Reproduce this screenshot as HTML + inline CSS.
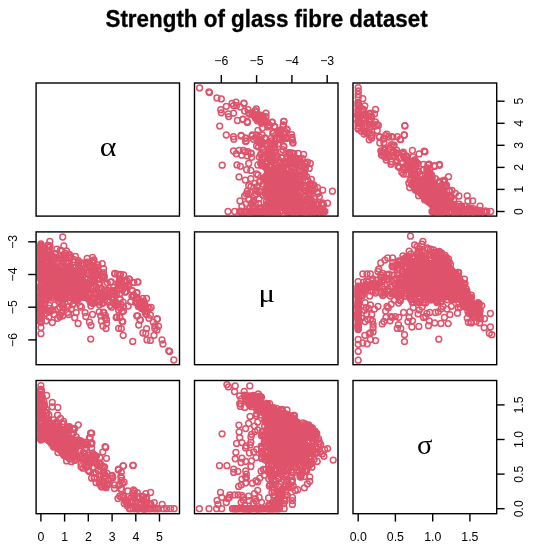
<!DOCTYPE html>
<html lang="en"><head><meta charset="utf-8"><title>Strength of glass fibre dataset</title>
<style>html,body{margin:0;padding:0;background:#fff}svg{display:block}</style></head>
<body>
<svg width="535" height="550" viewBox="0 0 535 550">
<rect width="535" height="550" fill="#fff"/>
<text transform="translate(266.6 26.9) scale(1 1.07)" text-anchor="middle" font-family="'Liberation Sans',Arial,Helvetica,sans-serif" font-weight="bold" font-size="22.4px" fill="#000" stroke="#000" stroke-width="0.3">Strength of glass fibre dataset</text>
<g fill="none" stroke="#DF536B" stroke-width="1.5">
<clipPath id="cp01"><rect x="194.5" y="83.0" width="143.5" height="133.1"/></clipPath>
<g clip-path="url(#cp01)">
<polygon points="272.0,170.0 286.0,168.0 293.0,180.0 299.0,192.0 304.0,203.0 307.0,211.0 270.0,211.0 270.0,190.0" fill="#DF536B" stroke="none"/>
<circle cx="199.6" cy="87.9" r="2.9"/><circle cx="208.9" cy="91.8" r="2.9"/><circle cx="209.5" cy="92.6" r="2.9"/><circle cx="216.9" cy="98.0" r="2.9"/><circle cx="221.3" cy="98.9" r="2.9"/><circle cx="226.3" cy="106.3" r="2.9"/><circle cx="220.8" cy="109.7" r="2.9"/><circle cx="221.3" cy="112.8" r="2.9"/><circle cx="232.1" cy="103.5" r="2.9"/><circle cx="233.5" cy="105.6" r="2.9"/><circle cx="236.0" cy="102.1" r="2.9"/><circle cx="236.5" cy="105.6" r="2.9"/><circle cx="243.9" cy="103.2" r="2.9"/><circle cx="233.5" cy="113.2" r="2.9"/><circle cx="228.7" cy="116.6" r="2.9"/><circle cx="228.2" cy="113.9" r="2.9"/><circle cx="237.4" cy="120.5" r="2.9"/><circle cx="242.9" cy="119.4" r="2.9"/><circle cx="247.3" cy="121.5" r="2.9"/><circle cx="240.4" cy="107.0" r="2.9"/><circle cx="244.6" cy="111.1" r="2.9"/><circle cx="248.0" cy="109.7" r="2.9"/><circle cx="248.7" cy="113.2" r="2.9"/><circle cx="256.3" cy="109.0" r="2.9"/><circle cx="219.7" cy="126.1" r="2.9"/><circle cx="226.3" cy="135.0" r="2.9"/><circle cx="233.5" cy="136.7" r="2.9"/><circle cx="233.8" cy="139.2" r="2.9"/><circle cx="241.1" cy="136.0" r="2.9"/><circle cx="245.9" cy="138.1" r="2.9"/><circle cx="246.2" cy="140.9" r="2.9"/><circle cx="252.2" cy="136.0" r="2.9"/><circle cx="266.0" cy="113.2" r="2.9"/><circle cx="266.0" cy="116.7" r="2.9"/><circle cx="272.2" cy="122.2" r="2.9"/><circle cx="268.1" cy="125.6" r="2.9"/><circle cx="274.3" cy="126.3" r="2.9"/><circle cx="284.0" cy="121.5" r="2.9"/><circle cx="283.3" cy="125.0" r="2.9"/><circle cx="286.7" cy="129.1" r="2.9"/><circle cx="272.9" cy="133.3" r="2.9"/><circle cx="279.8" cy="132.6" r="2.9"/><circle cx="284.0" cy="132.6" r="2.9"/><circle cx="291.6" cy="134.6" r="2.9"/><circle cx="292.0" cy="137.4" r="2.9"/><circle cx="292.3" cy="140.2" r="2.9"/><circle cx="293.0" cy="142.9" r="2.9"/><circle cx="222.2" cy="165.2" r="2.9"/><circle cx="237.0" cy="164.9" r="2.9"/><circle cx="240.4" cy="166.3" r="2.9"/><circle cx="248.7" cy="163.5" r="2.9"/><circle cx="246.6" cy="169.7" r="2.9"/><circle cx="250.8" cy="170.4" r="2.9"/><circle cx="239.0" cy="176.9" r="2.9"/><circle cx="245.3" cy="180.1" r="2.9"/><circle cx="250.8" cy="178.7" r="2.9"/><circle cx="248.7" cy="185.7" r="2.9"/><circle cx="247.3" cy="191.2" r="2.9"/><circle cx="244.6" cy="196.0" r="2.9"/><circle cx="240.0" cy="200.9" r="2.9"/><circle cx="233.5" cy="151.0" r="2.9"/><circle cx="236.3" cy="153.8" r="2.9"/><circle cx="239.0" cy="150.4" r="2.9"/><circle cx="241.8" cy="155.2" r="2.9"/><circle cx="245.3" cy="151.8" r="2.9"/><circle cx="247.3" cy="155.9" r="2.9"/><circle cx="250.8" cy="153.1" r="2.9"/><circle cx="251.5" cy="157.3" r="2.9"/><circle cx="332.4" cy="191.2" r="2.9"/><circle cx="327.5" cy="203.2" r="2.9"/><circle cx="322.7" cy="190.2" r="2.9"/><circle cx="288.8" cy="154.3" r="2.9"/><circle cx="303.6" cy="154.5" r="2.9"/><circle cx="299.9" cy="158.7" r="2.9"/><circle cx="307.5" cy="162.1" r="2.9"/><circle cx="310.3" cy="163.5" r="2.9"/><circle cx="309.2" cy="168.4" r="2.9"/><circle cx="306.8" cy="176.7" r="2.9"/><circle cx="311.4" cy="179.4" r="2.9"/><circle cx="313.7" cy="185.0" r="2.9"/><circle cx="317.5" cy="187.7" r="2.9"/><circle cx="319.3" cy="196.7" r="2.9"/><circle cx="322.7" cy="202.9" r="2.9"/><circle cx="321.3" cy="209.9" r="2.9"/><circle cx="243.9" cy="103.4" r="2.9"/><circle cx="242.8" cy="119.1" r="2.9"/><circle cx="247.3" cy="122.4" r="2.9"/><circle cx="272.0" cy="122.4" r="2.9"/><circle cx="274.8" cy="126.9" r="2.9"/><circle cx="283.7" cy="121.3" r="2.9"/><circle cx="283.2" cy="125.8" r="2.9"/><circle cx="287.1" cy="129.7" r="2.9"/><circle cx="268.0" cy="126.9" r="2.9"/><circle cx="262.4" cy="128.0" r="2.9"/><circle cx="257.9" cy="130.3" r="2.9"/><circle cx="273.6" cy="132.5" r="2.9"/><circle cx="279.3" cy="130.8" r="2.9"/><circle cx="241.1" cy="135.3" r="2.9"/><circle cx="245.6" cy="138.1" r="2.9"/><circle cx="245.6" cy="141.5" r="2.9"/><circle cx="252.3" cy="134.8" r="2.9"/><circle cx="256.8" cy="134.8" r="2.9"/><circle cx="253.5" cy="139.3" r="2.9"/><circle cx="257.9" cy="141.5" r="2.9"/><circle cx="258.5" cy="147.1" r="2.9"/><circle cx="264.7" cy="138.1" r="2.9"/><circle cx="266.9" cy="143.7" r="2.9"/><circle cx="291.6" cy="138.7" r="2.9"/><circle cx="292.7" cy="142.6" r="2.9"/><circle cx="243.4" cy="150.5" r="2.9"/><circle cx="247.9" cy="151.6" r="2.9"/><circle cx="251.2" cy="153.3" r="2.9"/><circle cx="268.0" cy="152.7" r="2.9"/><circle cx="289.3" cy="152.7" r="2.9"/><circle cx="293.8" cy="153.3" r="2.9"/><circle cx="298.3" cy="153.3" r="2.9"/><circle cx="252.3" cy="114.8" r="2.9"/><circle cx="262.1" cy="118.3" r="2.9"/><circle cx="252.7" cy="113.5" r="2.9"/><circle cx="257.4" cy="120.9" r="2.9"/><circle cx="255.2" cy="110.7" r="2.9"/><circle cx="259.3" cy="120.0" r="2.9"/><circle cx="261.5" cy="123.3" r="2.9"/><circle cx="257.6" cy="116.1" r="2.9"/><circle cx="267.5" cy="122.8" r="2.9"/><circle cx="256.5" cy="112.2" r="2.9"/><circle cx="257.6" cy="117.6" r="2.9"/><circle cx="256.3" cy="116.0" r="2.9"/><circle cx="257.3" cy="119.4" r="2.9"/><circle cx="261.2" cy="120.3" r="2.9"/><circle cx="249.7" cy="114.2" r="2.9"/><circle cx="252.5" cy="113.0" r="2.9"/><circle cx="252.0" cy="113.3" r="2.9"/><circle cx="254.2" cy="115.6" r="2.9"/><circle cx="269.8" cy="125.3" r="2.9"/><circle cx="262.9" cy="115.9" r="2.9"/><circle cx="255.3" cy="117.9" r="2.9"/><circle cx="256.5" cy="117.7" r="2.9"/><circle cx="259.6" cy="114.8" r="2.9"/><circle cx="261.0" cy="116.4" r="2.9"/><circle cx="265.3" cy="120.5" r="2.9"/><circle cx="260.0" cy="118.7" r="2.9"/><circle cx="262.1" cy="117.9" r="2.9"/><circle cx="261.4" cy="119.2" r="2.9"/><circle cx="261.1" cy="121.8" r="2.9"/><circle cx="259.3" cy="115.4" r="2.9"/><circle cx="259.6" cy="120.1" r="2.9"/><circle cx="264.2" cy="120.2" r="2.9"/><circle cx="260.9" cy="140.8" r="2.9"/><circle cx="260.0" cy="139.7" r="2.9"/><circle cx="259.6" cy="136.9" r="2.9"/><circle cx="255.4" cy="137.6" r="2.9"/><circle cx="261.1" cy="144.3" r="2.9"/><circle cx="262.4" cy="142.7" r="2.9"/><circle cx="261.7" cy="141.4" r="2.9"/><circle cx="259.6" cy="141.7" r="2.9"/><circle cx="265.2" cy="137.9" r="2.9"/><circle cx="256.6" cy="145.9" r="2.9"/><circle cx="259.9" cy="142.4" r="2.9"/><circle cx="262.1" cy="135.0" r="2.9"/><circle cx="267.5" cy="145.2" r="2.9"/><circle cx="259.6" cy="141.6" r="2.9"/><circle cx="305.3" cy="211.5" r="2.9"/><circle cx="267.0" cy="211.5" r="2.9"/><circle cx="264.1" cy="211.5" r="2.9"/><circle cx="244.8" cy="211.5" r="2.9"/><circle cx="246.3" cy="211.5" r="2.9"/><circle cx="288.9" cy="211.5" r="2.9"/><circle cx="259.5" cy="211.5" r="2.9"/><circle cx="290.5" cy="211.5" r="2.9"/><circle cx="270.7" cy="211.5" r="2.9"/><circle cx="277.7" cy="211.5" r="2.9"/><circle cx="321.5" cy="211.5" r="2.9"/><circle cx="280.3" cy="211.5" r="2.9"/><circle cx="288.2" cy="211.5" r="2.9"/><circle cx="313.5" cy="211.5" r="2.9"/><circle cx="254.3" cy="211.5" r="2.9"/><circle cx="251.8" cy="211.5" r="2.9"/><circle cx="317.1" cy="211.5" r="2.9"/><circle cx="309.2" cy="211.5" r="2.9"/><circle cx="260.1" cy="211.5" r="2.9"/><circle cx="254.9" cy="211.5" r="2.9"/><circle cx="302.5" cy="211.5" r="2.9"/><circle cx="319.8" cy="211.5" r="2.9"/><circle cx="255.5" cy="211.5" r="2.9"/><circle cx="320.7" cy="211.5" r="2.9"/><circle cx="314.8" cy="211.5" r="2.9"/><circle cx="290.7" cy="211.5" r="2.9"/><circle cx="275.0" cy="211.5" r="2.9"/><circle cx="247.5" cy="211.5" r="2.9"/><circle cx="241.8" cy="211.5" r="2.9"/><circle cx="321.8" cy="211.5" r="2.9"/><circle cx="259.1" cy="211.5" r="2.9"/><circle cx="299.4" cy="211.5" r="2.9"/><circle cx="260.7" cy="211.5" r="2.9"/><circle cx="309.8" cy="211.5" r="2.9"/><circle cx="290.1" cy="211.5" r="2.9"/><circle cx="263.9" cy="211.5" r="2.9"/><circle cx="253.7" cy="211.5" r="2.9"/><circle cx="300.8" cy="211.5" r="2.9"/><circle cx="244.4" cy="211.5" r="2.9"/><circle cx="258.3" cy="211.5" r="2.9"/><circle cx="286.9" cy="211.5" r="2.9"/><circle cx="312.2" cy="211.5" r="2.9"/><circle cx="291.6" cy="211.5" r="2.9"/><circle cx="262.7" cy="211.5" r="2.9"/><circle cx="317.9" cy="211.5" r="2.9"/><circle cx="256.1" cy="211.5" r="2.9"/><circle cx="239.9" cy="211.5" r="2.9"/><circle cx="261.8" cy="211.5" r="2.9"/><circle cx="277.1" cy="211.5" r="2.9"/><circle cx="243.7" cy="211.5" r="2.9"/><circle cx="253.7" cy="211.5" r="2.9"/><circle cx="270.4" cy="211.5" r="2.9"/><circle cx="288.0" cy="211.5" r="2.9"/><circle cx="249.9" cy="211.5" r="2.9"/><circle cx="269.8" cy="211.5" r="2.9"/><circle cx="315.6" cy="211.5" r="2.9"/><circle cx="323.3" cy="211.5" r="2.9"/><circle cx="295.3" cy="211.5" r="2.9"/><circle cx="298.3" cy="211.5" r="2.9"/><circle cx="289.1" cy="211.5" r="2.9"/><circle cx="250.6" cy="211.5" r="2.9"/><circle cx="241.5" cy="211.5" r="2.9"/><circle cx="240.0" cy="211.5" r="2.9"/><circle cx="317.2" cy="211.5" r="2.9"/><circle cx="299.1" cy="211.5" r="2.9"/><circle cx="321.8" cy="211.5" r="2.9"/><circle cx="240.3" cy="211.5" r="2.9"/><circle cx="293.5" cy="211.5" r="2.9"/><circle cx="280.2" cy="211.5" r="2.9"/><circle cx="301.7" cy="211.5" r="2.9"/><circle cx="266.1" cy="211.5" r="2.9"/><circle cx="324.9" cy="211.5" r="2.9"/><circle cx="245.0" cy="211.5" r="2.9"/><circle cx="285.7" cy="211.5" r="2.9"/><circle cx="302.3" cy="211.5" r="2.9"/><circle cx="316.4" cy="211.5" r="2.9"/><circle cx="302.3" cy="211.5" r="2.9"/><circle cx="299.4" cy="211.5" r="2.9"/><circle cx="307.1" cy="211.5" r="2.9"/><circle cx="317.6" cy="211.5" r="2.9"/><circle cx="228.0" cy="211.5" r="2.9"/><circle cx="234.6" cy="211.5" r="2.9"/><circle cx="280.6" cy="191.5" r="2.9"/><circle cx="309.7" cy="203.6" r="2.9"/><circle cx="284.1" cy="198.4" r="2.9"/><circle cx="295.1" cy="171.9" r="2.9"/><circle cx="292.9" cy="186.6" r="2.9"/><circle cx="266.3" cy="188.6" r="2.9"/><circle cx="301.0" cy="184.8" r="2.9"/><circle cx="285.3" cy="201.5" r="2.9"/><circle cx="266.4" cy="195.8" r="2.9"/><circle cx="299.0" cy="179.3" r="2.9"/><circle cx="294.6" cy="206.8" r="2.9"/><circle cx="278.0" cy="191.1" r="2.9"/><circle cx="285.4" cy="205.0" r="2.9"/><circle cx="279.3" cy="190.3" r="2.9"/><circle cx="304.7" cy="206.4" r="2.9"/><circle cx="292.9" cy="167.6" r="2.9"/><circle cx="269.2" cy="179.3" r="2.9"/><circle cx="306.4" cy="202.2" r="2.9"/><circle cx="299.7" cy="208.8" r="2.9"/><circle cx="276.7" cy="158.0" r="2.9"/><circle cx="273.3" cy="173.9" r="2.9"/><circle cx="295.2" cy="179.1" r="2.9"/><circle cx="278.7" cy="201.5" r="2.9"/><circle cx="299.6" cy="184.1" r="2.9"/><circle cx="278.4" cy="198.4" r="2.9"/><circle cx="295.3" cy="176.0" r="2.9"/><circle cx="295.4" cy="189.6" r="2.9"/><circle cx="304.8" cy="209.3" r="2.9"/><circle cx="287.2" cy="158.6" r="2.9"/><circle cx="276.4" cy="169.5" r="2.9"/><circle cx="294.6" cy="196.2" r="2.9"/><circle cx="282.9" cy="198.5" r="2.9"/><circle cx="268.9" cy="176.5" r="2.9"/><circle cx="295.2" cy="206.1" r="2.9"/><circle cx="282.0" cy="184.0" r="2.9"/><circle cx="308.6" cy="198.8" r="2.9"/><circle cx="300.3" cy="200.2" r="2.9"/><circle cx="296.0" cy="193.6" r="2.9"/><circle cx="273.3" cy="205.5" r="2.9"/><circle cx="314.0" cy="210.5" r="2.9"/><circle cx="290.5" cy="198.4" r="2.9"/><circle cx="279.0" cy="206.1" r="2.9"/><circle cx="266.4" cy="175.7" r="2.9"/><circle cx="291.2" cy="196.9" r="2.9"/><circle cx="279.8" cy="198.2" r="2.9"/><circle cx="269.4" cy="156.7" r="2.9"/><circle cx="289.4" cy="194.0" r="2.9"/><circle cx="306.5" cy="191.8" r="2.9"/><circle cx="273.7" cy="181.2" r="2.9"/><circle cx="277.4" cy="194.4" r="2.9"/><circle cx="295.9" cy="181.0" r="2.9"/><circle cx="278.5" cy="171.8" r="2.9"/><circle cx="306.8" cy="205.5" r="2.9"/><circle cx="273.0" cy="202.3" r="2.9"/><circle cx="292.4" cy="160.1" r="2.9"/><circle cx="290.4" cy="179.7" r="2.9"/><circle cx="283.2" cy="199.1" r="2.9"/><circle cx="291.8" cy="178.9" r="2.9"/><circle cx="290.6" cy="173.9" r="2.9"/><circle cx="312.7" cy="207.0" r="2.9"/><circle cx="276.3" cy="177.8" r="2.9"/><circle cx="268.7" cy="175.2" r="2.9"/><circle cx="305.2" cy="205.5" r="2.9"/><circle cx="287.3" cy="167.6" r="2.9"/><circle cx="272.1" cy="187.2" r="2.9"/><circle cx="272.3" cy="161.8" r="2.9"/><circle cx="280.8" cy="187.3" r="2.9"/><circle cx="267.6" cy="194.5" r="2.9"/><circle cx="268.5" cy="180.2" r="2.9"/><circle cx="281.9" cy="173.9" r="2.9"/><circle cx="272.8" cy="188.0" r="2.9"/><circle cx="295.8" cy="181.4" r="2.9"/><circle cx="301.3" cy="199.7" r="2.9"/><circle cx="278.7" cy="207.0" r="2.9"/><circle cx="273.6" cy="211.5" r="2.9"/><circle cx="274.7" cy="194.2" r="2.9"/><circle cx="283.3" cy="191.5" r="2.9"/><circle cx="298.2" cy="206.2" r="2.9"/><circle cx="288.8" cy="196.3" r="2.9"/><circle cx="288.6" cy="191.6" r="2.9"/><circle cx="272.0" cy="151.6" r="2.9"/><circle cx="291.2" cy="180.5" r="2.9"/><circle cx="271.8" cy="160.3" r="2.9"/><circle cx="306.5" cy="211.4" r="2.9"/><circle cx="265.3" cy="208.8" r="2.9"/><circle cx="286.5" cy="196.7" r="2.9"/><circle cx="289.3" cy="175.0" r="2.9"/><circle cx="299.2" cy="201.9" r="2.9"/><circle cx="271.6" cy="176.5" r="2.9"/><circle cx="272.3" cy="157.7" r="2.9"/><circle cx="309.3" cy="199.1" r="2.9"/><circle cx="299.3" cy="202.9" r="2.9"/><circle cx="295.4" cy="173.3" r="2.9"/><circle cx="275.7" cy="206.2" r="2.9"/><circle cx="301.5" cy="197.6" r="2.9"/><circle cx="309.5" cy="204.2" r="2.9"/><circle cx="298.8" cy="196.9" r="2.9"/><circle cx="280.1" cy="177.5" r="2.9"/><circle cx="295.9" cy="187.6" r="2.9"/><circle cx="274.3" cy="208.4" r="2.9"/><circle cx="297.0" cy="184.0" r="2.9"/><circle cx="290.3" cy="172.3" r="2.9"/><circle cx="299.2" cy="196.5" r="2.9"/><circle cx="294.6" cy="195.0" r="2.9"/><circle cx="275.6" cy="173.1" r="2.9"/><circle cx="275.3" cy="205.9" r="2.9"/><circle cx="291.2" cy="180.0" r="2.9"/><circle cx="293.7" cy="196.4" r="2.9"/><circle cx="264.4" cy="207.5" r="2.9"/><circle cx="270.5" cy="177.7" r="2.9"/><circle cx="271.0" cy="179.2" r="2.9"/><circle cx="289.9" cy="185.9" r="2.9"/><circle cx="281.4" cy="165.6" r="2.9"/><circle cx="296.7" cy="183.4" r="2.9"/><circle cx="277.0" cy="193.6" r="2.9"/><circle cx="275.0" cy="149.8" r="2.9"/><circle cx="270.3" cy="196.1" r="2.9"/><circle cx="282.7" cy="205.3" r="2.9"/><circle cx="265.9" cy="205.9" r="2.9"/><circle cx="284.8" cy="178.0" r="2.9"/><circle cx="289.7" cy="207.9" r="2.9"/><circle cx="290.0" cy="155.1" r="2.9"/><circle cx="285.5" cy="190.4" r="2.9"/><circle cx="286.1" cy="164.0" r="2.9"/><circle cx="292.9" cy="174.3" r="2.9"/><circle cx="268.0" cy="205.0" r="2.9"/><circle cx="303.6" cy="187.6" r="2.9"/><circle cx="298.3" cy="183.7" r="2.9"/><circle cx="293.4" cy="188.2" r="2.9"/><circle cx="275.2" cy="210.7" r="2.9"/><circle cx="310.5" cy="204.1" r="2.9"/><circle cx="266.6" cy="191.0" r="2.9"/><circle cx="291.2" cy="188.0" r="2.9"/><circle cx="281.8" cy="178.1" r="2.9"/><circle cx="273.2" cy="169.3" r="2.9"/><circle cx="301.5" cy="201.5" r="2.9"/><circle cx="284.5" cy="163.8" r="2.9"/><circle cx="296.6" cy="211.3" r="2.9"/><circle cx="279.2" cy="182.7" r="2.9"/><circle cx="301.5" cy="206.9" r="2.9"/><circle cx="267.1" cy="203.9" r="2.9"/><circle cx="291.9" cy="178.5" r="2.9"/><circle cx="273.3" cy="190.0" r="2.9"/><circle cx="266.3" cy="166.7" r="2.9"/><circle cx="300.4" cy="192.1" r="2.9"/><circle cx="277.0" cy="156.3" r="2.9"/><circle cx="281.0" cy="194.2" r="2.9"/><circle cx="299.6" cy="184.0" r="2.9"/><circle cx="310.7" cy="208.1" r="2.9"/><circle cx="278.8" cy="173.0" r="2.9"/><circle cx="311.5" cy="205.2" r="2.9"/><circle cx="275.2" cy="170.5" r="2.9"/><circle cx="281.4" cy="170.6" r="2.9"/><circle cx="272.3" cy="183.6" r="2.9"/><circle cx="271.4" cy="196.3" r="2.9"/><circle cx="290.8" cy="183.9" r="2.9"/><circle cx="291.0" cy="198.2" r="2.9"/><circle cx="301.1" cy="205.4" r="2.9"/><circle cx="266.5" cy="188.2" r="2.9"/><circle cx="269.6" cy="195.5" r="2.9"/><circle cx="273.7" cy="196.7" r="2.9"/><circle cx="289.6" cy="196.7" r="2.9"/><circle cx="282.9" cy="169.0" r="2.9"/><circle cx="288.2" cy="181.9" r="2.9"/><circle cx="300.2" cy="193.0" r="2.9"/><circle cx="305.8" cy="190.3" r="2.9"/><circle cx="307.2" cy="199.4" r="2.9"/><circle cx="306.2" cy="204.8" r="2.9"/><circle cx="289.8" cy="193.2" r="2.9"/><circle cx="301.3" cy="211.4" r="2.9"/><circle cx="281.9" cy="157.9" r="2.9"/><circle cx="272.8" cy="174.6" r="2.9"/><circle cx="277.5" cy="210.0" r="2.9"/><circle cx="265.1" cy="167.0" r="2.9"/><circle cx="268.1" cy="189.1" r="2.9"/><circle cx="265.3" cy="176.8" r="2.9"/><circle cx="293.0" cy="206.1" r="2.9"/><circle cx="274.5" cy="193.6" r="2.9"/><circle cx="293.5" cy="161.6" r="2.9"/><circle cx="271.8" cy="165.3" r="2.9"/><circle cx="271.1" cy="196.2" r="2.9"/><circle cx="278.5" cy="182.6" r="2.9"/><circle cx="275.8" cy="204.7" r="2.9"/><circle cx="291.0" cy="209.2" r="2.9"/><circle cx="287.6" cy="161.4" r="2.9"/><circle cx="264.6" cy="208.6" r="2.9"/><circle cx="290.0" cy="180.5" r="2.9"/><circle cx="276.6" cy="211.4" r="2.9"/><circle cx="281.7" cy="198.8" r="2.9"/><circle cx="299.8" cy="186.4" r="2.9"/><circle cx="295.8" cy="211.5" r="2.9"/><circle cx="276.1" cy="181.7" r="2.9"/><circle cx="270.0" cy="197.1" r="2.9"/><circle cx="306.8" cy="200.4" r="2.9"/><circle cx="266.4" cy="164.5" r="2.9"/><circle cx="287.4" cy="177.5" r="2.9"/><circle cx="270.4" cy="201.1" r="2.9"/><circle cx="278.5" cy="167.2" r="2.9"/><circle cx="266.0" cy="166.9" r="2.9"/><circle cx="286.8" cy="193.5" r="2.9"/><circle cx="281.1" cy="191.7" r="2.9"/><circle cx="267.6" cy="172.6" r="2.9"/><circle cx="286.5" cy="209.8" r="2.9"/><circle cx="291.9" cy="176.8" r="2.9"/><circle cx="262.6" cy="211.5" r="2.9"/><circle cx="281.9" cy="182.1" r="2.9"/><circle cx="277.8" cy="168.9" r="2.9"/><circle cx="282.8" cy="190.3" r="2.9"/><circle cx="275.6" cy="160.0" r="2.9"/><circle cx="269.5" cy="153.1" r="2.9"/><circle cx="297.9" cy="193.0" r="2.9"/><circle cx="271.5" cy="173.1" r="2.9"/><circle cx="266.8" cy="161.7" r="2.9"/><circle cx="270.3" cy="155.1" r="2.9"/><circle cx="289.1" cy="189.1" r="2.9"/><circle cx="302.6" cy="200.4" r="2.9"/><circle cx="282.5" cy="168.5" r="2.9"/><circle cx="283.2" cy="192.5" r="2.9"/><circle cx="297.0" cy="186.6" r="2.9"/><circle cx="280.1" cy="189.3" r="2.9"/><circle cx="267.6" cy="171.5" r="2.9"/><circle cx="289.0" cy="198.3" r="2.9"/><circle cx="270.4" cy="196.8" r="2.9"/><circle cx="280.7" cy="179.5" r="2.9"/><circle cx="269.5" cy="193.4" r="2.9"/><circle cx="299.9" cy="201.3" r="2.9"/><circle cx="272.5" cy="208.4" r="2.9"/><circle cx="266.4" cy="162.9" r="2.9"/><circle cx="292.6" cy="192.3" r="2.9"/><circle cx="279.4" cy="207.4" r="2.9"/><circle cx="281.1" cy="177.1" r="2.9"/><circle cx="268.6" cy="210.3" r="2.9"/><circle cx="269.2" cy="205.8" r="2.9"/><circle cx="290.8" cy="183.4" r="2.9"/><circle cx="310.2" cy="211.5" r="2.9"/><circle cx="268.5" cy="200.6" r="2.9"/><circle cx="277.3" cy="205.3" r="2.9"/><circle cx="297.6" cy="194.9" r="2.9"/><circle cx="282.2" cy="185.5" r="2.9"/><circle cx="272.6" cy="177.4" r="2.9"/><circle cx="269.6" cy="172.1" r="2.9"/><circle cx="289.5" cy="164.1" r="2.9"/><circle cx="286.9" cy="173.7" r="2.9"/><circle cx="310.7" cy="198.3" r="2.9"/><circle cx="305.6" cy="180.9" r="2.9"/><circle cx="317.4" cy="192.1" r="2.9"/><circle cx="314.8" cy="198.6" r="2.9"/><circle cx="304.6" cy="162.9" r="2.9"/><circle cx="307.9" cy="180.4" r="2.9"/><circle cx="304.9" cy="176.4" r="2.9"/><circle cx="295.6" cy="158.2" r="2.9"/><circle cx="296.2" cy="159.1" r="2.9"/><circle cx="311.9" cy="201.3" r="2.9"/><circle cx="301.8" cy="172.0" r="2.9"/><circle cx="312.0" cy="203.5" r="2.9"/><circle cx="303.7" cy="173.8" r="2.9"/><circle cx="299.5" cy="160.6" r="2.9"/><circle cx="294.3" cy="162.5" r="2.9"/><circle cx="303.8" cy="168.4" r="2.9"/><circle cx="300.1" cy="166.3" r="2.9"/><circle cx="313.0" cy="206.1" r="2.9"/><circle cx="299.4" cy="162.6" r="2.9"/><circle cx="316.1" cy="210.5" r="2.9"/><circle cx="311.8" cy="191.0" r="2.9"/><circle cx="321.4" cy="203.7" r="2.9"/><circle cx="304.9" cy="166.6" r="2.9"/><circle cx="302.2" cy="158.5" r="2.9"/><circle cx="308.0" cy="193.2" r="2.9"/><circle cx="304.8" cy="185.9" r="2.9"/><circle cx="303.9" cy="169.5" r="2.9"/><circle cx="314.8" cy="188.5" r="2.9"/><circle cx="302.0" cy="166.4" r="2.9"/><circle cx="316.9" cy="204.4" r="2.9"/><circle cx="305.3" cy="168.4" r="2.9"/><circle cx="310.4" cy="183.5" r="2.9"/><circle cx="309.5" cy="184.3" r="2.9"/><circle cx="316.9" cy="210.0" r="2.9"/><circle cx="312.8" cy="192.8" r="2.9"/><circle cx="306.2" cy="163.9" r="2.9"/><circle cx="291.5" cy="153.0" r="2.9"/><circle cx="318.2" cy="203.8" r="2.9"/><circle cx="298.8" cy="170.0" r="2.9"/><circle cx="314.3" cy="202.1" r="2.9"/><circle cx="295.3" cy="160.6" r="2.9"/><circle cx="314.6" cy="210.8" r="2.9"/><circle cx="296.9" cy="163.3" r="2.9"/><circle cx="304.4" cy="172.0" r="2.9"/><circle cx="283.8" cy="146.1" r="2.9"/><circle cx="282.2" cy="138.6" r="2.9"/><circle cx="283.7" cy="146.7" r="2.9"/><circle cx="282.9" cy="149.7" r="2.9"/><circle cx="268.2" cy="149.1" r="2.9"/><circle cx="274.8" cy="144.4" r="2.9"/><circle cx="271.5" cy="148.3" r="2.9"/><circle cx="271.0" cy="138.4" r="2.9"/><circle cx="274.1" cy="143.5" r="2.9"/><circle cx="283.8" cy="137.9" r="2.9"/><circle cx="280.0" cy="137.7" r="2.9"/><circle cx="272.1" cy="148.2" r="2.9"/><circle cx="273.1" cy="132.8" r="2.9"/><circle cx="273.4" cy="145.1" r="2.9"/><circle cx="270.6" cy="145.1" r="2.9"/><circle cx="278.0" cy="143.9" r="2.9"/><circle cx="258.0" cy="175.0" r="2.9"/><circle cx="254.8" cy="183.3" r="2.9"/><circle cx="262.6" cy="156.7" r="2.9"/><circle cx="256.3" cy="193.8" r="2.9"/><circle cx="261.2" cy="208.8" r="2.9"/><circle cx="255.4" cy="211.3" r="2.9"/><circle cx="255.8" cy="189.9" r="2.9"/><circle cx="260.3" cy="181.3" r="2.9"/><circle cx="259.2" cy="157.1" r="2.9"/><circle cx="257.2" cy="191.3" r="2.9"/><circle cx="256.5" cy="173.8" r="2.9"/><circle cx="259.3" cy="181.9" r="2.9"/><circle cx="257.0" cy="186.8" r="2.9"/><circle cx="259.7" cy="207.8" r="2.9"/><circle cx="254.6" cy="195.7" r="2.9"/><circle cx="264.6" cy="157.9" r="2.9"/><circle cx="253.2" cy="202.1" r="2.9"/><circle cx="260.7" cy="208.1" r="2.9"/><circle cx="258.2" cy="211.5" r="2.9"/><circle cx="261.8" cy="165.5" r="2.9"/><circle cx="263.5" cy="178.2" r="2.9"/><circle cx="258.7" cy="203.7" r="2.9"/><circle cx="260.6" cy="154.6" r="2.9"/><circle cx="259.0" cy="198.8" r="2.9"/><circle cx="257.8" cy="165.0" r="2.9"/><circle cx="262.9" cy="184.1" r="2.9"/><circle cx="255.2" cy="203.6" r="2.9"/><circle cx="264.0" cy="157.3" r="2.9"/><circle cx="293.5" cy="201.8" r="2.9"/><circle cx="296.8" cy="164.8" r="2.9"/><circle cx="266.8" cy="181.3" r="2.9"/><circle cx="263.7" cy="179.1" r="2.9"/><circle cx="250.9" cy="186.6" r="2.9"/><circle cx="279.6" cy="139.7" r="2.9"/><circle cx="249.9" cy="207.1" r="2.9"/><circle cx="291.9" cy="158.7" r="2.9"/><circle cx="256.7" cy="211.5" r="2.9"/><circle cx="298.8" cy="190.1" r="2.9"/><circle cx="270.6" cy="154.8" r="2.9"/><circle cx="274.7" cy="141.1" r="2.9"/><circle cx="293.7" cy="164.3" r="2.9"/><circle cx="278.8" cy="171.0" r="2.9"/><circle cx="289.2" cy="152.6" r="2.9"/><circle cx="312.6" cy="185.2" r="2.9"/><circle cx="278.7" cy="206.5" r="2.9"/><circle cx="272.9" cy="190.7" r="2.9"/><circle cx="291.1" cy="166.2" r="2.9"/><circle cx="263.9" cy="165.6" r="2.9"/><circle cx="299.1" cy="184.8" r="2.9"/><circle cx="260.8" cy="163.2" r="2.9"/><circle cx="251.2" cy="203.3" r="2.9"/><circle cx="261.4" cy="163.9" r="2.9"/><circle cx="269.0" cy="197.1" r="2.9"/><circle cx="286.4" cy="137.3" r="2.9"/><circle cx="270.9" cy="160.1" r="2.9"/><circle cx="301.5" cy="184.5" r="2.9"/><circle cx="269.2" cy="203.5" r="2.9"/><circle cx="293.8" cy="167.9" r="2.9"/><circle cx="270.7" cy="167.6" r="2.9"/><circle cx="266.9" cy="184.7" r="2.9"/><circle cx="291.5" cy="209.5" r="2.9"/><circle cx="323.0" cy="211.4" r="2.9"/><circle cx="273.6" cy="197.8" r="2.9"/><circle cx="295.2" cy="187.2" r="2.9"/><circle cx="279.3" cy="162.3" r="2.9"/><circle cx="271.4" cy="140.9" r="2.9"/><circle cx="273.5" cy="190.6" r="2.9"/><circle cx="295.2" cy="180.7" r="2.9"/><circle cx="309.0" cy="189.7" r="2.9"/><circle cx="279.8" cy="130.3" r="2.9"/><circle cx="313.1" cy="207.4" r="2.9"/><circle cx="269.8" cy="173.5" r="2.9"/><circle cx="285.4" cy="138.2" r="2.9"/><circle cx="283.1" cy="139.3" r="2.9"/><circle cx="265.0" cy="193.5" r="2.9"/><circle cx="261.0" cy="163.4" r="2.9"/><circle cx="278.4" cy="175.3" r="2.9"/><circle cx="279.0" cy="199.6" r="2.9"/><circle cx="248.9" cy="199.6" r="2.9"/><circle cx="253.2" cy="209.5" r="2.9"/><circle cx="284.6" cy="162.7" r="2.9"/><circle cx="292.0" cy="200.7" r="2.9"/><circle cx="309.6" cy="190.0" r="2.9"/><circle cx="285.1" cy="131.4" r="2.9"/><circle cx="275.4" cy="135.5" r="2.9"/><circle cx="281.6" cy="183.3" r="2.9"/><circle cx="315.4" cy="207.6" r="2.9"/><circle cx="288.3" cy="170.6" r="2.9"/><circle cx="265.4" cy="190.4" r="2.9"/><circle cx="262.0" cy="159.5" r="2.9"/><circle cx="276.5" cy="168.6" r="2.9"/><circle cx="270.5" cy="164.7" r="2.9"/><circle cx="278.3" cy="133.1" r="2.9"/><circle cx="284.9" cy="174.4" r="2.9"/><circle cx="274.0" cy="147.5" r="2.9"/><circle cx="266.7" cy="169.2" r="2.9"/><circle cx="259.6" cy="191.2" r="2.9"/><circle cx="281.4" cy="129.7" r="2.9"/><circle cx="274.6" cy="209.2" r="2.9"/><circle cx="290.8" cy="159.6" r="2.9"/><circle cx="265.6" cy="179.6" r="2.9"/><circle cx="290.1" cy="155.2" r="2.9"/><circle cx="282.3" cy="171.8" r="2.9"/><circle cx="263.0" cy="195.0" r="2.9"/><circle cx="276.2" cy="200.4" r="2.9"/><circle cx="274.2" cy="152.7" r="2.9"/><circle cx="267.9" cy="155.3" r="2.9"/><circle cx="309.6" cy="194.4" r="2.9"/><circle cx="293.1" cy="174.8" r="2.9"/><circle cx="241.9" cy="206.5" r="2.9"/><circle cx="304.0" cy="177.1" r="2.9"/><circle cx="275.6" cy="185.4" r="2.9"/><circle cx="323.6" cy="205.1" r="2.9"/><circle cx="246.4" cy="193.9" r="2.9"/><circle cx="277.4" cy="191.4" r="2.9"/><circle cx="272.1" cy="166.2" r="2.9"/><circle cx="277.1" cy="138.8" r="2.9"/><circle cx="267.2" cy="190.0" r="2.9"/><circle cx="310.9" cy="184.3" r="2.9"/><circle cx="286.6" cy="138.4" r="2.9"/><circle cx="275.3" cy="173.5" r="2.9"/><circle cx="272.1" cy="185.0" r="2.9"/><circle cx="298.6" cy="161.2" r="2.9"/><circle cx="269.4" cy="142.6" r="2.9"/><circle cx="269.7" cy="178.1" r="2.9"/><circle cx="284.2" cy="161.3" r="2.9"/><circle cx="288.8" cy="198.9" r="2.9"/><circle cx="270.5" cy="177.5" r="2.9"/><circle cx="280.8" cy="210.4" r="2.9"/><circle cx="267.9" cy="186.9" r="2.9"/><circle cx="302.1" cy="176.7" r="2.9"/><circle cx="300.9" cy="164.9" r="2.9"/><circle cx="292.5" cy="175.4" r="2.9"/><circle cx="322.9" cy="204.5" r="2.9"/><circle cx="278.7" cy="169.4" r="2.9"/><circle cx="259.7" cy="191.5" r="2.9"/><circle cx="299.4" cy="176.2" r="2.9"/><circle cx="286.9" cy="156.6" r="2.9"/><circle cx="252.9" cy="207.9" r="2.9"/><circle cx="305.0" cy="195.9" r="2.9"/><circle cx="248.3" cy="194.1" r="2.9"/><circle cx="285.5" cy="179.6" r="2.9"/><circle cx="250.3" cy="192.5" r="2.9"/><circle cx="289.5" cy="203.6" r="2.9"/><circle cx="270.9" cy="207.9" r="2.9"/><circle cx="312.9" cy="189.3" r="2.9"/><circle cx="262.5" cy="149.7" r="2.9"/><circle cx="261.6" cy="153.3" r="2.9"/><circle cx="281.2" cy="151.6" r="2.9"/><circle cx="264.2" cy="152.0" r="2.9"/><circle cx="283.3" cy="201.5" r="2.9"/><circle cx="253.6" cy="200.3" r="2.9"/><circle cx="286.2" cy="189.9" r="2.9"/><circle cx="285.4" cy="183.8" r="2.9"/><circle cx="318.1" cy="193.3" r="2.9"/><circle cx="278.5" cy="159.7" r="2.9"/><circle cx="302.0" cy="207.3" r="2.9"/><circle cx="283.0" cy="176.0" r="2.9"/><circle cx="269.6" cy="148.3" r="2.9"/><circle cx="246.1" cy="203.8" r="2.9"/><circle cx="250.2" cy="211.1" r="2.9"/><circle cx="266.3" cy="201.4" r="2.9"/><circle cx="288.5" cy="210.6" r="2.9"/>
</g>
<clipPath id="cp02"><rect x="353.0" y="83.0" width="143.7" height="133.1"/></clipPath>
<g clip-path="url(#cp02)">
<polygon points="410.0,186.0 418.0,196.0 425.0,204.0 433.0,210.0 462.0,210.0 454.0,202.0 446.0,193.0 436.0,184.0 424.0,178.0 414.0,178.0" fill="#DF536B" stroke="none"/>
<circle cx="358.2" cy="120.6" r="2.9"/><circle cx="358.2" cy="125.7" r="2.9"/><circle cx="358.2" cy="123.5" r="2.9"/><circle cx="358.2" cy="115.6" r="2.9"/><circle cx="358.2" cy="102.3" r="2.9"/><circle cx="358.2" cy="115.8" r="2.9"/><circle cx="358.2" cy="105.5" r="2.9"/><circle cx="358.2" cy="115.8" r="2.9"/><circle cx="358.2" cy="110.6" r="2.9"/><circle cx="358.2" cy="115.0" r="2.9"/><circle cx="358.2" cy="105.9" r="2.9"/><circle cx="358.2" cy="121.2" r="2.9"/><circle cx="358.2" cy="112.5" r="2.9"/><circle cx="358.2" cy="114.6" r="2.9"/><circle cx="358.2" cy="102.4" r="2.9"/><circle cx="358.2" cy="114.6" r="2.9"/><circle cx="358.2" cy="116.7" r="2.9"/><circle cx="358.2" cy="129.2" r="2.9"/><circle cx="358.2" cy="116.8" r="2.9"/><circle cx="358.2" cy="104.0" r="2.9"/><circle cx="358.2" cy="109.0" r="2.9"/><circle cx="358.2" cy="110.1" r="2.9"/><circle cx="358.2" cy="121.1" r="2.9"/><circle cx="358.2" cy="128.2" r="2.9"/><circle cx="358.2" cy="94.5" r="2.9"/><circle cx="358.2" cy="97.5" r="2.9"/><circle cx="358.2" cy="87.6" r="2.9"/><circle cx="358.3" cy="91.0" r="2.9"/><circle cx="362.8" cy="98.7" r="2.9"/><circle cx="364.8" cy="106.0" r="2.9"/><circle cx="375.6" cy="109.5" r="2.9"/><circle cx="370.4" cy="113.2" r="2.9"/><circle cx="374.5" cy="113.9" r="2.9"/><circle cx="378.4" cy="125.4" r="2.9"/><circle cx="404.9" cy="125.6" r="2.9"/><circle cx="404.2" cy="135.0" r="2.9"/><circle cx="397.3" cy="136.7" r="2.9"/><circle cx="400.1" cy="139.5" r="2.9"/><circle cx="425.0" cy="151.8" r="2.9"/><circle cx="429.1" cy="164.2" r="2.9"/><circle cx="434.7" cy="166.3" r="2.9"/><circle cx="439.5" cy="165.3" r="2.9"/><circle cx="429.8" cy="169.7" r="2.9"/><circle cx="448.5" cy="176.7" r="2.9"/><circle cx="435.4" cy="178.7" r="2.9"/><circle cx="444.4" cy="180.1" r="2.9"/><circle cx="446.4" cy="185.0" r="2.9"/><circle cx="452.0" cy="190.5" r="2.9"/><circle cx="455.4" cy="193.3" r="2.9"/><circle cx="458.9" cy="196.0" r="2.9"/><circle cx="467.2" cy="195.8" r="2.9"/><circle cx="467.9" cy="200.9" r="2.9"/><circle cx="472.7" cy="200.9" r="2.9"/><circle cx="480.0" cy="206.1" r="2.9"/><circle cx="485.9" cy="211.5" r="2.9"/><circle cx="490.7" cy="211.5" r="2.9"/><circle cx="404.8" cy="126.0" r="2.9"/><circle cx="404.4" cy="135.0" r="2.9"/><circle cx="400.7" cy="139.4" r="2.9"/><circle cx="424.2" cy="151.2" r="2.9"/><circle cx="419.1" cy="153.9" r="2.9"/><circle cx="412.4" cy="150.5" r="2.9"/><circle cx="413.1" cy="156.7" r="2.9"/><circle cx="413.8" cy="161.5" r="2.9"/><circle cx="418.0" cy="163.6" r="2.9"/><circle cx="428.4" cy="164.3" r="2.9"/><circle cx="434.6" cy="165.7" r="2.9"/><circle cx="439.4" cy="164.3" r="2.9"/><circle cx="486.7" cy="211.5" r="2.9"/><circle cx="485.2" cy="211.5" r="2.9"/><circle cx="483.8" cy="211.5" r="2.9"/><circle cx="480.1" cy="211.5" r="2.9"/><circle cx="484.4" cy="211.5" r="2.9"/><circle cx="433.1" cy="211.5" r="2.9"/><circle cx="459.4" cy="211.5" r="2.9"/><circle cx="465.1" cy="211.5" r="2.9"/><circle cx="470.4" cy="211.5" r="2.9"/><circle cx="466.3" cy="211.5" r="2.9"/><circle cx="466.3" cy="211.5" r="2.9"/><circle cx="484.3" cy="211.5" r="2.9"/><circle cx="436.8" cy="211.5" r="2.9"/><circle cx="461.1" cy="211.5" r="2.9"/><circle cx="485.7" cy="211.5" r="2.9"/><circle cx="433.8" cy="211.5" r="2.9"/><circle cx="438.3" cy="211.5" r="2.9"/><circle cx="480.7" cy="211.5" r="2.9"/><circle cx="485.6" cy="211.5" r="2.9"/><circle cx="433.3" cy="211.5" r="2.9"/><circle cx="433.8" cy="211.5" r="2.9"/><circle cx="478.5" cy="211.5" r="2.9"/><circle cx="470.6" cy="211.5" r="2.9"/><circle cx="461.1" cy="211.5" r="2.9"/><circle cx="464.5" cy="211.5" r="2.9"/><circle cx="474.4" cy="211.5" r="2.9"/><circle cx="477.2" cy="211.5" r="2.9"/><circle cx="432.0" cy="211.5" r="2.9"/><circle cx="435.8" cy="211.5" r="2.9"/><circle cx="476.5" cy="211.5" r="2.9"/><circle cx="486.6" cy="211.5" r="2.9"/><circle cx="478.7" cy="211.5" r="2.9"/><circle cx="454.8" cy="211.5" r="2.9"/><circle cx="450.8" cy="211.5" r="2.9"/><circle cx="451.4" cy="211.5" r="2.9"/><circle cx="432.8" cy="211.5" r="2.9"/><circle cx="475.1" cy="211.5" r="2.9"/><circle cx="446.7" cy="211.5" r="2.9"/><circle cx="464.8" cy="211.5" r="2.9"/><circle cx="461.5" cy="211.5" r="2.9"/><circle cx="450.8" cy="211.5" r="2.9"/><circle cx="469.8" cy="211.5" r="2.9"/><circle cx="457.5" cy="211.5" r="2.9"/><circle cx="445.1" cy="211.5" r="2.9"/><circle cx="481.4" cy="211.5" r="2.9"/><circle cx="441.8" cy="211.5" r="2.9"/><circle cx="440.4" cy="211.5" r="2.9"/><circle cx="446.2" cy="211.5" r="2.9"/><circle cx="458.8" cy="211.5" r="2.9"/><circle cx="475.9" cy="211.5" r="2.9"/><circle cx="450.6" cy="211.5" r="2.9"/><circle cx="445.3" cy="211.5" r="2.9"/><circle cx="468.6" cy="211.5" r="2.9"/><circle cx="446.6" cy="211.5" r="2.9"/><circle cx="461.3" cy="211.5" r="2.9"/><circle cx="446.3" cy="211.5" r="2.9"/><circle cx="481.1" cy="211.5" r="2.9"/><circle cx="442.3" cy="211.5" r="2.9"/><circle cx="445.0" cy="211.5" r="2.9"/><circle cx="448.9" cy="211.5" r="2.9"/><circle cx="443.0" cy="190.2" r="2.9"/><circle cx="384.1" cy="150.1" r="2.9"/><circle cx="469.3" cy="208.3" r="2.9"/><circle cx="448.2" cy="206.7" r="2.9"/><circle cx="443.5" cy="200.0" r="2.9"/><circle cx="449.7" cy="207.1" r="2.9"/><circle cx="371.5" cy="135.1" r="2.9"/><circle cx="379.8" cy="143.0" r="2.9"/><circle cx="429.2" cy="187.2" r="2.9"/><circle cx="454.1" cy="204.4" r="2.9"/><circle cx="398.6" cy="166.5" r="2.9"/><circle cx="433.8" cy="196.1" r="2.9"/><circle cx="477.8" cy="210.1" r="2.9"/><circle cx="377.0" cy="124.4" r="2.9"/><circle cx="403.6" cy="156.4" r="2.9"/><circle cx="430.1" cy="173.3" r="2.9"/><circle cx="438.7" cy="209.3" r="2.9"/><circle cx="392.1" cy="153.2" r="2.9"/><circle cx="411.0" cy="165.1" r="2.9"/><circle cx="459.6" cy="210.2" r="2.9"/><circle cx="445.6" cy="186.7" r="2.9"/><circle cx="435.9" cy="208.5" r="2.9"/><circle cx="392.0" cy="161.7" r="2.9"/><circle cx="417.0" cy="185.3" r="2.9"/><circle cx="444.4" cy="187.2" r="2.9"/><circle cx="427.6" cy="174.3" r="2.9"/><circle cx="439.6" cy="181.2" r="2.9"/><circle cx="410.9" cy="167.0" r="2.9"/><circle cx="358.2" cy="113.8" r="2.9"/><circle cx="406.4" cy="155.9" r="2.9"/><circle cx="471.8" cy="210.0" r="2.9"/><circle cx="442.6" cy="184.9" r="2.9"/><circle cx="409.7" cy="187.6" r="2.9"/><circle cx="384.5" cy="148.4" r="2.9"/><circle cx="431.2" cy="193.5" r="2.9"/><circle cx="432.2" cy="181.8" r="2.9"/><circle cx="436.7" cy="201.2" r="2.9"/><circle cx="415.4" cy="162.4" r="2.9"/><circle cx="445.0" cy="194.2" r="2.9"/><circle cx="402.2" cy="163.2" r="2.9"/><circle cx="419.1" cy="180.1" r="2.9"/><circle cx="384.2" cy="156.5" r="2.9"/><circle cx="396.5" cy="153.1" r="2.9"/><circle cx="434.6" cy="211.1" r="2.9"/><circle cx="406.3" cy="159.7" r="2.9"/><circle cx="416.5" cy="162.3" r="2.9"/><circle cx="424.8" cy="190.0" r="2.9"/><circle cx="445.2" cy="185.3" r="2.9"/><circle cx="427.3" cy="199.8" r="2.9"/><circle cx="406.2" cy="174.1" r="2.9"/><circle cx="413.7" cy="163.9" r="2.9"/><circle cx="399.4" cy="167.5" r="2.9"/><circle cx="363.4" cy="109.6" r="2.9"/><circle cx="435.4" cy="205.6" r="2.9"/><circle cx="446.4" cy="210.3" r="2.9"/><circle cx="433.6" cy="203.6" r="2.9"/><circle cx="370.5" cy="127.4" r="2.9"/><circle cx="406.1" cy="156.5" r="2.9"/><circle cx="447.2" cy="202.7" r="2.9"/><circle cx="434.1" cy="208.1" r="2.9"/><circle cx="408.1" cy="166.1" r="2.9"/><circle cx="386.0" cy="157.3" r="2.9"/><circle cx="449.2" cy="197.2" r="2.9"/><circle cx="415.7" cy="179.0" r="2.9"/><circle cx="429.8" cy="177.8" r="2.9"/><circle cx="359.8" cy="123.2" r="2.9"/><circle cx="450.0" cy="200.1" r="2.9"/><circle cx="427.5" cy="168.0" r="2.9"/><circle cx="444.0" cy="211.5" r="2.9"/><circle cx="414.8" cy="159.9" r="2.9"/><circle cx="407.3" cy="157.1" r="2.9"/><circle cx="375.4" cy="121.9" r="2.9"/><circle cx="410.6" cy="170.1" r="2.9"/><circle cx="394.1" cy="145.2" r="2.9"/><circle cx="413.5" cy="170.4" r="2.9"/><circle cx="449.4" cy="202.2" r="2.9"/><circle cx="410.2" cy="180.2" r="2.9"/><circle cx="371.3" cy="116.2" r="2.9"/><circle cx="420.0" cy="174.6" r="2.9"/><circle cx="435.1" cy="188.0" r="2.9"/><circle cx="434.5" cy="199.3" r="2.9"/><circle cx="459.0" cy="204.1" r="2.9"/><circle cx="371.1" cy="121.1" r="2.9"/><circle cx="438.3" cy="201.0" r="2.9"/><circle cx="366.8" cy="133.1" r="2.9"/><circle cx="393.5" cy="151.2" r="2.9"/><circle cx="414.5" cy="169.8" r="2.9"/><circle cx="430.6" cy="201.5" r="2.9"/><circle cx="409.3" cy="160.9" r="2.9"/><circle cx="429.5" cy="190.0" r="2.9"/><circle cx="395.9" cy="152.8" r="2.9"/><circle cx="416.0" cy="166.1" r="2.9"/><circle cx="432.2" cy="177.0" r="2.9"/><circle cx="409.3" cy="161.4" r="2.9"/><circle cx="382.2" cy="155.2" r="2.9"/><circle cx="462.5" cy="210.0" r="2.9"/><circle cx="461.5" cy="205.8" r="2.9"/><circle cx="377.2" cy="130.6" r="2.9"/><circle cx="439.6" cy="182.7" r="2.9"/><circle cx="403.8" cy="154.5" r="2.9"/><circle cx="444.4" cy="181.8" r="2.9"/><circle cx="398.1" cy="166.4" r="2.9"/><circle cx="360.2" cy="114.5" r="2.9"/><circle cx="432.2" cy="195.4" r="2.9"/><circle cx="449.4" cy="190.2" r="2.9"/><circle cx="366.8" cy="126.1" r="2.9"/><circle cx="416.9" cy="190.5" r="2.9"/><circle cx="371.6" cy="138.2" r="2.9"/><circle cx="392.9" cy="137.1" r="2.9"/><circle cx="432.8" cy="193.3" r="2.9"/><circle cx="365.2" cy="132.1" r="2.9"/><circle cx="399.3" cy="158.3" r="2.9"/><circle cx="402.5" cy="153.3" r="2.9"/><circle cx="420.9" cy="190.4" r="2.9"/><circle cx="415.5" cy="162.8" r="2.9"/><circle cx="432.9" cy="206.1" r="2.9"/><circle cx="387.5" cy="155.0" r="2.9"/><circle cx="450.3" cy="195.5" r="2.9"/><circle cx="361.4" cy="131.2" r="2.9"/><circle cx="417.0" cy="185.5" r="2.9"/><circle cx="391.0" cy="161.9" r="2.9"/><circle cx="361.6" cy="112.5" r="2.9"/><circle cx="471.3" cy="211.5" r="2.9"/><circle cx="413.7" cy="177.9" r="2.9"/><circle cx="403.4" cy="174.1" r="2.9"/><circle cx="449.3" cy="191.5" r="2.9"/><circle cx="414.2" cy="178.5" r="2.9"/><circle cx="384.6" cy="150.3" r="2.9"/><circle cx="445.7" cy="203.2" r="2.9"/><circle cx="434.2" cy="192.1" r="2.9"/><circle cx="438.4" cy="197.9" r="2.9"/><circle cx="436.6" cy="210.9" r="2.9"/><circle cx="432.6" cy="196.8" r="2.9"/><circle cx="455.6" cy="211.5" r="2.9"/><circle cx="432.7" cy="198.3" r="2.9"/><circle cx="464.3" cy="211.4" r="2.9"/><circle cx="429.2" cy="172.5" r="2.9"/><circle cx="384.1" cy="138.2" r="2.9"/><circle cx="441.7" cy="202.4" r="2.9"/><circle cx="409.3" cy="162.0" r="2.9"/><circle cx="391.6" cy="136.6" r="2.9"/><circle cx="436.2" cy="207.8" r="2.9"/><circle cx="434.6" cy="199.1" r="2.9"/><circle cx="382.3" cy="152.2" r="2.9"/><circle cx="425.2" cy="182.1" r="2.9"/><circle cx="362.4" cy="118.8" r="2.9"/><circle cx="449.7" cy="206.3" r="2.9"/><circle cx="439.0" cy="191.3" r="2.9"/><circle cx="383.9" cy="142.8" r="2.9"/><circle cx="393.4" cy="151.9" r="2.9"/><circle cx="467.8" cy="209.2" r="2.9"/><circle cx="453.6" cy="200.0" r="2.9"/><circle cx="443.3" cy="207.4" r="2.9"/><circle cx="451.4" cy="196.9" r="2.9"/><circle cx="364.1" cy="118.8" r="2.9"/><circle cx="434.7" cy="198.3" r="2.9"/><circle cx="431.5" cy="174.8" r="2.9"/><circle cx="381.8" cy="152.0" r="2.9"/><circle cx="464.9" cy="206.5" r="2.9"/><circle cx="435.3" cy="203.1" r="2.9"/><circle cx="404.9" cy="166.7" r="2.9"/><circle cx="403.3" cy="152.2" r="2.9"/><circle cx="422.8" cy="170.5" r="2.9"/><circle cx="427.3" cy="178.2" r="2.9"/><circle cx="427.9" cy="164.9" r="2.9"/><circle cx="385.4" cy="135.7" r="2.9"/><circle cx="418.0" cy="171.2" r="2.9"/><circle cx="394.1" cy="155.4" r="2.9"/><circle cx="426.8" cy="187.8" r="2.9"/><circle cx="393.2" cy="145.7" r="2.9"/><circle cx="411.8" cy="184.2" r="2.9"/><circle cx="479.1" cy="210.6" r="2.9"/><circle cx="432.3" cy="182.5" r="2.9"/><circle cx="435.4" cy="189.4" r="2.9"/><circle cx="412.3" cy="185.0" r="2.9"/><circle cx="426.7" cy="177.0" r="2.9"/><circle cx="443.1" cy="180.9" r="2.9"/><circle cx="413.8" cy="173.9" r="2.9"/><circle cx="427.3" cy="190.4" r="2.9"/><circle cx="391.0" cy="164.3" r="2.9"/><circle cx="385.9" cy="152.6" r="2.9"/><circle cx="410.4" cy="170.0" r="2.9"/><circle cx="417.1" cy="190.7" r="2.9"/><circle cx="407.7" cy="167.5" r="2.9"/><circle cx="423.5" cy="164.4" r="2.9"/><circle cx="439.6" cy="197.0" r="2.9"/><circle cx="432.2" cy="203.0" r="2.9"/><circle cx="404.0" cy="157.1" r="2.9"/><circle cx="419.4" cy="191.8" r="2.9"/><circle cx="367.8" cy="131.7" r="2.9"/><circle cx="414.7" cy="160.3" r="2.9"/><circle cx="425.4" cy="180.8" r="2.9"/><circle cx="369.4" cy="119.7" r="2.9"/><circle cx="461.2" cy="206.6" r="2.9"/><circle cx="414.4" cy="187.9" r="2.9"/><circle cx="396.9" cy="161.9" r="2.9"/><circle cx="388.7" cy="149.0" r="2.9"/><circle cx="411.6" cy="178.8" r="2.9"/><circle cx="417.9" cy="184.7" r="2.9"/><circle cx="473.1" cy="208.7" r="2.9"/><circle cx="364.7" cy="130.8" r="2.9"/><circle cx="386.2" cy="160.1" r="2.9"/><circle cx="364.8" cy="126.0" r="2.9"/><circle cx="423.7" cy="169.5" r="2.9"/><circle cx="415.4" cy="173.7" r="2.9"/><circle cx="428.8" cy="174.8" r="2.9"/><circle cx="424.6" cy="199.8" r="2.9"/><circle cx="426.9" cy="170.7" r="2.9"/><circle cx="396.5" cy="153.7" r="2.9"/><circle cx="411.4" cy="173.3" r="2.9"/><circle cx="413.6" cy="175.4" r="2.9"/><circle cx="409.9" cy="165.3" r="2.9"/><circle cx="442.9" cy="193.7" r="2.9"/><circle cx="404.9" cy="158.8" r="2.9"/><circle cx="429.3" cy="199.0" r="2.9"/><circle cx="379.2" cy="137.1" r="2.9"/><circle cx="427.1" cy="169.8" r="2.9"/><circle cx="389.0" cy="156.1" r="2.9"/><circle cx="447.0" cy="195.6" r="2.9"/><circle cx="409.3" cy="169.1" r="2.9"/><circle cx="418.6" cy="195.7" r="2.9"/><circle cx="442.4" cy="206.2" r="2.9"/><circle cx="379.5" cy="136.6" r="2.9"/><circle cx="423.7" cy="186.7" r="2.9"/><circle cx="411.7" cy="163.5" r="2.9"/><circle cx="363.8" cy="109.9" r="2.9"/><circle cx="425.6" cy="178.6" r="2.9"/><circle cx="450.5" cy="197.7" r="2.9"/><circle cx="421.4" cy="179.7" r="2.9"/><circle cx="435.3" cy="194.5" r="2.9"/><circle cx="360.6" cy="123.1" r="2.9"/><circle cx="466.2" cy="209.3" r="2.9"/><circle cx="439.8" cy="194.6" r="2.9"/><circle cx="413.5" cy="173.9" r="2.9"/><circle cx="391.4" cy="144.6" r="2.9"/><circle cx="362.5" cy="109.0" r="2.9"/><circle cx="403.3" cy="168.4" r="2.9"/><circle cx="432.7" cy="184.4" r="2.9"/><circle cx="473.6" cy="211.0" r="2.9"/><circle cx="362.8" cy="117.8" r="2.9"/><circle cx="457.7" cy="206.3" r="2.9"/><circle cx="421.4" cy="189.3" r="2.9"/><circle cx="371.5" cy="117.0" r="2.9"/><circle cx="404.0" cy="170.0" r="2.9"/><circle cx="381.4" cy="154.8" r="2.9"/><circle cx="365.0" cy="120.7" r="2.9"/><circle cx="384.5" cy="149.7" r="2.9"/><circle cx="445.6" cy="198.5" r="2.9"/><circle cx="383.4" cy="139.0" r="2.9"/><circle cx="469.1" cy="208.1" r="2.9"/><circle cx="420.2" cy="192.1" r="2.9"/><circle cx="433.2" cy="202.8" r="2.9"/><circle cx="365.2" cy="128.6" r="2.9"/><circle cx="458.1" cy="210.0" r="2.9"/><circle cx="451.4" cy="207.9" r="2.9"/><circle cx="369.0" cy="124.4" r="2.9"/><circle cx="402.6" cy="162.9" r="2.9"/><circle cx="363.9" cy="114.8" r="2.9"/><circle cx="438.6" cy="207.4" r="2.9"/><circle cx="375.2" cy="126.1" r="2.9"/><circle cx="415.3" cy="190.0" r="2.9"/><circle cx="428.7" cy="176.3" r="2.9"/><circle cx="431.5" cy="183.2" r="2.9"/><circle cx="367.8" cy="115.7" r="2.9"/><circle cx="396.6" cy="150.1" r="2.9"/><circle cx="435.2" cy="203.4" r="2.9"/><circle cx="372.3" cy="134.6" r="2.9"/><circle cx="440.4" cy="204.7" r="2.9"/><circle cx="380.8" cy="150.8" r="2.9"/><circle cx="408.8" cy="183.1" r="2.9"/><circle cx="388.6" cy="137.0" r="2.9"/><circle cx="386.7" cy="134.1" r="2.9"/><circle cx="444.5" cy="200.5" r="2.9"/><circle cx="373.1" cy="126.0" r="2.9"/><circle cx="396.4" cy="160.2" r="2.9"/><circle cx="364.0" cy="134.0" r="2.9"/><circle cx="469.8" cy="208.1" r="2.9"/><circle cx="429.5" cy="181.2" r="2.9"/><circle cx="420.3" cy="186.3" r="2.9"/><circle cx="466.0" cy="209.9" r="2.9"/><circle cx="427.7" cy="182.1" r="2.9"/><circle cx="401.8" cy="172.3" r="2.9"/><circle cx="369.2" cy="139.8" r="2.9"/><circle cx="428.3" cy="171.1" r="2.9"/><circle cx="425.6" cy="198.2" r="2.9"/><circle cx="369.2" cy="113.9" r="2.9"/><circle cx="436.6" cy="199.9" r="2.9"/><circle cx="390.6" cy="146.6" r="2.9"/><circle cx="437.2" cy="203.0" r="2.9"/><circle cx="432.1" cy="180.1" r="2.9"/><circle cx="418.4" cy="172.4" r="2.9"/><circle cx="442.3" cy="185.0" r="2.9"/><circle cx="478.5" cy="210.9" r="2.9"/><circle cx="358.2" cy="121.8" r="2.9"/><circle cx="439.7" cy="208.7" r="2.9"/><circle cx="446.5" cy="198.6" r="2.9"/><circle cx="440.8" cy="190.8" r="2.9"/><circle cx="439.8" cy="202.9" r="2.9"/><circle cx="370.7" cy="136.5" r="2.9"/><circle cx="451.2" cy="211.5" r="2.9"/>
</g>
<clipPath id="cp10"><rect x="36.1" y="231.9" width="143.4" height="132.79999999999998"/></clipPath>
<g clip-path="url(#cp10)">
<polygon points="85.5,292.9 87.7,280.0 74.8,273.5 61.9,267.9 50.0,263.3 41.4,260.5 41.4,294.8 64.0,294.8" fill="#DF536B" stroke="none"/>
<circle cx="173.8" cy="360.0" r="2.9"/><circle cx="169.6" cy="351.4" r="2.9"/><circle cx="168.7" cy="350.8" r="2.9"/><circle cx="162.9" cy="344.0" r="2.9"/><circle cx="162.0" cy="339.9" r="2.9"/><circle cx="154.0" cy="335.3" r="2.9"/><circle cx="150.4" cy="340.4" r="2.9"/><circle cx="147.0" cy="339.9" r="2.9"/><circle cx="157.0" cy="329.9" r="2.9"/><circle cx="154.8" cy="328.6" r="2.9"/><circle cx="158.5" cy="326.3" r="2.9"/><circle cx="154.8" cy="325.8" r="2.9"/><circle cx="157.3" cy="319.0" r="2.9"/><circle cx="146.6" cy="328.6" r="2.9"/><circle cx="142.9" cy="333.0" r="2.9"/><circle cx="145.8" cy="333.5" r="2.9"/><circle cx="138.7" cy="325.0" r="2.9"/><circle cx="139.9" cy="319.9" r="2.9"/><circle cx="137.7" cy="315.8" r="2.9"/><circle cx="153.3" cy="322.2" r="2.9"/><circle cx="148.9" cy="318.3" r="2.9"/><circle cx="150.4" cy="315.2" r="2.9"/><circle cx="146.6" cy="314.5" r="2.9"/><circle cx="151.1" cy="307.5" r="2.9"/><circle cx="132.7" cy="341.4" r="2.9"/><circle cx="123.2" cy="335.3" r="2.9"/><circle cx="121.3" cy="328.6" r="2.9"/><circle cx="118.6" cy="328.3" r="2.9"/><circle cx="122.1" cy="321.6" r="2.9"/><circle cx="119.8" cy="317.1" r="2.9"/><circle cx="116.8" cy="316.8" r="2.9"/><circle cx="122.1" cy="311.3" r="2.9"/><circle cx="146.6" cy="298.5" r="2.9"/><circle cx="142.8" cy="298.5" r="2.9"/><circle cx="136.9" cy="292.7" r="2.9"/><circle cx="133.3" cy="296.5" r="2.9"/><circle cx="132.5" cy="290.8" r="2.9"/><circle cx="137.7" cy="281.8" r="2.9"/><circle cx="133.9" cy="282.5" r="2.9"/><circle cx="129.5" cy="279.3" r="2.9"/><circle cx="125.0" cy="292.1" r="2.9"/><circle cx="125.7" cy="285.7" r="2.9"/><circle cx="125.7" cy="281.8" r="2.9"/><circle cx="123.6" cy="274.8" r="2.9"/><circle cx="120.6" cy="274.4" r="2.9"/><circle cx="117.6" cy="274.1" r="2.9"/><circle cx="114.7" cy="273.5" r="2.9"/><circle cx="90.7" cy="339.1" r="2.9"/><circle cx="91.0" cy="325.4" r="2.9"/><circle cx="89.5" cy="322.2" r="2.9"/><circle cx="92.5" cy="314.5" r="2.9"/><circle cx="85.8" cy="316.5" r="2.9"/><circle cx="85.1" cy="312.6" r="2.9"/><circle cx="78.1" cy="323.5" r="2.9"/><circle cx="74.7" cy="317.7" r="2.9"/><circle cx="76.2" cy="312.6" r="2.9"/><circle cx="68.6" cy="314.5" r="2.9"/><circle cx="62.7" cy="315.8" r="2.9"/><circle cx="57.6" cy="318.3" r="2.9"/><circle cx="52.3" cy="322.6" r="2.9"/><circle cx="106.0" cy="328.6" r="2.9"/><circle cx="102.9" cy="326.0" r="2.9"/><circle cx="106.6" cy="323.5" r="2.9"/><circle cx="101.4" cy="320.9" r="2.9"/><circle cx="105.1" cy="317.7" r="2.9"/><circle cx="100.7" cy="315.8" r="2.9"/><circle cx="103.7" cy="312.6" r="2.9"/><circle cx="99.2" cy="311.9" r="2.9"/><circle cx="62.7" cy="237.0" r="2.9"/><circle cx="49.8" cy="241.5" r="2.9"/><circle cx="63.8" cy="246.0" r="2.9"/><circle cx="102.4" cy="277.4" r="2.9"/><circle cx="102.2" cy="263.7" r="2.9"/><circle cx="97.7" cy="267.1" r="2.9"/><circle cx="94.0" cy="260.0" r="2.9"/><circle cx="92.5" cy="257.5" r="2.9"/><circle cx="87.2" cy="258.5" r="2.9"/><circle cx="78.3" cy="260.7" r="2.9"/><circle cx="75.4" cy="256.4" r="2.9"/><circle cx="69.4" cy="254.3" r="2.9"/><circle cx="66.5" cy="250.8" r="2.9"/><circle cx="56.8" cy="249.1" r="2.9"/><circle cx="50.1" cy="246.0" r="2.9"/><circle cx="42.6" cy="247.3" r="2.9"/><circle cx="157.1" cy="319.0" r="2.9"/><circle cx="140.3" cy="320.0" r="2.9"/><circle cx="136.7" cy="315.8" r="2.9"/><circle cx="136.7" cy="292.9" r="2.9"/><circle cx="131.9" cy="290.3" r="2.9"/><circle cx="137.9" cy="282.1" r="2.9"/><circle cx="133.0" cy="282.6" r="2.9"/><circle cx="128.9" cy="278.9" r="2.9"/><circle cx="131.9" cy="296.6" r="2.9"/><circle cx="130.7" cy="301.8" r="2.9"/><circle cx="128.2" cy="306.0" r="2.9"/><circle cx="125.8" cy="291.5" r="2.9"/><circle cx="127.7" cy="286.2" r="2.9"/><circle cx="122.8" cy="321.6" r="2.9"/><circle cx="119.8" cy="317.4" r="2.9"/><circle cx="116.2" cy="317.4" r="2.9"/><circle cx="123.4" cy="311.2" r="2.9"/><circle cx="123.4" cy="307.0" r="2.9"/><circle cx="118.5" cy="310.1" r="2.9"/><circle cx="116.2" cy="306.0" r="2.9"/><circle cx="110.1" cy="305.4" r="2.9"/><circle cx="119.8" cy="299.7" r="2.9"/><circle cx="113.8" cy="297.7" r="2.9"/><circle cx="119.2" cy="274.8" r="2.9"/><circle cx="115.0" cy="273.8" r="2.9"/><circle cx="106.5" cy="319.4" r="2.9"/><circle cx="105.3" cy="315.3" r="2.9"/><circle cx="103.5" cy="312.2" r="2.9"/><circle cx="104.1" cy="296.6" r="2.9"/><circle cx="104.1" cy="276.9" r="2.9"/><circle cx="103.5" cy="272.7" r="2.9"/><circle cx="103.5" cy="268.6" r="2.9"/><circle cx="144.9" cy="311.2" r="2.9"/><circle cx="141.2" cy="302.1" r="2.9"/><circle cx="146.3" cy="310.8" r="2.9"/><circle cx="138.3" cy="306.4" r="2.9"/><circle cx="149.3" cy="308.5" r="2.9"/><circle cx="139.3" cy="304.7" r="2.9"/><circle cx="135.7" cy="302.6" r="2.9"/><circle cx="143.5" cy="306.3" r="2.9"/><circle cx="136.3" cy="297.1" r="2.9"/><circle cx="147.7" cy="307.3" r="2.9"/><circle cx="141.9" cy="306.3" r="2.9"/><circle cx="143.6" cy="307.5" r="2.9"/><circle cx="139.9" cy="306.5" r="2.9"/><circle cx="139.0" cy="302.9" r="2.9"/><circle cx="145.5" cy="313.6" r="2.9"/><circle cx="146.8" cy="311.0" r="2.9"/><circle cx="146.5" cy="311.4" r="2.9"/><circle cx="144.1" cy="309.4" r="2.9"/><circle cx="133.6" cy="294.9" r="2.9"/><circle cx="143.7" cy="301.4" r="2.9"/><circle cx="141.5" cy="308.4" r="2.9"/><circle cx="141.8" cy="307.3" r="2.9"/><circle cx="144.9" cy="304.4" r="2.9"/><circle cx="143.1" cy="303.2" r="2.9"/><circle cx="138.7" cy="299.1" r="2.9"/><circle cx="140.6" cy="304.0" r="2.9"/><circle cx="141.5" cy="302.1" r="2.9"/><circle cx="140.1" cy="302.7" r="2.9"/><circle cx="137.4" cy="303.0" r="2.9"/><circle cx="144.2" cy="304.7" r="2.9"/><circle cx="139.2" cy="304.5" r="2.9"/><circle cx="139.0" cy="300.1" r="2.9"/><circle cx="116.9" cy="303.2" r="2.9"/><circle cx="118.1" cy="304.1" r="2.9"/><circle cx="121.1" cy="304.4" r="2.9"/><circle cx="120.3" cy="308.3" r="2.9"/><circle cx="113.2" cy="303.1" r="2.9"/><circle cx="114.9" cy="301.8" r="2.9"/><circle cx="116.2" cy="302.5" r="2.9"/><circle cx="116.0" cy="304.4" r="2.9"/><circle cx="120.1" cy="299.2" r="2.9"/><circle cx="111.5" cy="307.2" r="2.9"/><circle cx="115.2" cy="304.2" r="2.9"/><circle cx="123.1" cy="302.1" r="2.9"/><circle cx="112.2" cy="297.1" r="2.9"/><circle cx="116.0" cy="304.4" r="2.9"/><circle cx="40.9" cy="262.1" r="2.9"/><circle cx="40.9" cy="297.6" r="2.9"/><circle cx="40.9" cy="300.2" r="2.9"/><circle cx="40.9" cy="318.1" r="2.9"/><circle cx="40.9" cy="316.7" r="2.9"/><circle cx="40.9" cy="277.3" r="2.9"/><circle cx="40.9" cy="304.5" r="2.9"/><circle cx="40.9" cy="275.8" r="2.9"/><circle cx="40.9" cy="294.2" r="2.9"/><circle cx="40.9" cy="287.7" r="2.9"/><circle cx="40.9" cy="247.1" r="2.9"/><circle cx="40.9" cy="285.2" r="2.9"/><circle cx="40.9" cy="277.9" r="2.9"/><circle cx="40.9" cy="254.5" r="2.9"/><circle cx="40.9" cy="309.3" r="2.9"/><circle cx="40.9" cy="311.6" r="2.9"/><circle cx="40.9" cy="251.2" r="2.9"/><circle cx="40.9" cy="258.4" r="2.9"/><circle cx="40.9" cy="304.0" r="2.9"/><circle cx="40.9" cy="308.8" r="2.9"/><circle cx="40.9" cy="264.7" r="2.9"/><circle cx="40.9" cy="248.6" r="2.9"/><circle cx="40.9" cy="308.2" r="2.9"/><circle cx="40.9" cy="247.8" r="2.9"/><circle cx="40.9" cy="253.3" r="2.9"/><circle cx="40.9" cy="275.6" r="2.9"/><circle cx="40.9" cy="290.2" r="2.9"/><circle cx="40.9" cy="315.6" r="2.9"/><circle cx="40.9" cy="320.9" r="2.9"/><circle cx="40.9" cy="246.8" r="2.9"/><circle cx="40.9" cy="304.9" r="2.9"/><circle cx="40.9" cy="267.5" r="2.9"/><circle cx="40.9" cy="303.4" r="2.9"/><circle cx="40.9" cy="258.0" r="2.9"/><circle cx="40.9" cy="276.2" r="2.9"/><circle cx="40.9" cy="300.5" r="2.9"/><circle cx="40.9" cy="309.9" r="2.9"/><circle cx="40.9" cy="266.2" r="2.9"/><circle cx="40.9" cy="318.5" r="2.9"/><circle cx="40.9" cy="305.7" r="2.9"/><circle cx="40.9" cy="279.1" r="2.9"/><circle cx="40.9" cy="255.7" r="2.9"/><circle cx="40.9" cy="274.7" r="2.9"/><circle cx="40.9" cy="301.5" r="2.9"/><circle cx="40.9" cy="250.5" r="2.9"/><circle cx="40.9" cy="307.6" r="2.9"/><circle cx="40.9" cy="322.6" r="2.9"/><circle cx="40.9" cy="302.4" r="2.9"/><circle cx="40.9" cy="288.3" r="2.9"/><circle cx="40.9" cy="319.1" r="2.9"/><circle cx="40.9" cy="309.8" r="2.9"/><circle cx="40.9" cy="294.4" r="2.9"/><circle cx="40.9" cy="278.1" r="2.9"/><circle cx="40.9" cy="313.4" r="2.9"/><circle cx="40.9" cy="294.9" r="2.9"/><circle cx="40.9" cy="252.6" r="2.9"/><circle cx="40.9" cy="245.4" r="2.9"/><circle cx="40.9" cy="271.3" r="2.9"/><circle cx="40.9" cy="268.6" r="2.9"/><circle cx="40.9" cy="277.1" r="2.9"/><circle cx="40.9" cy="312.7" r="2.9"/><circle cx="40.9" cy="321.2" r="2.9"/><circle cx="40.9" cy="322.5" r="2.9"/><circle cx="40.9" cy="251.0" r="2.9"/><circle cx="40.9" cy="267.8" r="2.9"/><circle cx="40.9" cy="246.8" r="2.9"/><circle cx="40.9" cy="322.3" r="2.9"/><circle cx="40.9" cy="273.0" r="2.9"/><circle cx="40.9" cy="285.3" r="2.9"/><circle cx="40.9" cy="265.4" r="2.9"/><circle cx="40.9" cy="298.4" r="2.9"/><circle cx="40.9" cy="243.9" r="2.9"/><circle cx="40.9" cy="317.9" r="2.9"/><circle cx="40.9" cy="280.2" r="2.9"/><circle cx="40.9" cy="264.9" r="2.9"/><circle cx="40.9" cy="251.8" r="2.9"/><circle cx="40.9" cy="264.9" r="2.9"/><circle cx="40.9" cy="267.6" r="2.9"/><circle cx="40.9" cy="260.4" r="2.9"/><circle cx="40.9" cy="250.6" r="2.9"/><circle cx="40.9" cy="333.7" r="2.9"/><circle cx="40.9" cy="327.6" r="2.9"/><circle cx="62.4" cy="284.9" r="2.9"/><circle cx="49.4" cy="258.0" r="2.9"/><circle cx="55.0" cy="281.7" r="2.9"/><circle cx="83.5" cy="271.5" r="2.9"/><circle cx="67.7" cy="273.6" r="2.9"/><circle cx="65.6" cy="298.3" r="2.9"/><circle cx="69.7" cy="266.1" r="2.9"/><circle cx="51.7" cy="280.6" r="2.9"/><circle cx="57.8" cy="298.1" r="2.9"/><circle cx="75.5" cy="267.9" r="2.9"/><circle cx="45.9" cy="272.0" r="2.9"/><circle cx="62.9" cy="287.4" r="2.9"/><circle cx="47.9" cy="280.5" r="2.9"/><circle cx="63.7" cy="286.1" r="2.9"/><circle cx="46.4" cy="262.6" r="2.9"/><circle cx="88.1" cy="273.6" r="2.9"/><circle cx="75.6" cy="295.5" r="2.9"/><circle cx="50.9" cy="261.1" r="2.9"/><circle cx="43.9" cy="267.3" r="2.9"/><circle cx="98.4" cy="288.6" r="2.9"/><circle cx="81.3" cy="291.7" r="2.9"/><circle cx="75.7" cy="271.5" r="2.9"/><circle cx="51.6" cy="286.7" r="2.9"/><circle cx="70.4" cy="267.4" r="2.9"/><circle cx="54.9" cy="287.0" r="2.9"/><circle cx="79.0" cy="271.3" r="2.9"/><circle cx="64.5" cy="271.3" r="2.9"/><circle cx="43.3" cy="262.6" r="2.9"/><circle cx="97.8" cy="278.9" r="2.9"/><circle cx="86.1" cy="288.8" r="2.9"/><circle cx="57.4" cy="272.0" r="2.9"/><circle cx="54.9" cy="282.9" r="2.9"/><circle cx="78.6" cy="295.8" r="2.9"/><circle cx="46.7" cy="271.5" r="2.9"/><circle cx="70.5" cy="283.7" r="2.9"/><circle cx="54.6" cy="259.0" r="2.9"/><circle cx="53.1" cy="266.8" r="2.9"/><circle cx="60.1" cy="270.7" r="2.9"/><circle cx="47.4" cy="291.7" r="2.9"/><circle cx="41.9" cy="254.1" r="2.9"/><circle cx="55.0" cy="275.8" r="2.9"/><circle cx="46.7" cy="286.5" r="2.9"/><circle cx="79.4" cy="298.1" r="2.9"/><circle cx="56.6" cy="275.2" r="2.9"/><circle cx="55.2" cy="285.8" r="2.9"/><circle cx="99.9" cy="295.3" r="2.9"/><circle cx="59.7" cy="276.8" r="2.9"/><circle cx="62.1" cy="261.0" r="2.9"/><circle cx="73.4" cy="291.3" r="2.9"/><circle cx="59.3" cy="288.0" r="2.9"/><circle cx="73.7" cy="270.8" r="2.9"/><circle cx="83.6" cy="286.9" r="2.9"/><circle cx="47.3" cy="260.7" r="2.9"/><circle cx="50.8" cy="292.0" r="2.9"/><circle cx="96.2" cy="274.1" r="2.9"/><circle cx="75.1" cy="275.9" r="2.9"/><circle cx="54.3" cy="282.5" r="2.9"/><circle cx="75.9" cy="274.6" r="2.9"/><circle cx="81.3" cy="275.7" r="2.9"/><circle cx="45.7" cy="255.2" r="2.9"/><circle cx="77.2" cy="289.0" r="2.9"/><circle cx="79.9" cy="296.0" r="2.9"/><circle cx="47.3" cy="262.1" r="2.9"/><circle cx="88.1" cy="278.8" r="2.9"/><circle cx="67.1" cy="292.8" r="2.9"/><circle cx="94.4" cy="292.7" r="2.9"/><circle cx="66.9" cy="284.8" r="2.9"/><circle cx="59.2" cy="297.0" r="2.9"/><circle cx="74.6" cy="296.2" r="2.9"/><circle cx="81.4" cy="283.8" r="2.9"/><circle cx="66.1" cy="292.2" r="2.9"/><circle cx="73.2" cy="270.9" r="2.9"/><circle cx="53.6" cy="265.8" r="2.9"/><circle cx="45.8" cy="286.7" r="2.9"/><circle cx="40.9" cy="291.5" r="2.9"/><circle cx="59.5" cy="290.4" r="2.9"/><circle cx="62.4" cy="282.4" r="2.9"/><circle cx="46.6" cy="268.7" r="2.9"/><circle cx="57.3" cy="277.4" r="2.9"/><circle cx="62.3" cy="277.5" r="2.9"/><circle cx="105.3" cy="292.9" r="2.9"/><circle cx="74.3" cy="275.1" r="2.9"/><circle cx="96.0" cy="293.1" r="2.9"/><circle cx="41.0" cy="260.9" r="2.9"/><circle cx="43.8" cy="299.2" r="2.9"/><circle cx="56.8" cy="279.5" r="2.9"/><circle cx="80.2" cy="276.9" r="2.9"/><circle cx="51.2" cy="267.8" r="2.9"/><circle cx="78.5" cy="293.3" r="2.9"/><circle cx="98.7" cy="292.6" r="2.9"/><circle cx="54.2" cy="258.3" r="2.9"/><circle cx="50.1" cy="267.6" r="2.9"/><circle cx="82.0" cy="271.3" r="2.9"/><circle cx="46.6" cy="289.5" r="2.9"/><circle cx="55.9" cy="265.6" r="2.9"/><circle cx="48.8" cy="258.2" r="2.9"/><circle cx="56.6" cy="268.1" r="2.9"/><circle cx="77.5" cy="285.4" r="2.9"/><circle cx="66.6" cy="270.8" r="2.9"/><circle cx="44.2" cy="290.8" r="2.9"/><circle cx="70.4" cy="269.8" r="2.9"/><circle cx="83.0" cy="276.0" r="2.9"/><circle cx="57.0" cy="267.8" r="2.9"/><circle cx="58.6" cy="272.0" r="2.9"/><circle cx="82.2" cy="289.6" r="2.9"/><circle cx="47.0" cy="289.9" r="2.9"/><circle cx="74.8" cy="275.2" r="2.9"/><circle cx="57.2" cy="272.9" r="2.9"/><circle cx="45.2" cy="300.0" r="2.9"/><circle cx="77.3" cy="294.3" r="2.9"/><circle cx="75.6" cy="293.9" r="2.9"/><circle cx="68.5" cy="276.3" r="2.9"/><circle cx="90.3" cy="284.2" r="2.9"/><circle cx="71.1" cy="270.0" r="2.9"/><circle cx="60.2" cy="288.3" r="2.9"/><circle cx="107.3" cy="290.2" r="2.9"/><circle cx="57.5" cy="294.5" r="2.9"/><circle cx="47.5" cy="283.1" r="2.9"/><circle cx="47.0" cy="298.6" r="2.9"/><circle cx="76.9" cy="281.1" r="2.9"/><circle cx="44.7" cy="276.5" r="2.9"/><circle cx="101.6" cy="276.3" r="2.9"/><circle cx="63.6" cy="280.5" r="2.9"/><circle cx="91.9" cy="279.8" r="2.9"/><circle cx="80.9" cy="273.6" r="2.9"/><circle cx="47.9" cy="296.6" r="2.9"/><circle cx="66.6" cy="263.7" r="2.9"/><circle cx="70.8" cy="268.6" r="2.9"/><circle cx="66.0" cy="273.1" r="2.9"/><circle cx="41.8" cy="290.0" r="2.9"/><circle cx="48.8" cy="257.2" r="2.9"/><circle cx="63.0" cy="298.0" r="2.9"/><circle cx="66.1" cy="275.2" r="2.9"/><circle cx="76.8" cy="283.9" r="2.9"/><circle cx="86.2" cy="291.9" r="2.9"/><circle cx="51.6" cy="265.6" r="2.9"/><circle cx="92.2" cy="281.4" r="2.9"/><circle cx="41.1" cy="270.1" r="2.9"/><circle cx="71.9" cy="286.2" r="2.9"/><circle cx="45.9" cy="265.6" r="2.9"/><circle cx="49.1" cy="297.4" r="2.9"/><circle cx="76.4" cy="274.5" r="2.9"/><circle cx="64.0" cy="291.7" r="2.9"/><circle cx="89.0" cy="298.2" r="2.9"/><circle cx="61.8" cy="266.6" r="2.9"/><circle cx="100.3" cy="288.3" r="2.9"/><circle cx="59.5" cy="284.6" r="2.9"/><circle cx="70.5" cy="267.4" r="2.9"/><circle cx="44.6" cy="257.1" r="2.9"/><circle cx="82.3" cy="286.6" r="2.9"/><circle cx="47.7" cy="256.3" r="2.9"/><circle cx="85.0" cy="290.0" r="2.9"/><circle cx="84.9" cy="284.2" r="2.9"/><circle cx="70.8" cy="292.6" r="2.9"/><circle cx="57.2" cy="293.5" r="2.9"/><circle cx="70.6" cy="275.5" r="2.9"/><circle cx="55.2" cy="275.4" r="2.9"/><circle cx="47.4" cy="266.0" r="2.9"/><circle cx="65.9" cy="298.0" r="2.9"/><circle cx="58.1" cy="295.1" r="2.9"/><circle cx="56.8" cy="291.4" r="2.9"/><circle cx="56.8" cy="276.6" r="2.9"/><circle cx="86.6" cy="282.8" r="2.9"/><circle cx="72.7" cy="278.0" r="2.9"/><circle cx="60.8" cy="266.8" r="2.9"/><circle cx="63.7" cy="261.6" r="2.9"/><circle cx="53.9" cy="260.3" r="2.9"/><circle cx="48.1" cy="261.3" r="2.9"/><circle cx="60.6" cy="276.5" r="2.9"/><circle cx="41.0" cy="265.8" r="2.9"/><circle cx="98.5" cy="283.8" r="2.9"/><circle cx="80.6" cy="292.2" r="2.9"/><circle cx="42.5" cy="287.9" r="2.9"/><circle cx="88.7" cy="299.3" r="2.9"/><circle cx="65.0" cy="296.6" r="2.9"/><circle cx="78.2" cy="299.1" r="2.9"/><circle cx="46.7" cy="273.5" r="2.9"/><circle cx="60.1" cy="290.6" r="2.9"/><circle cx="94.6" cy="273.0" r="2.9"/><circle cx="90.6" cy="293.1" r="2.9"/><circle cx="57.3" cy="293.7" r="2.9"/><circle cx="71.9" cy="286.9" r="2.9"/><circle cx="48.2" cy="289.4" r="2.9"/><circle cx="43.4" cy="275.3" r="2.9"/><circle cx="94.8" cy="278.5" r="2.9"/><circle cx="44.0" cy="299.8" r="2.9"/><circle cx="74.2" cy="276.3" r="2.9"/><circle cx="41.0" cy="288.7" r="2.9"/><circle cx="54.6" cy="284.0" r="2.9"/><circle cx="67.9" cy="267.2" r="2.9"/><circle cx="40.9" cy="270.9" r="2.9"/><circle cx="72.9" cy="289.1" r="2.9"/><circle cx="56.4" cy="294.8" r="2.9"/><circle cx="52.8" cy="260.7" r="2.9"/><circle cx="91.4" cy="298.2" r="2.9"/><circle cx="77.5" cy="278.6" r="2.9"/><circle cx="52.1" cy="294.5" r="2.9"/><circle cx="88.5" cy="286.9" r="2.9"/><circle cx="88.9" cy="298.5" r="2.9"/><circle cx="60.3" cy="279.3" r="2.9"/><circle cx="62.2" cy="284.5" r="2.9"/><circle cx="82.7" cy="297.0" r="2.9"/><circle cx="42.7" cy="279.5" r="2.9"/><circle cx="78.2" cy="274.5" r="2.9"/><circle cx="40.9" cy="301.7" r="2.9"/><circle cx="72.5" cy="283.7" r="2.9"/><circle cx="86.7" cy="287.6" r="2.9"/><circle cx="63.7" cy="282.9" r="2.9"/><circle cx="96.3" cy="289.6" r="2.9"/><circle cx="103.7" cy="295.3" r="2.9"/><circle cx="60.8" cy="268.9" r="2.9"/><circle cx="82.1" cy="293.4" r="2.9"/><circle cx="94.4" cy="297.8" r="2.9"/><circle cx="101.6" cy="294.5" r="2.9"/><circle cx="65.0" cy="277.1" r="2.9"/><circle cx="52.9" cy="264.5" r="2.9"/><circle cx="87.1" cy="283.2" r="2.9"/><circle cx="61.3" cy="282.5" r="2.9"/><circle cx="67.7" cy="269.8" r="2.9"/><circle cx="64.8" cy="285.4" r="2.9"/><circle cx="83.9" cy="297.0" r="2.9"/><circle cx="55.1" cy="277.2" r="2.9"/><circle cx="56.7" cy="294.4" r="2.9"/><circle cx="75.3" cy="284.9" r="2.9"/><circle cx="60.4" cy="295.2" r="2.9"/><circle cx="51.9" cy="267.1" r="2.9"/><circle cx="44.2" cy="292.5" r="2.9"/><circle cx="93.2" cy="298.1" r="2.9"/><circle cx="61.5" cy="273.9" r="2.9"/><circle cx="45.3" cy="286.0" r="2.9"/><circle cx="77.9" cy="284.5" r="2.9"/><circle cx="42.2" cy="296.1" r="2.9"/><circle cx="47.1" cy="295.5" r="2.9"/><circle cx="71.1" cy="275.5" r="2.9"/><circle cx="40.9" cy="257.6" r="2.9"/><circle cx="52.6" cy="296.2" r="2.9"/><circle cx="47.6" cy="288.0" r="2.9"/><circle cx="58.7" cy="269.2" r="2.9"/><circle cx="68.9" cy="283.5" r="2.9"/><circle cx="77.5" cy="292.4" r="2.9"/><circle cx="83.2" cy="295.2" r="2.9"/><circle cx="91.8" cy="276.7" r="2.9"/><circle cx="81.5" cy="279.1" r="2.9"/><circle cx="55.1" cy="257.1" r="2.9"/><circle cx="73.9" cy="261.8" r="2.9"/><circle cx="61.8" cy="250.8" r="2.9"/><circle cx="54.8" cy="253.3" r="2.9"/><circle cx="93.1" cy="262.7" r="2.9"/><circle cx="74.3" cy="259.7" r="2.9"/><circle cx="78.7" cy="262.5" r="2.9"/><circle cx="98.2" cy="271.1" r="2.9"/><circle cx="97.3" cy="270.5" r="2.9"/><circle cx="51.8" cy="256.0" r="2.9"/><circle cx="83.4" cy="265.3" r="2.9"/><circle cx="49.5" cy="255.9" r="2.9"/><circle cx="81.5" cy="263.6" r="2.9"/><circle cx="95.7" cy="267.5" r="2.9"/><circle cx="93.6" cy="272.2" r="2.9"/><circle cx="87.2" cy="263.4" r="2.9"/><circle cx="89.5" cy="266.9" r="2.9"/><circle cx="46.7" cy="254.9" r="2.9"/><circle cx="93.5" cy="267.5" r="2.9"/><circle cx="42.0" cy="252.1" r="2.9"/><circle cx="62.9" cy="256.1" r="2.9"/><circle cx="49.3" cy="247.2" r="2.9"/><circle cx="89.1" cy="262.5" r="2.9"/><circle cx="97.9" cy="265.0" r="2.9"/><circle cx="60.6" cy="259.6" r="2.9"/><circle cx="68.4" cy="262.5" r="2.9"/><circle cx="86.1" cy="263.4" r="2.9"/><circle cx="65.6" cy="253.3" r="2.9"/><circle cx="89.4" cy="265.2" r="2.9"/><circle cx="48.5" cy="251.4" r="2.9"/><circle cx="87.2" cy="262.1" r="2.9"/><circle cx="71.0" cy="257.4" r="2.9"/><circle cx="70.1" cy="258.2" r="2.9"/><circle cx="42.5" cy="251.3" r="2.9"/><circle cx="61.0" cy="255.2" r="2.9"/><circle cx="92.0" cy="261.2" r="2.9"/><circle cx="103.8" cy="274.8" r="2.9"/><circle cx="49.2" cy="250.1" r="2.9"/><circle cx="85.5" cy="268.1" r="2.9"/><circle cx="51.0" cy="253.7" r="2.9"/><circle cx="95.6" cy="271.3" r="2.9"/><circle cx="41.7" cy="253.5" r="2.9"/><circle cx="92.7" cy="269.9" r="2.9"/><circle cx="83.3" cy="263.0" r="2.9"/><circle cx="111.3" cy="282.0" r="2.9"/><circle cx="119.3" cy="283.5" r="2.9"/><circle cx="110.5" cy="282.1" r="2.9"/><circle cx="107.3" cy="282.8" r="2.9"/><circle cx="108.0" cy="296.4" r="2.9"/><circle cx="113.0" cy="290.3" r="2.9"/><circle cx="108.9" cy="293.4" r="2.9"/><circle cx="119.5" cy="293.9" r="2.9"/><circle cx="114.0" cy="291.0" r="2.9"/><circle cx="120.0" cy="282.0" r="2.9"/><circle cx="120.2" cy="285.5" r="2.9"/><circle cx="109.0" cy="292.8" r="2.9"/><circle cx="125.5" cy="291.9" r="2.9"/><circle cx="112.3" cy="291.7" r="2.9"/><circle cx="112.3" cy="294.2" r="2.9"/><circle cx="113.6" cy="287.4" r="2.9"/><circle cx="80.1" cy="305.9" r="2.9"/><circle cx="71.2" cy="308.9" r="2.9"/><circle cx="99.8" cy="301.7" r="2.9"/><circle cx="60.0" cy="307.4" r="2.9"/><circle cx="43.8" cy="302.9" r="2.9"/><circle cx="41.1" cy="308.3" r="2.9"/><circle cx="64.1" cy="307.9" r="2.9"/><circle cx="73.4" cy="303.8" r="2.9"/><circle cx="99.4" cy="304.8" r="2.9"/><circle cx="62.7" cy="306.7" r="2.9"/><circle cx="81.4" cy="307.2" r="2.9"/><circle cx="72.7" cy="304.7" r="2.9"/><circle cx="67.5" cy="306.8" r="2.9"/><circle cx="44.9" cy="304.3" r="2.9"/><circle cx="57.9" cy="309.0" r="2.9"/><circle cx="98.6" cy="299.8" r="2.9"/><circle cx="51.0" cy="310.3" r="2.9"/><circle cx="44.5" cy="303.4" r="2.9"/><circle cx="40.9" cy="305.7" r="2.9"/><circle cx="90.3" cy="302.4" r="2.9"/><circle cx="76.8" cy="300.8" r="2.9"/><circle cx="49.3" cy="305.3" r="2.9"/><circle cx="102.1" cy="303.5" r="2.9"/><circle cx="54.6" cy="305.0" r="2.9"/><circle cx="90.9" cy="306.1" r="2.9"/><circle cx="70.4" cy="301.4" r="2.9"/><circle cx="49.4" cy="308.5" r="2.9"/><circle cx="99.2" cy="300.3" r="2.9"/><circle cx="51.4" cy="273.0" r="2.9"/><circle cx="91.2" cy="269.9" r="2.9"/><circle cx="73.4" cy="297.7" r="2.9"/><circle cx="75.8" cy="300.6" r="2.9"/><circle cx="67.7" cy="312.5" r="2.9"/><circle cx="118.1" cy="285.8" r="2.9"/><circle cx="45.6" cy="313.4" r="2.9"/><circle cx="97.7" cy="274.5" r="2.9"/><circle cx="40.9" cy="307.1" r="2.9"/><circle cx="63.9" cy="268.1" r="2.9"/><circle cx="101.9" cy="294.2" r="2.9"/><circle cx="116.6" cy="290.4" r="2.9"/><circle cx="91.7" cy="272.9" r="2.9"/><circle cx="84.4" cy="286.6" r="2.9"/><circle cx="104.2" cy="277.0" r="2.9"/><circle cx="69.2" cy="255.3" r="2.9"/><circle cx="46.3" cy="286.8" r="2.9"/><circle cx="63.3" cy="292.1" r="2.9"/><circle cx="89.6" cy="275.2" r="2.9"/><circle cx="90.3" cy="300.4" r="2.9"/><circle cx="69.6" cy="267.9" r="2.9"/><circle cx="92.9" cy="303.3" r="2.9"/><circle cx="49.7" cy="312.2" r="2.9"/><circle cx="92.1" cy="302.8" r="2.9"/><circle cx="56.4" cy="295.7" r="2.9"/><circle cx="120.7" cy="279.6" r="2.9"/><circle cx="96.2" cy="293.9" r="2.9"/><circle cx="69.9" cy="265.6" r="2.9"/><circle cx="49.5" cy="295.5" r="2.9"/><circle cx="87.7" cy="272.7" r="2.9"/><circle cx="88.1" cy="294.1" r="2.9"/><circle cx="69.7" cy="297.7" r="2.9"/><circle cx="43.0" cy="274.9" r="2.9"/><circle cx="41.0" cy="245.7" r="2.9"/><circle cx="55.7" cy="291.5" r="2.9"/><circle cx="67.0" cy="271.4" r="2.9"/><circle cx="93.8" cy="286.2" r="2.9"/><circle cx="116.8" cy="293.5" r="2.9"/><circle cx="63.4" cy="291.5" r="2.9"/><circle cx="74.0" cy="271.5" r="2.9"/><circle cx="64.4" cy="258.7" r="2.9"/><circle cx="128.2" cy="285.7" r="2.9"/><circle cx="45.3" cy="254.9" r="2.9"/><circle cx="81.8" cy="294.9" r="2.9"/><circle cx="119.7" cy="280.6" r="2.9"/><circle cx="118.5" cy="282.6" r="2.9"/><circle cx="60.2" cy="299.4" r="2.9"/><circle cx="92.7" cy="303.1" r="2.9"/><circle cx="79.8" cy="287.0" r="2.9"/><circle cx="53.7" cy="286.4" r="2.9"/><circle cx="53.7" cy="314.4" r="2.9"/><circle cx="43.0" cy="310.4" r="2.9"/><circle cx="93.3" cy="281.2" r="2.9"/><circle cx="52.5" cy="274.4" r="2.9"/><circle cx="64.1" cy="258.1" r="2.9"/><circle cx="127.1" cy="280.8" r="2.9"/><circle cx="122.6" cy="289.8" r="2.9"/><circle cx="71.2" cy="284.1" r="2.9"/><circle cx="45.1" cy="252.8" r="2.9"/><circle cx="84.9" cy="277.9" r="2.9"/><circle cx="63.6" cy="299.0" r="2.9"/><circle cx="96.8" cy="302.2" r="2.9"/><circle cx="87.0" cy="288.8" r="2.9"/><circle cx="91.2" cy="294.4" r="2.9"/><circle cx="125.2" cy="287.1" r="2.9"/><circle cx="80.7" cy="281.0" r="2.9"/><circle cx="109.7" cy="291.1" r="2.9"/><circle cx="86.4" cy="297.8" r="2.9"/><circle cx="62.7" cy="304.4" r="2.9"/><circle cx="128.8" cy="284.2" r="2.9"/><circle cx="43.4" cy="290.6" r="2.9"/><circle cx="96.7" cy="275.5" r="2.9"/><circle cx="75.2" cy="298.9" r="2.9"/><circle cx="101.5" cy="276.2" r="2.9"/><circle cx="83.5" cy="283.4" r="2.9"/><circle cx="58.6" cy="301.3" r="2.9"/><circle cx="52.9" cy="289.1" r="2.9"/><circle cx="104.1" cy="290.9" r="2.9"/><circle cx="101.3" cy="296.7" r="2.9"/><circle cx="59.3" cy="258.1" r="2.9"/><circle cx="80.3" cy="273.4" r="2.9"/><circle cx="46.2" cy="320.8" r="2.9"/><circle cx="77.9" cy="263.3" r="2.9"/><circle cx="69.0" cy="289.6" r="2.9"/><circle cx="47.8" cy="245.1" r="2.9"/><circle cx="59.9" cy="316.7" r="2.9"/><circle cx="62.5" cy="287.9" r="2.9"/><circle cx="89.7" cy="292.8" r="2.9"/><circle cx="119.1" cy="288.2" r="2.9"/><circle cx="64.0" cy="297.4" r="2.9"/><circle cx="70.1" cy="256.9" r="2.9"/><circle cx="119.5" cy="279.4" r="2.9"/><circle cx="81.7" cy="289.9" r="2.9"/><circle cx="69.4" cy="292.9" r="2.9"/><circle cx="95.0" cy="268.3" r="2.9"/><circle cx="115.0" cy="295.3" r="2.9"/><circle cx="76.8" cy="295.0" r="2.9"/><circle cx="94.9" cy="281.6" r="2.9"/><circle cx="54.4" cy="277.4" r="2.9"/><circle cx="77.5" cy="294.4" r="2.9"/><circle cx="42.1" cy="284.7" r="2.9"/><circle cx="67.4" cy="296.7" r="2.9"/><circle cx="78.3" cy="265.1" r="2.9"/><circle cx="91.0" cy="266.2" r="2.9"/><circle cx="79.7" cy="273.9" r="2.9"/><circle cx="48.4" cy="245.7" r="2.9"/><circle cx="86.2" cy="286.7" r="2.9"/><circle cx="62.4" cy="304.4" r="2.9"/><circle cx="78.9" cy="267.6" r="2.9"/><circle cx="99.9" cy="279.2" r="2.9"/><circle cx="44.8" cy="310.6" r="2.9"/><circle cx="57.7" cy="262.4" r="2.9"/><circle cx="59.6" cy="314.9" r="2.9"/><circle cx="75.2" cy="280.5" r="2.9"/><circle cx="61.3" cy="313.1" r="2.9"/><circle cx="49.3" cy="276.7" r="2.9"/><circle cx="44.7" cy="293.9" r="2.9"/><circle cx="64.7" cy="255.0" r="2.9"/><circle cx="107.4" cy="301.7" r="2.9"/><circle cx="103.5" cy="302.6" r="2.9"/><circle cx="105.3" cy="284.4" r="2.9"/><circle cx="104.8" cy="300.1" r="2.9"/><circle cx="51.6" cy="282.5" r="2.9"/><circle cx="52.9" cy="310.0" r="2.9"/><circle cx="64.1" cy="279.8" r="2.9"/><circle cx="70.7" cy="280.5" r="2.9"/><circle cx="60.4" cy="250.2" r="2.9"/><circle cx="96.5" cy="286.9" r="2.9"/><circle cx="45.4" cy="265.2" r="2.9"/><circle cx="79.1" cy="282.8" r="2.9"/><circle cx="108.9" cy="295.1" r="2.9"/><circle cx="49.1" cy="316.9" r="2.9"/><circle cx="41.4" cy="313.2" r="2.9"/><circle cx="51.8" cy="298.2" r="2.9"/><circle cx="41.9" cy="277.6" r="2.9"/>
</g>
<clipPath id="cp12"><rect x="353.0" y="231.9" width="143.7" height="132.79999999999998"/></clipPath>
<g clip-path="url(#cp12)">
<polygon points="434.0,254.0 443.0,255.0 455.0,269.0 465.0,284.0 474.0,299.0 478.0,308.0 478.0,314.0 475.0,315.0 471.0,310.0 463.0,300.0 454.0,290.0 445.0,279.0 437.0,268.0 433.0,260.0" fill="#DF536B" stroke="none"/>
<polygon points="404.0,270.0 412.0,262.0 424.0,258.0 436.0,262.0 445.0,279.0 454.0,290.0 450.0,297.0 410.0,297.0 403.0,290.0" fill="#DF536B" stroke="none"/>
<circle cx="410.5" cy="236.2" r="2.9"/><circle cx="422.9" cy="241.4" r="2.9"/><circle cx="414.6" cy="244.9" r="2.9"/><circle cx="409.1" cy="251.1" r="2.9"/><circle cx="402.9" cy="256.0" r="2.9"/><circle cx="392.5" cy="258.0" r="2.9"/><circle cx="387.7" cy="258.0" r="2.9"/><circle cx="384.9" cy="260.1" r="2.9"/><circle cx="380.7" cy="262.9" r="2.9"/><circle cx="378.7" cy="269.1" r="2.9"/><circle cx="382.8" cy="273.3" r="2.9"/><circle cx="382.1" cy="280.2" r="2.9"/><circle cx="362.8" cy="274.0" r="2.9"/><circle cx="366.9" cy="274.0" r="2.9"/><circle cx="370.4" cy="274.0" r="2.9"/><circle cx="358.2" cy="281.6" r="2.9"/><circle cx="358.2" cy="292.6" r="2.9"/><circle cx="361.4" cy="289.9" r="2.9"/><circle cx="366.0" cy="290.0" r="2.9"/><circle cx="371.0" cy="291.0" r="2.9"/><circle cx="438.8" cy="339.2" r="2.9"/><circle cx="428.5" cy="325.7" r="2.9"/><circle cx="434.7" cy="322.9" r="2.9"/><circle cx="448.2" cy="323.6" r="2.9"/><circle cx="429.8" cy="312.5" r="2.9"/><circle cx="435.4" cy="312.5" r="2.9"/><circle cx="425.7" cy="316.7" r="2.9"/><circle cx="444.4" cy="317.4" r="2.9"/><circle cx="449.9" cy="314.6" r="2.9"/><circle cx="457.5" cy="313.2" r="2.9"/><circle cx="443.0" cy="306.3" r="2.9"/><circle cx="447.1" cy="309.1" r="2.9"/><circle cx="451.3" cy="306.3" r="2.9"/><circle cx="458.2" cy="307.7" r="2.9"/><circle cx="467.2" cy="318.1" r="2.9"/><circle cx="471.3" cy="322.9" r="2.9"/><circle cx="476.2" cy="321.5" r="2.9"/><circle cx="479.6" cy="322.9" r="2.9"/><circle cx="480.3" cy="318.7" r="2.9"/><circle cx="484.5" cy="318.7" r="2.9"/><circle cx="481.7" cy="305.6" r="2.9"/><circle cx="490.4" cy="313.5" r="2.9"/><circle cx="484.2" cy="327.7" r="2.9"/><circle cx="490.4" cy="327.0" r="2.9"/><circle cx="489.3" cy="333.3" r="2.9"/><circle cx="491.8" cy="334.7" r="2.9"/><circle cx="358.2" cy="339.5" r="2.9"/><circle cx="358.2" cy="344.3" r="2.9"/><circle cx="358.2" cy="351.3" r="2.9"/><circle cx="358.2" cy="360.2" r="2.9"/><circle cx="362.8" cy="343.0" r="2.9"/><circle cx="364.8" cy="335.3" r="2.9"/><circle cx="370.4" cy="332.6" r="2.9"/><circle cx="370.4" cy="339.5" r="2.9"/><circle cx="375.6" cy="340.6" r="2.9"/><circle cx="373.1" cy="324.3" r="2.9"/><circle cx="373.1" cy="327.7" r="2.9"/><circle cx="373.1" cy="331.9" r="2.9"/><circle cx="370.4" cy="319.4" r="2.9"/><circle cx="371.7" cy="314.6" r="2.9"/><circle cx="361.4" cy="318.1" r="2.9"/><circle cx="366.2" cy="307.7" r="2.9"/><circle cx="370.4" cy="304.9" r="2.9"/><circle cx="374.5" cy="309.1" r="2.9"/><circle cx="378.0" cy="306.3" r="2.9"/><circle cx="383.9" cy="321.5" r="2.9"/><circle cx="391.1" cy="316.7" r="2.9"/><circle cx="395.3" cy="316.7" r="2.9"/><circle cx="385.6" cy="311.1" r="2.9"/><circle cx="388.3" cy="307.7" r="2.9"/><circle cx="391.1" cy="304.2" r="2.9"/><circle cx="387.0" cy="306.3" r="2.9"/><circle cx="397.3" cy="328.4" r="2.9"/><circle cx="400.8" cy="328.4" r="2.9"/><circle cx="404.5" cy="334.7" r="2.9"/><circle cx="404.5" cy="341.6" r="2.9"/><circle cx="403.6" cy="312.5" r="2.9"/><circle cx="409.8" cy="311.8" r="2.9"/><circle cx="409.1" cy="317.4" r="2.9"/><circle cx="412.5" cy="320.8" r="2.9"/><circle cx="411.9" cy="327.0" r="2.9"/><circle cx="418.1" cy="313.9" r="2.9"/><circle cx="418.8" cy="326.4" r="2.9"/><circle cx="423.6" cy="317.4" r="2.9"/><circle cx="358.2" cy="318.7" r="2.9"/><circle cx="358.2" cy="303.2" r="2.9"/><circle cx="358.2" cy="316.3" r="2.9"/><circle cx="358.2" cy="307.2" r="2.9"/><circle cx="358.2" cy="313.3" r="2.9"/><circle cx="358.2" cy="327.2" r="2.9"/><circle cx="358.2" cy="325.7" r="2.9"/><circle cx="358.2" cy="306.1" r="2.9"/><circle cx="358.2" cy="301.6" r="2.9"/><circle cx="358.2" cy="317.3" r="2.9"/><circle cx="358.2" cy="315.0" r="2.9"/><circle cx="358.2" cy="287.6" r="2.9"/><circle cx="358.2" cy="307.5" r="2.9"/><circle cx="358.2" cy="296.4" r="2.9"/><circle cx="358.2" cy="314.1" r="2.9"/><circle cx="358.2" cy="291.0" r="2.9"/><circle cx="358.2" cy="297.3" r="2.9"/><circle cx="358.2" cy="295.1" r="2.9"/><circle cx="358.2" cy="296.5" r="2.9"/><circle cx="358.2" cy="310.2" r="2.9"/><circle cx="358.2" cy="324.4" r="2.9"/><circle cx="358.2" cy="313.8" r="2.9"/><circle cx="358.2" cy="314.0" r="2.9"/><circle cx="358.2" cy="319.6" r="2.9"/><circle cx="358.2" cy="301.8" r="2.9"/><circle cx="358.2" cy="303.5" r="2.9"/><circle cx="358.2" cy="314.3" r="2.9"/><circle cx="358.2" cy="292.9" r="2.9"/><circle cx="358.2" cy="319.2" r="2.9"/><circle cx="358.2" cy="327.2" r="2.9"/><circle cx="358.2" cy="325.3" r="2.9"/><circle cx="358.2" cy="286.1" r="2.9"/><circle cx="358.2" cy="327.0" r="2.9"/><circle cx="358.2" cy="293.7" r="2.9"/><circle cx="358.2" cy="289.2" r="2.9"/><circle cx="358.2" cy="312.6" r="2.9"/><circle cx="358.2" cy="299.6" r="2.9"/><circle cx="358.2" cy="291.6" r="2.9"/><circle cx="358.2" cy="312.2" r="2.9"/><circle cx="358.2" cy="308.8" r="2.9"/><circle cx="358.2" cy="308.8" r="2.9"/><circle cx="358.2" cy="307.5" r="2.9"/><circle cx="358.2" cy="312.6" r="2.9"/><circle cx="358.2" cy="320.3" r="2.9"/><circle cx="358.2" cy="317.6" r="2.9"/><circle cx="358.2" cy="316.9" r="2.9"/><circle cx="358.2" cy="322.7" r="2.9"/><circle cx="358.2" cy="305.6" r="2.9"/><circle cx="358.2" cy="313.7" r="2.9"/><circle cx="358.2" cy="288.4" r="2.9"/><circle cx="358.2" cy="286.9" r="2.9"/><circle cx="358.2" cy="304.7" r="2.9"/><circle cx="358.2" cy="315.7" r="2.9"/><circle cx="358.2" cy="294.3" r="2.9"/><circle cx="358.2" cy="329.1" r="2.9"/><circle cx="358.2" cy="296.9" r="2.9"/><circle cx="358.2" cy="306.6" r="2.9"/><circle cx="358.2" cy="305.5" r="2.9"/><circle cx="358.2" cy="329.6" r="2.9"/><circle cx="358.2" cy="290.4" r="2.9"/><circle cx="417.4" cy="291.2" r="2.9"/><circle cx="426.8" cy="269.1" r="2.9"/><circle cx="433.6" cy="287.0" r="2.9"/><circle cx="405.0" cy="296.0" r="2.9"/><circle cx="401.6" cy="283.4" r="2.9"/><circle cx="398.5" cy="260.9" r="2.9"/><circle cx="399.3" cy="262.7" r="2.9"/><circle cx="426.8" cy="283.1" r="2.9"/><circle cx="428.4" cy="266.2" r="2.9"/><circle cx="436.3" cy="278.7" r="2.9"/><circle cx="411.6" cy="282.4" r="2.9"/><circle cx="445.0" cy="286.6" r="2.9"/><circle cx="458.9" cy="277.4" r="2.9"/><circle cx="406.0" cy="266.1" r="2.9"/><circle cx="431.4" cy="274.4" r="2.9"/><circle cx="421.7" cy="284.6" r="2.9"/><circle cx="432.7" cy="253.1" r="2.9"/><circle cx="442.1" cy="298.5" r="2.9"/><circle cx="405.6" cy="277.9" r="2.9"/><circle cx="452.6" cy="271.4" r="2.9"/><circle cx="429.0" cy="295.9" r="2.9"/><circle cx="469.0" cy="300.8" r="2.9"/><circle cx="431.1" cy="296.8" r="2.9"/><circle cx="472.5" cy="307.2" r="2.9"/><circle cx="438.5" cy="266.0" r="2.9"/><circle cx="439.0" cy="272.1" r="2.9"/><circle cx="442.7" cy="276.0" r="2.9"/><circle cx="460.5" cy="293.0" r="2.9"/><circle cx="419.6" cy="258.1" r="2.9"/><circle cx="416.2" cy="267.8" r="2.9"/><circle cx="432.1" cy="281.3" r="2.9"/><circle cx="418.2" cy="265.4" r="2.9"/><circle cx="446.5" cy="287.6" r="2.9"/><circle cx="405.1" cy="261.3" r="2.9"/><circle cx="458.7" cy="299.2" r="2.9"/><circle cx="409.9" cy="260.4" r="2.9"/><circle cx="444.5" cy="283.5" r="2.9"/><circle cx="454.6" cy="286.7" r="2.9"/><circle cx="414.0" cy="285.8" r="2.9"/><circle cx="424.1" cy="266.4" r="2.9"/><circle cx="417.7" cy="301.6" r="2.9"/><circle cx="442.8" cy="281.5" r="2.9"/><circle cx="430.6" cy="286.1" r="2.9"/><circle cx="459.4" cy="278.4" r="2.9"/><circle cx="471.1" cy="301.5" r="2.9"/><circle cx="439.2" cy="265.9" r="2.9"/><circle cx="440.3" cy="275.5" r="2.9"/><circle cx="446.9" cy="264.5" r="2.9"/><circle cx="442.4" cy="276.0" r="2.9"/><circle cx="441.4" cy="270.6" r="2.9"/><circle cx="434.9" cy="263.5" r="2.9"/><circle cx="433.8" cy="263.0" r="2.9"/><circle cx="402.5" cy="270.8" r="2.9"/><circle cx="398.3" cy="293.5" r="2.9"/><circle cx="422.9" cy="263.6" r="2.9"/><circle cx="442.7" cy="265.2" r="2.9"/><circle cx="450.6" cy="270.4" r="2.9"/><circle cx="439.2" cy="263.9" r="2.9"/><circle cx="441.9" cy="292.3" r="2.9"/><circle cx="444.4" cy="286.1" r="2.9"/><circle cx="469.5" cy="313.3" r="2.9"/><circle cx="430.7" cy="273.8" r="2.9"/><circle cx="441.1" cy="302.1" r="2.9"/><circle cx="447.4" cy="282.4" r="2.9"/><circle cx="413.8" cy="298.6" r="2.9"/><circle cx="441.0" cy="257.3" r="2.9"/><circle cx="397.1" cy="273.1" r="2.9"/><circle cx="471.4" cy="297.6" r="2.9"/><circle cx="418.4" cy="292.5" r="2.9"/><circle cx="460.9" cy="285.5" r="2.9"/><circle cx="405.9" cy="261.7" r="2.9"/><circle cx="430.8" cy="254.6" r="2.9"/><circle cx="451.3" cy="269.6" r="2.9"/><circle cx="466.5" cy="305.7" r="2.9"/><circle cx="411.1" cy="284.6" r="2.9"/><circle cx="433.9" cy="252.3" r="2.9"/><circle cx="476.8" cy="317.5" r="2.9"/><circle cx="452.3" cy="278.6" r="2.9"/><circle cx="436.2" cy="259.6" r="2.9"/><circle cx="447.4" cy="299.8" r="2.9"/><circle cx="442.7" cy="266.0" r="2.9"/><circle cx="451.7" cy="275.7" r="2.9"/><circle cx="428.4" cy="249.2" r="2.9"/><circle cx="397.4" cy="275.2" r="2.9"/><circle cx="426.4" cy="261.7" r="2.9"/><circle cx="447.9" cy="270.0" r="2.9"/><circle cx="453.7" cy="297.7" r="2.9"/><circle cx="439.8" cy="264.2" r="2.9"/><circle cx="417.4" cy="275.2" r="2.9"/><circle cx="425.7" cy="297.7" r="2.9"/><circle cx="451.5" cy="271.9" r="2.9"/><circle cx="468.2" cy="297.8" r="2.9"/><circle cx="456.3" cy="279.0" r="2.9"/><circle cx="430.7" cy="299.3" r="2.9"/><circle cx="455.1" cy="281.1" r="2.9"/><circle cx="406.2" cy="282.7" r="2.9"/><circle cx="425.8" cy="270.6" r="2.9"/><circle cx="455.4" cy="286.6" r="2.9"/><circle cx="420.5" cy="254.8" r="2.9"/><circle cx="455.2" cy="295.2" r="2.9"/><circle cx="397.7" cy="282.7" r="2.9"/><circle cx="401.5" cy="278.9" r="2.9"/><circle cx="442.9" cy="278.5" r="2.9"/><circle cx="420.6" cy="257.3" r="2.9"/><circle cx="424.0" cy="271.0" r="2.9"/><circle cx="471.0" cy="312.1" r="2.9"/><circle cx="476.9" cy="308.1" r="2.9"/><circle cx="399.1" cy="293.0" r="2.9"/><circle cx="411.4" cy="293.7" r="2.9"/><circle cx="420.0" cy="266.5" r="2.9"/><circle cx="461.9" cy="301.6" r="2.9"/><circle cx="414.0" cy="271.4" r="2.9"/><circle cx="423.2" cy="258.7" r="2.9"/><circle cx="441.7" cy="253.1" r="2.9"/><circle cx="422.6" cy="265.2" r="2.9"/><circle cx="412.0" cy="291.3" r="2.9"/><circle cx="461.5" cy="298.0" r="2.9"/><circle cx="439.1" cy="297.9" r="2.9"/><circle cx="458.9" cy="303.9" r="2.9"/><circle cx="423.0" cy="282.2" r="2.9"/><circle cx="443.6" cy="284.8" r="2.9"/><circle cx="467.7" cy="307.4" r="2.9"/><circle cx="411.5" cy="296.6" r="2.9"/><circle cx="440.7" cy="273.7" r="2.9"/><circle cx="423.3" cy="268.0" r="2.9"/><circle cx="403.4" cy="271.5" r="2.9"/><circle cx="427.2" cy="274.4" r="2.9"/><circle cx="415.8" cy="277.1" r="2.9"/><circle cx="426.9" cy="279.9" r="2.9"/><circle cx="411.1" cy="299.6" r="2.9"/><circle cx="477.6" cy="304.9" r="2.9"/><circle cx="441.7" cy="282.7" r="2.9"/><circle cx="402.5" cy="277.4" r="2.9"/><circle cx="465.4" cy="294.3" r="2.9"/><circle cx="400.0" cy="282.4" r="2.9"/><circle cx="411.1" cy="265.8" r="2.9"/><circle cx="415.6" cy="289.8" r="2.9"/><circle cx="406.9" cy="256.4" r="2.9"/><circle cx="421.2" cy="254.4" r="2.9"/><circle cx="436.8" cy="302.6" r="2.9"/><circle cx="411.3" cy="281.1" r="2.9"/><circle cx="399.5" cy="279.8" r="2.9"/><circle cx="421.7" cy="291.1" r="2.9"/><circle cx="438.7" cy="280.8" r="2.9"/><circle cx="450.1" cy="297.1" r="2.9"/><circle cx="477.7" cy="304.6" r="2.9"/><circle cx="412.5" cy="258.0" r="2.9"/><circle cx="407.4" cy="263.7" r="2.9"/><circle cx="443.8" cy="295.0" r="2.9"/><circle cx="416.8" cy="302.1" r="2.9"/><circle cx="409.0" cy="274.5" r="2.9"/><circle cx="405.7" cy="287.3" r="2.9"/><circle cx="410.9" cy="270.4" r="2.9"/><circle cx="418.3" cy="251.1" r="2.9"/><circle cx="411.0" cy="253.9" r="2.9"/><circle cx="458.9" cy="292.6" r="2.9"/><circle cx="420.8" cy="266.9" r="2.9"/><circle cx="419.5" cy="284.6" r="2.9"/><circle cx="409.0" cy="290.6" r="2.9"/><circle cx="419.8" cy="293.6" r="2.9"/><circle cx="426.3" cy="291.0" r="2.9"/><circle cx="444.8" cy="257.3" r="2.9"/><circle cx="398.4" cy="294.8" r="2.9"/><circle cx="467.0" cy="291.5" r="2.9"/><circle cx="466.6" cy="307.4" r="2.9"/><circle cx="423.6" cy="258.9" r="2.9"/><circle cx="413.9" cy="281.0" r="2.9"/><circle cx="413.9" cy="294.8" r="2.9"/><circle cx="443.6" cy="280.7" r="2.9"/><circle cx="460.6" cy="285.7" r="2.9"/><circle cx="434.3" cy="256.2" r="2.9"/><circle cx="464.0" cy="290.8" r="2.9"/><circle cx="435.5" cy="299.3" r="2.9"/><circle cx="409.9" cy="270.3" r="2.9"/><circle cx="450.8" cy="297.6" r="2.9"/><circle cx="419.0" cy="301.7" r="2.9"/><circle cx="444.1" cy="292.7" r="2.9"/><circle cx="417.2" cy="246.5" r="2.9"/><circle cx="411.5" cy="282.9" r="2.9"/><circle cx="418.8" cy="255.8" r="2.9"/><circle cx="431.7" cy="255.4" r="2.9"/><circle cx="418.0" cy="280.2" r="2.9"/><circle cx="410.8" cy="278.8" r="2.9"/><circle cx="440.3" cy="256.4" r="2.9"/><circle cx="452.1" cy="285.9" r="2.9"/><circle cx="477.9" cy="315.5" r="2.9"/><circle cx="440.4" cy="263.6" r="2.9"/><circle cx="419.7" cy="248.8" r="2.9"/><circle cx="454.7" cy="292.9" r="2.9"/><circle cx="419.4" cy="260.5" r="2.9"/><circle cx="439.3" cy="251.5" r="2.9"/><circle cx="413.9" cy="302.4" r="2.9"/><circle cx="405.5" cy="258.6" r="2.9"/><circle cx="410.0" cy="274.6" r="2.9"/><circle cx="423.2" cy="267.5" r="2.9"/><circle cx="421.4" cy="268.0" r="2.9"/><circle cx="421.5" cy="255.3" r="2.9"/><circle cx="422.9" cy="295.6" r="2.9"/><circle cx="426.0" cy="260.4" r="2.9"/><circle cx="421.4" cy="263.6" r="2.9"/><circle cx="467.1" cy="301.0" r="2.9"/><circle cx="397.5" cy="264.9" r="2.9"/><circle cx="414.0" cy="256.7" r="2.9"/><circle cx="405.8" cy="293.8" r="2.9"/><circle cx="442.2" cy="290.6" r="2.9"/><circle cx="400.9" cy="290.3" r="2.9"/><circle cx="461.8" cy="292.3" r="2.9"/><circle cx="466.5" cy="297.4" r="2.9"/><circle cx="399.7" cy="288.2" r="2.9"/><circle cx="409.7" cy="270.5" r="2.9"/><circle cx="425.7" cy="263.4" r="2.9"/><circle cx="435.3" cy="281.0" r="2.9"/><circle cx="422.8" cy="302.6" r="2.9"/><circle cx="461.1" cy="290.8" r="2.9"/><circle cx="416.4" cy="293.7" r="2.9"/><circle cx="407.6" cy="258.6" r="2.9"/><circle cx="401.3" cy="295.7" r="2.9"/><circle cx="426.4" cy="296.0" r="2.9"/><circle cx="410.0" cy="291.5" r="2.9"/><circle cx="419.2" cy="276.3" r="2.9"/><circle cx="412.3" cy="302.5" r="2.9"/><circle cx="414.6" cy="296.7" r="2.9"/><circle cx="438.1" cy="271.0" r="2.9"/><circle cx="430.0" cy="285.4" r="2.9"/><circle cx="451.8" cy="297.7" r="2.9"/><circle cx="429.2" cy="271.9" r="2.9"/><circle cx="411.0" cy="290.6" r="2.9"/><circle cx="424.1" cy="302.8" r="2.9"/><circle cx="404.4" cy="259.0" r="2.9"/><circle cx="434.6" cy="285.0" r="2.9"/><circle cx="467.5" cy="306.7" r="2.9"/><circle cx="435.0" cy="278.7" r="2.9"/><circle cx="408.8" cy="261.1" r="2.9"/><circle cx="411.8" cy="264.3" r="2.9"/><circle cx="442.3" cy="262.6" r="2.9"/><circle cx="418.9" cy="251.4" r="2.9"/><circle cx="433.3" cy="277.4" r="2.9"/><circle cx="399.7" cy="264.9" r="2.9"/><circle cx="437.3" cy="277.6" r="2.9"/><circle cx="455.9" cy="286.3" r="2.9"/><circle cx="420.9" cy="263.9" r="2.9"/><circle cx="436.9" cy="274.8" r="2.9"/><circle cx="446.5" cy="258.0" r="2.9"/><circle cx="447.9" cy="280.6" r="2.9"/><circle cx="418.3" cy="266.3" r="2.9"/><circle cx="399.9" cy="261.4" r="2.9"/><circle cx="458.0" cy="280.2" r="2.9"/><circle cx="418.6" cy="269.9" r="2.9"/><circle cx="439.3" cy="266.4" r="2.9"/><circle cx="436.7" cy="283.3" r="2.9"/><circle cx="473.4" cy="309.3" r="2.9"/><circle cx="406.1" cy="271.9" r="2.9"/><circle cx="455.3" cy="284.4" r="2.9"/><circle cx="441.8" cy="275.7" r="2.9"/><circle cx="472.6" cy="307.9" r="2.9"/><circle cx="430.1" cy="270.9" r="2.9"/><circle cx="423.0" cy="293.5" r="2.9"/><circle cx="452.5" cy="290.2" r="2.9"/><circle cx="440.3" cy="294.0" r="2.9"/><circle cx="454.9" cy="298.4" r="2.9"/><circle cx="474.8" cy="316.6" r="2.9"/><circle cx="412.7" cy="257.3" r="2.9"/><circle cx="414.5" cy="283.6" r="2.9"/><circle cx="475.3" cy="306.1" r="2.9"/><circle cx="421.8" cy="244.2" r="2.9"/><circle cx="469.7" cy="313.8" r="2.9"/><circle cx="429.9" cy="293.2" r="2.9"/><circle cx="411.3" cy="282.1" r="2.9"/><circle cx="441.8" cy="259.7" r="2.9"/><circle cx="408.5" cy="261.1" r="2.9"/><circle cx="421.9" cy="278.9" r="2.9"/><circle cx="415.4" cy="299.3" r="2.9"/><circle cx="421.4" cy="274.5" r="2.9"/><circle cx="442.9" cy="261.7" r="2.9"/><circle cx="436.9" cy="285.9" r="2.9"/><circle cx="451.8" cy="299.4" r="2.9"/><circle cx="474.3" cy="316.7" r="2.9"/><circle cx="417.8" cy="252.8" r="2.9"/><circle cx="409.0" cy="260.7" r="2.9"/><circle cx="465.1" cy="302.8" r="2.9"/><circle cx="438.6" cy="284.8" r="2.9"/><circle cx="459.6" cy="287.9" r="2.9"/><circle cx="402.6" cy="277.9" r="2.9"/><circle cx="413.2" cy="278.8" r="2.9"/><circle cx="423.4" cy="287.2" r="2.9"/><circle cx="429.6" cy="280.9" r="2.9"/><circle cx="414.9" cy="292.3" r="2.9"/><circle cx="424.0" cy="282.4" r="2.9"/><circle cx="452.9" cy="285.9" r="2.9"/><circle cx="432.1" cy="274.5" r="2.9"/><circle cx="413.5" cy="275.5" r="2.9"/><circle cx="440.3" cy="264.8" r="2.9"/><circle cx="442.6" cy="287.9" r="2.9"/><circle cx="461.1" cy="295.6" r="2.9"/><circle cx="409.8" cy="296.5" r="2.9"/><circle cx="479.3" cy="304.8" r="2.9"/><circle cx="399.7" cy="264.6" r="2.9"/><circle cx="471.3" cy="295.2" r="2.9"/><circle cx="452.4" cy="284.2" r="2.9"/><circle cx="458.1" cy="284.5" r="2.9"/><circle cx="436.0" cy="290.8" r="2.9"/><circle cx="401.8" cy="285.7" r="2.9"/><circle cx="458.4" cy="297.6" r="2.9"/><circle cx="450.2" cy="288.4" r="2.9"/><circle cx="436.3" cy="276.4" r="2.9"/><circle cx="447.2" cy="268.7" r="2.9"/><circle cx="463.9" cy="284.5" r="2.9"/><circle cx="433.0" cy="282.2" r="2.9"/><circle cx="465.3" cy="296.9" r="2.9"/><circle cx="436.2" cy="300.5" r="2.9"/><circle cx="426.6" cy="279.8" r="2.9"/><circle cx="418.5" cy="252.9" r="2.9"/><circle cx="408.6" cy="265.1" r="2.9"/><circle cx="414.5" cy="261.3" r="2.9"/><circle cx="479.5" cy="310.8" r="2.9"/><circle cx="436.3" cy="265.9" r="2.9"/><circle cx="424.1" cy="256.2" r="2.9"/><circle cx="447.4" cy="276.8" r="2.9"/><circle cx="465.9" cy="301.7" r="2.9"/><circle cx="410.5" cy="266.9" r="2.9"/><circle cx="440.3" cy="276.5" r="2.9"/><circle cx="406.4" cy="257.5" r="2.9"/><circle cx="412.8" cy="283.2" r="2.9"/><circle cx="416.1" cy="272.2" r="2.9"/><circle cx="398.2" cy="293.8" r="2.9"/><circle cx="402.3" cy="265.0" r="2.9"/><circle cx="404.6" cy="295.9" r="2.9"/><circle cx="414.5" cy="285.1" r="2.9"/><circle cx="398.8" cy="286.0" r="2.9"/><circle cx="412.5" cy="265.5" r="2.9"/><circle cx="437.7" cy="279.9" r="2.9"/><circle cx="420.7" cy="255.8" r="2.9"/><circle cx="396.8" cy="264.7" r="2.9"/><circle cx="428.1" cy="262.6" r="2.9"/><circle cx="456.4" cy="274.6" r="2.9"/><circle cx="447.8" cy="287.8" r="2.9"/><circle cx="443.7" cy="295.8" r="2.9"/><circle cx="431.5" cy="278.8" r="2.9"/><circle cx="472.1" cy="313.5" r="2.9"/><circle cx="432.7" cy="298.9" r="2.9"/><circle cx="455.7" cy="285.7" r="2.9"/><circle cx="442.9" cy="259.3" r="2.9"/><circle cx="420.0" cy="262.4" r="2.9"/><circle cx="414.6" cy="258.5" r="2.9"/><circle cx="465.3" cy="294.0" r="2.9"/><circle cx="422.2" cy="251.1" r="2.9"/><circle cx="453.2" cy="299.7" r="2.9"/><circle cx="450.5" cy="297.3" r="2.9"/><circle cx="410.2" cy="272.1" r="2.9"/><circle cx="479.6" cy="317.2" r="2.9"/><circle cx="465.4" cy="307.1" r="2.9"/><circle cx="473.5" cy="304.8" r="2.9"/><circle cx="473.9" cy="311.3" r="2.9"/><circle cx="425.6" cy="303.0" r="2.9"/><circle cx="431.1" cy="295.9" r="2.9"/><circle cx="425.5" cy="261.2" r="2.9"/><circle cx="411.9" cy="289.5" r="2.9"/><circle cx="459.2" cy="288.9" r="2.9"/><circle cx="444.7" cy="283.0" r="2.9"/><circle cx="441.7" cy="293.3" r="2.9"/><circle cx="477.9" cy="314.8" r="2.9"/><circle cx="400.2" cy="294.3" r="2.9"/><circle cx="437.8" cy="290.4" r="2.9"/><circle cx="423.6" cy="288.1" r="2.9"/><circle cx="404.1" cy="258.7" r="2.9"/><circle cx="405.7" cy="292.3" r="2.9"/><circle cx="479.6" cy="314.1" r="2.9"/><circle cx="470.9" cy="297.2" r="2.9"/><circle cx="445.5" cy="283.4" r="2.9"/><circle cx="437.4" cy="301.7" r="2.9"/><circle cx="450.3" cy="284.1" r="2.9"/><circle cx="438.0" cy="288.3" r="2.9"/><circle cx="433.8" cy="271.8" r="2.9"/><circle cx="460.9" cy="292.2" r="2.9"/><circle cx="478.9" cy="313.4" r="2.9"/><circle cx="438.8" cy="280.8" r="2.9"/><circle cx="424.7" cy="288.7" r="2.9"/><circle cx="428.7" cy="272.2" r="2.9"/><circle cx="450.1" cy="295.6" r="2.9"/><circle cx="438.0" cy="277.3" r="2.9"/><circle cx="474.0" cy="316.6" r="2.9"/><circle cx="405.5" cy="280.8" r="2.9"/><circle cx="445.2" cy="295.6" r="2.9"/><circle cx="425.6" cy="284.0" r="2.9"/><circle cx="429.7" cy="254.6" r="2.9"/><circle cx="450.1" cy="284.1" r="2.9"/><circle cx="464.5" cy="306.6" r="2.9"/><circle cx="441.9" cy="267.5" r="2.9"/><circle cx="402.8" cy="271.3" r="2.9"/><circle cx="408.7" cy="277.0" r="2.9"/><circle cx="472.2" cy="305.3" r="2.9"/><circle cx="399.9" cy="278.5" r="2.9"/><circle cx="398.8" cy="288.8" r="2.9"/><circle cx="413.4" cy="264.1" r="2.9"/><circle cx="423.3" cy="266.1" r="2.9"/><circle cx="430.6" cy="249.2" r="2.9"/><circle cx="427.2" cy="247.8" r="2.9"/><circle cx="402.5" cy="271.2" r="2.9"/><circle cx="473.6" cy="312.8" r="2.9"/><circle cx="435.7" cy="287.1" r="2.9"/><circle cx="437.0" cy="264.8" r="2.9"/><circle cx="444.2" cy="262.1" r="2.9"/><circle cx="442.2" cy="262.4" r="2.9"/><circle cx="439.6" cy="293.1" r="2.9"/><circle cx="417.7" cy="257.3" r="2.9"/><circle cx="430.7" cy="300.1" r="2.9"/><circle cx="458.2" cy="277.9" r="2.9"/><circle cx="447.6" cy="262.4" r="2.9"/><circle cx="445.2" cy="297.0" r="2.9"/><circle cx="441.2" cy="300.8" r="2.9"/><circle cx="419.1" cy="302.6" r="2.9"/><circle cx="423.0" cy="282.2" r="2.9"/><circle cx="408.2" cy="273.7" r="2.9"/><circle cx="412.0" cy="284.2" r="2.9"/><circle cx="451.9" cy="295.2" r="2.9"/><circle cx="454.4" cy="297.7" r="2.9"/><circle cx="442.3" cy="264.3" r="2.9"/><circle cx="460.6" cy="290.4" r="2.9"/><circle cx="399.2" cy="284.7" r="2.9"/><circle cx="435.8" cy="283.3" r="2.9"/><circle cx="424.8" cy="276.4" r="2.9"/><circle cx="447.7" cy="266.6" r="2.9"/><circle cx="470.2" cy="308.2" r="2.9"/><circle cx="462.9" cy="300.0" r="2.9"/><circle cx="411.9" cy="286.2" r="2.9"/><circle cx="433.6" cy="249.9" r="2.9"/><circle cx="452.7" cy="296.1" r="2.9"/><circle cx="401.1" cy="289.6" r="2.9"/><circle cx="423.9" cy="253.0" r="2.9"/><circle cx="396.3" cy="265.9" r="2.9"/><circle cx="435.2" cy="280.7" r="2.9"/><circle cx="432.1" cy="298.0" r="2.9"/><circle cx="414.0" cy="282.0" r="2.9"/><circle cx="479.8" cy="316.8" r="2.9"/><circle cx="415.7" cy="291.2" r="2.9"/><circle cx="420.6" cy="270.3" r="2.9"/><circle cx="428.6" cy="278.3" r="2.9"/><circle cx="416.4" cy="260.9" r="2.9"/><circle cx="399.6" cy="269.9" r="2.9"/><circle cx="424.2" cy="299.5" r="2.9"/><circle cx="415.6" cy="300.5" r="2.9"/><circle cx="478.2" cy="308.1" r="2.9"/><circle cx="463.1" cy="303.4" r="2.9"/><circle cx="453.5" cy="287.1" r="2.9"/><circle cx="437.3" cy="301.3" r="2.9"/><circle cx="411.5" cy="271.6" r="2.9"/><circle cx="480.2" cy="310.4" r="2.9"/><circle cx="418.3" cy="275.1" r="2.9"/><circle cx="440.6" cy="278.0" r="2.9"/><circle cx="402.7" cy="270.8" r="2.9"/><circle cx="470.7" cy="310.8" r="2.9"/><circle cx="422.4" cy="270.6" r="2.9"/><circle cx="443.9" cy="288.0" r="2.9"/><circle cx="439.9" cy="284.8" r="2.9"/><circle cx="434.0" cy="268.5" r="2.9"/><circle cx="436.1" cy="259.1" r="2.9"/><circle cx="429.3" cy="259.8" r="2.9"/><circle cx="415.1" cy="276.2" r="2.9"/><circle cx="406.2" cy="262.1" r="2.9"/><circle cx="470.2" cy="308.8" r="2.9"/><circle cx="441.5" cy="268.4" r="2.9"/><circle cx="456.7" cy="288.8" r="2.9"/><circle cx="458.0" cy="282.3" r="2.9"/><circle cx="448.8" cy="282.4" r="2.9"/><circle cx="472.5" cy="311.3" r="2.9"/><circle cx="455.4" cy="274.2" r="2.9"/><circle cx="470.8" cy="305.3" r="2.9"/><circle cx="434.7" cy="253.4" r="2.9"/><circle cx="457.9" cy="272.3" r="2.9"/><circle cx="469.7" cy="297.2" r="2.9"/><circle cx="459.4" cy="290.8" r="2.9"/><circle cx="444.1" cy="259.6" r="2.9"/><circle cx="440.1" cy="264.1" r="2.9"/><circle cx="464.5" cy="284.8" r="2.9"/><circle cx="454.7" cy="282.5" r="2.9"/><circle cx="460.6" cy="297.7" r="2.9"/><circle cx="444.5" cy="267.4" r="2.9"/><circle cx="441.6" cy="270.8" r="2.9"/><circle cx="465.4" cy="301.2" r="2.9"/><circle cx="444.8" cy="259.9" r="2.9"/><circle cx="458.6" cy="272.3" r="2.9"/><circle cx="464.5" cy="284.7" r="2.9"/><circle cx="440.8" cy="260.0" r="2.9"/><circle cx="454.6" cy="279.9" r="2.9"/><circle cx="467.6" cy="303.5" r="2.9"/><circle cx="446.9" cy="273.4" r="2.9"/><circle cx="460.2" cy="280.8" r="2.9"/><circle cx="454.6" cy="289.1" r="2.9"/><circle cx="441.6" cy="258.7" r="2.9"/><circle cx="445.1" cy="255.5" r="2.9"/><circle cx="455.7" cy="273.1" r="2.9"/><circle cx="445.8" cy="257.1" r="2.9"/><circle cx="449.3" cy="269.2" r="2.9"/><circle cx="434.9" cy="252.1" r="2.9"/><circle cx="445.0" cy="262.3" r="2.9"/><circle cx="460.1" cy="280.4" r="2.9"/><circle cx="441.5" cy="263.3" r="2.9"/><circle cx="477.3" cy="312.0" r="2.9"/><circle cx="446.5" cy="271.9" r="2.9"/><circle cx="448.0" cy="273.8" r="2.9"/><circle cx="458.4" cy="292.1" r="2.9"/><circle cx="467.7" cy="299.6" r="2.9"/><circle cx="470.3" cy="309.2" r="2.9"/><circle cx="457.9" cy="285.6" r="2.9"/><circle cx="438.6" cy="252.3" r="2.9"/><circle cx="475.5" cy="317.2" r="2.9"/><circle cx="470.0" cy="299.0" r="2.9"/><circle cx="441.2" cy="261.7" r="2.9"/><circle cx="444.1" cy="260.8" r="2.9"/><circle cx="441.6" cy="257.0" r="2.9"/><circle cx="451.6" cy="273.3" r="2.9"/><circle cx="438.0" cy="262.3" r="2.9"/><circle cx="440.8" cy="261.4" r="2.9"/><circle cx="469.1" cy="303.1" r="2.9"/><circle cx="451.9" cy="274.3" r="2.9"/><circle cx="463.6" cy="283.4" r="2.9"/><circle cx="458.4" cy="280.8" r="2.9"/><circle cx="458.5" cy="272.8" r="2.9"/><circle cx="464.4" cy="279.1" r="2.9"/><circle cx="441.5" cy="263.2" r="2.9"/><circle cx="447.7" cy="281.1" r="2.9"/><circle cx="477.3" cy="313.3" r="2.9"/><circle cx="469.8" cy="299.1" r="2.9"/><circle cx="467.4" cy="295.4" r="2.9"/><circle cx="461.9" cy="292.5" r="2.9"/><circle cx="446.5" cy="258.3" r="2.9"/><circle cx="476.7" cy="305.6" r="2.9"/><circle cx="465.4" cy="292.8" r="2.9"/><circle cx="455.1" cy="287.2" r="2.9"/><circle cx="441.5" cy="254.3" r="2.9"/><circle cx="463.3" cy="295.8" r="2.9"/><circle cx="477.7" cy="304.9" r="2.9"/><circle cx="450.4" cy="281.8" r="2.9"/><circle cx="449.3" cy="262.2" r="2.9"/><circle cx="448.5" cy="258.9" r="2.9"/><circle cx="461.7" cy="293.0" r="2.9"/><circle cx="478.1" cy="302.6" r="2.9"/><circle cx="459.2" cy="285.7" r="2.9"/><circle cx="441.3" cy="272.2" r="2.9"/><circle cx="449.2" cy="268.4" r="2.9"/><circle cx="444.7" cy="262.7" r="2.9"/><circle cx="435.1" cy="259.5" r="2.9"/><circle cx="478.3" cy="310.7" r="2.9"/><circle cx="449.0" cy="279.0" r="2.9"/><circle cx="466.7" cy="304.3" r="2.9"/><circle cx="460.4" cy="291.2" r="2.9"/><circle cx="463.2" cy="286.6" r="2.9"/><circle cx="450.5" cy="264.4" r="2.9"/><circle cx="465.1" cy="292.8" r="2.9"/><circle cx="473.9" cy="307.2" r="2.9"/><circle cx="470.4" cy="305.6" r="2.9"/><circle cx="466.2" cy="288.6" r="2.9"/><circle cx="478.7" cy="303.4" r="2.9"/><circle cx="455.8" cy="288.8" r="2.9"/><circle cx="441.4" cy="266.1" r="2.9"/><circle cx="443.4" cy="267.9" r="2.9"/><circle cx="438.0" cy="253.6" r="2.9"/><circle cx="464.4" cy="295.1" r="2.9"/><circle cx="439.3" cy="269.5" r="2.9"/><circle cx="467.6" cy="307.2" r="2.9"/><circle cx="458.9" cy="292.9" r="2.9"/><circle cx="455.4" cy="279.2" r="2.9"/><circle cx="465.0" cy="283.5" r="2.9"/><circle cx="368.4" cy="281.8" r="2.9"/><circle cx="388.2" cy="288.8" r="2.9"/><circle cx="389.0" cy="281.7" r="2.9"/><circle cx="376.4" cy="280.2" r="2.9"/><circle cx="365.7" cy="284.6" r="2.9"/><circle cx="369.7" cy="296.1" r="2.9"/><circle cx="363.1" cy="287.7" r="2.9"/><circle cx="362.6" cy="294.8" r="2.9"/><circle cx="363.0" cy="294.3" r="2.9"/><circle cx="371.3" cy="284.8" r="2.9"/><circle cx="362.8" cy="289.9" r="2.9"/><circle cx="361.8" cy="290.7" r="2.9"/><circle cx="379.8" cy="283.2" r="2.9"/><circle cx="384.3" cy="291.5" r="2.9"/><circle cx="361.5" cy="295.3" r="2.9"/><circle cx="393.1" cy="293.2" r="2.9"/><circle cx="395.0" cy="284.5" r="2.9"/><circle cx="364.0" cy="286.2" r="2.9"/><circle cx="394.8" cy="290.9" r="2.9"/><circle cx="363.3" cy="292.3" r="2.9"/><circle cx="390.5" cy="286.8" r="2.9"/><circle cx="384.3" cy="294.6" r="2.9"/><circle cx="375.5" cy="293.0" r="2.9"/><circle cx="381.2" cy="292.9" r="2.9"/><circle cx="392.0" cy="280.8" r="2.9"/><circle cx="366.4" cy="289.1" r="2.9"/><circle cx="372.6" cy="283.6" r="2.9"/><circle cx="359.0" cy="286.4" r="2.9"/><circle cx="397.9" cy="285.8" r="2.9"/><circle cx="367.4" cy="285.1" r="2.9"/><circle cx="365.6" cy="288.0" r="2.9"/><circle cx="373.2" cy="291.2" r="2.9"/><circle cx="394.6" cy="292.3" r="2.9"/><circle cx="384.1" cy="289.5" r="2.9"/><circle cx="366.5" cy="280.8" r="2.9"/><circle cx="376.4" cy="291.0" r="2.9"/><circle cx="377.0" cy="287.5" r="2.9"/><circle cx="362.1" cy="296.0" r="2.9"/><circle cx="368.3" cy="285.4" r="2.9"/><circle cx="390.4" cy="296.0" r="2.9"/><circle cx="373.3" cy="286.6" r="2.9"/><circle cx="391.7" cy="287.3" r="2.9"/><circle cx="363.6" cy="282.1" r="2.9"/><circle cx="361.5" cy="295.0" r="2.9"/><circle cx="391.5" cy="293.7" r="2.9"/><circle cx="370.8" cy="284.6" r="2.9"/><circle cx="395.6" cy="279.0" r="2.9"/><circle cx="375.9" cy="284.9" r="2.9"/><circle cx="388.0" cy="291.0" r="2.9"/><circle cx="397.8" cy="296.4" r="2.9"/><circle cx="382.7" cy="295.4" r="2.9"/><circle cx="382.3" cy="281.9" r="2.9"/><circle cx="378.8" cy="283.1" r="2.9"/><circle cx="394.5" cy="293.2" r="2.9"/><circle cx="363.0" cy="290.3" r="2.9"/><circle cx="384.1" cy="292.7" r="2.9"/><circle cx="364.7" cy="289.1" r="2.9"/><circle cx="363.3" cy="286.1" r="2.9"/><circle cx="373.1" cy="284.8" r="2.9"/><circle cx="374.9" cy="287.8" r="2.9"/><circle cx="363.3" cy="288.0" r="2.9"/><circle cx="361.9" cy="291.3" r="2.9"/><circle cx="360.4" cy="287.2" r="2.9"/><circle cx="359.1" cy="292.9" r="2.9"/><circle cx="395.8" cy="292.2" r="2.9"/><circle cx="376.8" cy="286.8" r="2.9"/><circle cx="388.5" cy="279.5" r="2.9"/><circle cx="372.9" cy="287.1" r="2.9"/><circle cx="365.7" cy="286.7" r="2.9"/><circle cx="372.7" cy="280.6" r="2.9"/><circle cx="382.0" cy="286.3" r="2.9"/><circle cx="392.1" cy="266.2" r="2.9"/><circle cx="394.1" cy="274.8" r="2.9"/><circle cx="386.7" cy="274.3" r="2.9"/><circle cx="377.9" cy="271.4" r="2.9"/><circle cx="382.0" cy="277.1" r="2.9"/><circle cx="380.9" cy="277.7" r="2.9"/><circle cx="372.8" cy="278.9" r="2.9"/><circle cx="393.3" cy="266.1" r="2.9"/><circle cx="392.7" cy="262.7" r="2.9"/><circle cx="384.2" cy="277.2" r="2.9"/><circle cx="394.8" cy="267.1" r="2.9"/><circle cx="380.7" cy="274.9" r="2.9"/><circle cx="388.5" cy="274.7" r="2.9"/><circle cx="389.1" cy="274.1" r="2.9"/><circle cx="387.5" cy="278.4" r="2.9"/><circle cx="392.7" cy="266.9" r="2.9"/><circle cx="369.3" cy="333.7" r="2.9"/><circle cx="368.7" cy="308.3" r="2.9"/><circle cx="365.1" cy="302.7" r="2.9"/><circle cx="372.5" cy="321.0" r="2.9"/><circle cx="367.2" cy="343.8" r="2.9"/><circle cx="366.8" cy="314.1" r="2.9"/><circle cx="364.6" cy="310.3" r="2.9"/><circle cx="365.0" cy="321.5" r="2.9"/><circle cx="367.7" cy="319.5" r="2.9"/><circle cx="460.2" cy="307.2" r="2.9"/><circle cx="438.3" cy="311.8" r="2.9"/><circle cx="471.0" cy="314.3" r="2.9"/><circle cx="469.4" cy="307.5" r="2.9"/><circle cx="398.6" cy="303.0" r="2.9"/><circle cx="407.9" cy="321.6" r="2.9"/><circle cx="386.0" cy="317.4" r="2.9"/><circle cx="470.8" cy="321.9" r="2.9"/><circle cx="400.4" cy="300.8" r="2.9"/><circle cx="410.3" cy="298.6" r="2.9"/><circle cx="426.9" cy="313.3" r="2.9"/><circle cx="392.2" cy="317.3" r="2.9"/><circle cx="429.3" cy="320.8" r="2.9"/><circle cx="468.3" cy="322.3" r="2.9"/><circle cx="422.1" cy="307.1" r="2.9"/><circle cx="441.2" cy="308.8" r="2.9"/><circle cx="394.3" cy="300.0" r="2.9"/><circle cx="440.9" cy="323.5" r="2.9"/><circle cx="399.7" cy="299.5" r="2.9"/><circle cx="390.1" cy="320.8" r="2.9"/><circle cx="413.2" cy="307.7" r="2.9"/><circle cx="398.8" cy="317.3" r="2.9"/><circle cx="398.4" cy="324.7" r="2.9"/><circle cx="382.2" cy="323.9" r="2.9"/><circle cx="419.3" cy="309.9" r="2.9"/><circle cx="468.0" cy="312.0" r="2.9"/>
</g>
<clipPath id="cp20"><rect x="36.1" y="380.5" width="143.4" height="133.20000000000005"/></clipPath>
<g clip-path="url(#cp20)">
<polygon points="68.3,460.6 57.6,453.1 49.0,446.6 42.5,439.2 42.5,412.2 51.1,419.7 60.8,427.1 70.5,436.4 76.9,447.6 76.9,456.8" fill="#DF536B" stroke="none"/>
<circle cx="138.7" cy="508.7" r="2.9"/><circle cx="133.2" cy="508.7" r="2.9"/><circle cx="135.5" cy="508.7" r="2.9"/><circle cx="144.0" cy="508.7" r="2.9"/><circle cx="158.3" cy="508.7" r="2.9"/><circle cx="143.8" cy="508.7" r="2.9"/><circle cx="154.8" cy="508.7" r="2.9"/><circle cx="143.8" cy="508.7" r="2.9"/><circle cx="149.4" cy="508.7" r="2.9"/><circle cx="144.7" cy="508.7" r="2.9"/><circle cx="154.4" cy="508.7" r="2.9"/><circle cx="138.0" cy="508.7" r="2.9"/><circle cx="147.3" cy="508.7" r="2.9"/><circle cx="145.1" cy="508.7" r="2.9"/><circle cx="158.3" cy="508.7" r="2.9"/><circle cx="145.1" cy="508.7" r="2.9"/><circle cx="142.8" cy="508.7" r="2.9"/><circle cx="129.4" cy="508.7" r="2.9"/><circle cx="142.7" cy="508.7" r="2.9"/><circle cx="156.4" cy="508.7" r="2.9"/><circle cx="151.1" cy="508.7" r="2.9"/><circle cx="150.0" cy="508.7" r="2.9"/><circle cx="138.1" cy="508.7" r="2.9"/><circle cx="130.5" cy="508.7" r="2.9"/><circle cx="166.7" cy="508.7" r="2.9"/><circle cx="163.5" cy="508.7" r="2.9"/><circle cx="174.1" cy="508.7" r="2.9"/><circle cx="170.5" cy="508.6" r="2.9"/><circle cx="162.2" cy="504.4" r="2.9"/><circle cx="154.3" cy="502.6" r="2.9"/><circle cx="150.6" cy="492.5" r="2.9"/><circle cx="146.6" cy="497.4" r="2.9"/><circle cx="145.8" cy="493.6" r="2.9"/><circle cx="133.5" cy="489.9" r="2.9"/><circle cx="133.3" cy="465.3" r="2.9"/><circle cx="123.2" cy="466.0" r="2.9"/><circle cx="121.3" cy="472.4" r="2.9"/><circle cx="118.3" cy="469.8" r="2.9"/><circle cx="105.1" cy="446.6" r="2.9"/><circle cx="91.8" cy="442.8" r="2.9"/><circle cx="89.5" cy="437.6" r="2.9"/><circle cx="90.6" cy="433.2" r="2.9"/><circle cx="85.8" cy="442.2" r="2.9"/><circle cx="78.3" cy="424.8" r="2.9"/><circle cx="76.2" cy="437.0" r="2.9"/><circle cx="74.7" cy="428.6" r="2.9"/><circle cx="69.4" cy="426.7" r="2.9"/><circle cx="63.5" cy="421.5" r="2.9"/><circle cx="60.5" cy="418.4" r="2.9"/><circle cx="57.6" cy="415.1" r="2.9"/><circle cx="57.8" cy="407.4" r="2.9"/><circle cx="52.3" cy="406.8" r="2.9"/><circle cx="52.3" cy="402.3" r="2.9"/><circle cx="46.7" cy="395.5" r="2.9"/><circle cx="40.9" cy="390.0" r="2.9"/><circle cx="40.9" cy="385.6" r="2.9"/><circle cx="132.8" cy="465.4" r="2.9"/><circle cx="123.2" cy="465.8" r="2.9"/><circle cx="118.4" cy="469.2" r="2.9"/><circle cx="105.7" cy="447.4" r="2.9"/><circle cx="102.8" cy="452.1" r="2.9"/><circle cx="106.5" cy="458.3" r="2.9"/><circle cx="99.8" cy="457.7" r="2.9"/><circle cx="94.7" cy="457.0" r="2.9"/><circle cx="92.4" cy="453.1" r="2.9"/><circle cx="91.7" cy="443.5" r="2.9"/><circle cx="90.1" cy="437.7" r="2.9"/><circle cx="91.7" cy="433.2" r="2.9"/><circle cx="40.9" cy="389.3" r="2.9"/><circle cx="40.9" cy="390.7" r="2.9"/><circle cx="40.9" cy="392.0" r="2.9"/><circle cx="40.9" cy="395.4" r="2.9"/><circle cx="40.9" cy="391.5" r="2.9"/><circle cx="40.9" cy="439.1" r="2.9"/><circle cx="40.9" cy="414.6" r="2.9"/><circle cx="40.9" cy="409.4" r="2.9"/><circle cx="40.9" cy="404.4" r="2.9"/><circle cx="40.9" cy="408.2" r="2.9"/><circle cx="40.9" cy="408.2" r="2.9"/><circle cx="40.9" cy="391.6" r="2.9"/><circle cx="40.9" cy="435.6" r="2.9"/><circle cx="40.9" cy="413.1" r="2.9"/><circle cx="40.9" cy="390.2" r="2.9"/><circle cx="40.9" cy="438.5" r="2.9"/><circle cx="40.9" cy="434.3" r="2.9"/><circle cx="40.9" cy="394.9" r="2.9"/><circle cx="40.9" cy="390.3" r="2.9"/><circle cx="40.9" cy="438.9" r="2.9"/><circle cx="40.9" cy="438.5" r="2.9"/><circle cx="40.9" cy="396.9" r="2.9"/><circle cx="40.9" cy="404.3" r="2.9"/><circle cx="40.9" cy="413.1" r="2.9"/><circle cx="40.9" cy="409.9" r="2.9"/><circle cx="40.9" cy="400.7" r="2.9"/><circle cx="40.9" cy="398.1" r="2.9"/><circle cx="40.9" cy="440.1" r="2.9"/><circle cx="40.9" cy="436.6" r="2.9"/><circle cx="40.9" cy="398.8" r="2.9"/><circle cx="40.9" cy="389.4" r="2.9"/><circle cx="40.9" cy="396.8" r="2.9"/><circle cx="40.9" cy="418.9" r="2.9"/><circle cx="40.9" cy="422.7" r="2.9"/><circle cx="40.9" cy="422.1" r="2.9"/><circle cx="40.9" cy="439.3" r="2.9"/><circle cx="40.9" cy="400.0" r="2.9"/><circle cx="40.9" cy="426.5" r="2.9"/><circle cx="40.9" cy="409.6" r="2.9"/><circle cx="40.9" cy="412.7" r="2.9"/><circle cx="40.9" cy="422.7" r="2.9"/><circle cx="40.9" cy="405.0" r="2.9"/><circle cx="40.9" cy="416.5" r="2.9"/><circle cx="40.9" cy="427.9" r="2.9"/><circle cx="40.9" cy="394.2" r="2.9"/><circle cx="40.9" cy="431.0" r="2.9"/><circle cx="40.9" cy="432.3" r="2.9"/><circle cx="40.9" cy="426.9" r="2.9"/><circle cx="40.9" cy="415.2" r="2.9"/><circle cx="40.9" cy="399.3" r="2.9"/><circle cx="40.9" cy="422.8" r="2.9"/><circle cx="40.9" cy="427.7" r="2.9"/><circle cx="40.9" cy="406.1" r="2.9"/><circle cx="40.9" cy="426.6" r="2.9"/><circle cx="40.9" cy="412.9" r="2.9"/><circle cx="40.9" cy="426.9" r="2.9"/><circle cx="40.9" cy="394.5" r="2.9"/><circle cx="40.9" cy="430.5" r="2.9"/><circle cx="40.9" cy="428.0" r="2.9"/><circle cx="40.9" cy="424.4" r="2.9"/><circle cx="63.8" cy="429.9" r="2.9"/><circle cx="106.9" cy="484.6" r="2.9"/><circle cx="44.3" cy="405.5" r="2.9"/><circle cx="46.1" cy="425.1" r="2.9"/><circle cx="53.3" cy="429.4" r="2.9"/><circle cx="45.6" cy="423.7" r="2.9"/><circle cx="123.1" cy="496.3" r="2.9"/><circle cx="114.5" cy="488.6" r="2.9"/><circle cx="67.0" cy="442.7" r="2.9"/><circle cx="48.5" cy="419.6" r="2.9"/><circle cx="89.2" cy="471.1" r="2.9"/><circle cx="57.5" cy="438.4" r="2.9"/><circle cx="42.4" cy="397.6" r="2.9"/><circle cx="134.5" cy="491.2" r="2.9"/><circle cx="100.2" cy="466.5" r="2.9"/><circle cx="82.0" cy="441.9" r="2.9"/><circle cx="43.2" cy="433.9" r="2.9"/><circle cx="103.6" cy="477.2" r="2.9"/><circle cx="90.8" cy="459.7" r="2.9"/><circle cx="42.3" cy="414.4" r="2.9"/><circle cx="67.5" cy="427.5" r="2.9"/><circle cx="44.1" cy="436.5" r="2.9"/><circle cx="94.5" cy="477.3" r="2.9"/><circle cx="69.1" cy="454.0" r="2.9"/><circle cx="67.0" cy="428.6" r="2.9"/><circle cx="80.9" cy="444.2" r="2.9"/><circle cx="73.5" cy="433.1" r="2.9"/><circle cx="88.7" cy="459.7" r="2.9"/><circle cx="146.0" cy="508.7" r="2.9"/><circle cx="100.7" cy="463.9" r="2.9"/><circle cx="42.5" cy="403.1" r="2.9"/><circle cx="69.5" cy="430.3" r="2.9"/><circle cx="66.6" cy="460.9" r="2.9"/><circle cx="108.7" cy="484.3" r="2.9"/><circle cx="60.3" cy="440.9" r="2.9"/><circle cx="72.8" cy="440.0" r="2.9"/><circle cx="52.0" cy="435.8" r="2.9"/><circle cx="93.7" cy="455.6" r="2.9"/><circle cx="59.5" cy="428.0" r="2.9"/><circle cx="92.8" cy="467.8" r="2.9"/><circle cx="74.7" cy="452.1" r="2.9"/><circle cx="100.1" cy="484.6" r="2.9"/><circle cx="103.7" cy="473.1" r="2.9"/><circle cx="41.3" cy="437.7" r="2.9"/><circle cx="96.6" cy="464.0" r="2.9"/><circle cx="93.8" cy="454.6" r="2.9"/><circle cx="64.0" cy="446.8" r="2.9"/><circle cx="69.1" cy="427.8" r="2.9"/><circle cx="53.5" cy="444.5" r="2.9"/><circle cx="81.1" cy="464.1" r="2.9"/><circle cx="92.1" cy="457.2" r="2.9"/><circle cx="88.2" cy="470.4" r="2.9"/><circle cx="150.4" cy="503.9" r="2.9"/><circle cx="47.2" cy="437.0" r="2.9"/><circle cx="42.1" cy="426.8" r="2.9"/><circle cx="49.4" cy="438.6" r="2.9"/><circle cx="131.4" cy="497.3" r="2.9"/><circle cx="100.0" cy="464.2" r="2.9"/><circle cx="50.3" cy="426.0" r="2.9"/><circle cx="44.5" cy="438.2" r="2.9"/><circle cx="89.7" cy="462.4" r="2.9"/><circle cx="99.2" cy="482.9" r="2.9"/><circle cx="56.2" cy="424.1" r="2.9"/><circle cx="75.8" cy="455.2" r="2.9"/><circle cx="77.1" cy="442.1" r="2.9"/><circle cx="135.8" cy="507.2" r="2.9"/><circle cx="53.1" cy="423.4" r="2.9"/><circle cx="87.7" cy="444.3" r="2.9"/><circle cx="40.9" cy="429.0" r="2.9"/><circle cx="96.4" cy="456.1" r="2.9"/><circle cx="99.4" cy="463.0" r="2.9"/><circle cx="137.3" cy="492.7" r="2.9"/><circle cx="85.4" cy="460.0" r="2.9"/><circle cx="112.2" cy="475.4" r="2.9"/><circle cx="85.1" cy="457.3" r="2.9"/><circle cx="50.9" cy="424.0" r="2.9"/><circle cx="74.6" cy="460.4" r="2.9"/><circle cx="143.4" cy="496.6" r="2.9"/><circle cx="80.5" cy="451.3" r="2.9"/><circle cx="66.2" cy="437.2" r="2.9"/><circle cx="54.0" cy="437.8" r="2.9"/><circle cx="48.8" cy="415.0" r="2.9"/><circle cx="138.1" cy="496.7" r="2.9"/><circle cx="52.2" cy="434.2" r="2.9"/><circle cx="125.2" cy="500.7" r="2.9"/><circle cx="105.7" cy="475.9" r="2.9"/><circle cx="85.8" cy="456.4" r="2.9"/><circle cx="51.6" cy="441.5" r="2.9"/><circle cx="95.3" cy="461.2" r="2.9"/><circle cx="64.0" cy="442.4" r="2.9"/><circle cx="104.1" cy="473.6" r="2.9"/><circle cx="89.7" cy="455.0" r="2.9"/><circle cx="78.0" cy="439.9" r="2.9"/><circle cx="94.7" cy="461.2" r="2.9"/><circle cx="101.4" cy="486.4" r="2.9"/><circle cx="42.5" cy="411.7" r="2.9"/><circle cx="47.0" cy="412.7" r="2.9"/><circle cx="127.9" cy="491.0" r="2.9"/><circle cx="71.9" cy="433.0" r="2.9"/><circle cx="102.2" cy="466.4" r="2.9"/><circle cx="72.9" cy="428.6" r="2.9"/><circle cx="89.4" cy="471.6" r="2.9"/><circle cx="145.2" cy="506.8" r="2.9"/><circle cx="58.3" cy="440.0" r="2.9"/><circle cx="63.8" cy="424.0" r="2.9"/><circle cx="132.7" cy="500.7" r="2.9"/><circle cx="63.5" cy="454.2" r="2.9"/><circle cx="119.7" cy="496.2" r="2.9"/><circle cx="120.8" cy="476.5" r="2.9"/><circle cx="60.5" cy="439.4" r="2.9"/><circle cx="126.2" cy="502.2" r="2.9"/><circle cx="98.1" cy="470.5" r="2.9"/><circle cx="103.5" cy="467.6" r="2.9"/><circle cx="63.6" cy="450.4" r="2.9"/><circle cx="93.3" cy="455.4" r="2.9"/><circle cx="46.7" cy="439.3" r="2.9"/><circle cx="101.7" cy="481.4" r="2.9"/><circle cx="58.1" cy="423.1" r="2.9"/><circle cx="127.2" cy="505.7" r="2.9"/><circle cx="68.8" cy="454.1" r="2.9"/><circle cx="94.2" cy="478.2" r="2.9"/><circle cx="147.3" cy="505.5" r="2.9"/><circle cx="40.9" cy="403.6" r="2.9"/><circle cx="77.0" cy="457.2" r="2.9"/><circle cx="81.1" cy="466.7" r="2.9"/><circle cx="62.4" cy="424.0" r="2.9"/><circle cx="76.4" cy="456.7" r="2.9"/><circle cx="106.7" cy="484.2" r="2.9"/><circle cx="49.8" cy="427.4" r="2.9"/><circle cx="61.8" cy="438.1" r="2.9"/><circle cx="55.5" cy="434.2" r="2.9"/><circle cx="41.5" cy="435.9" r="2.9"/><circle cx="56.7" cy="439.6" r="2.9"/><circle cx="40.9" cy="418.2" r="2.9"/><circle cx="55.1" cy="439.4" r="2.9"/><circle cx="41.0" cy="410.1" r="2.9"/><circle cx="82.8" cy="442.8" r="2.9"/><circle cx="119.7" cy="484.6" r="2.9"/><circle cx="50.7" cy="431.1" r="2.9"/><circle cx="94.1" cy="461.2" r="2.9"/><circle cx="121.5" cy="477.7" r="2.9"/><circle cx="44.9" cy="436.2" r="2.9"/><circle cx="54.2" cy="437.7" r="2.9"/><circle cx="104.7" cy="486.3" r="2.9"/><circle cx="72.5" cy="446.4" r="2.9"/><circle cx="140.5" cy="504.8" r="2.9"/><circle cx="46.5" cy="423.7" r="2.9"/><circle cx="62.6" cy="433.6" r="2.9"/><circle cx="114.8" cy="484.9" r="2.9"/><circle cx="105.0" cy="476.0" r="2.9"/><circle cx="43.4" cy="406.9" r="2.9"/><circle cx="53.3" cy="420.0" r="2.9"/><circle cx="45.3" cy="429.6" r="2.9"/><circle cx="56.6" cy="422.1" r="2.9"/><circle cx="140.6" cy="503.2" r="2.9"/><circle cx="55.1" cy="437.6" r="2.9"/><circle cx="80.3" cy="440.6" r="2.9"/><circle cx="104.9" cy="486.8" r="2.9"/><circle cx="46.3" cy="409.5" r="2.9"/><circle cx="49.9" cy="437.1" r="2.9"/><circle cx="89.1" cy="465.3" r="2.9"/><circle cx="104.6" cy="466.8" r="2.9"/><circle cx="85.0" cy="448.7" r="2.9"/><circle cx="76.7" cy="444.5" r="2.9"/><circle cx="91.0" cy="443.9" r="2.9"/><circle cx="122.4" cy="483.4" r="2.9"/><circle cx="84.2" cy="453.2" r="2.9"/><circle cx="101.2" cy="475.3" r="2.9"/><circle cx="66.4" cy="445.0" r="2.9"/><circle cx="111.7" cy="476.2" r="2.9"/><circle cx="70.2" cy="458.9" r="2.9"/><circle cx="41.9" cy="396.4" r="2.9"/><circle cx="72.1" cy="439.9" r="2.9"/><circle cx="64.7" cy="436.9" r="2.9"/><circle cx="69.4" cy="458.5" r="2.9"/><circle cx="77.9" cy="445.0" r="2.9"/><circle cx="73.8" cy="429.8" r="2.9"/><circle cx="81.3" cy="457.0" r="2.9"/><circle cx="63.6" cy="444.5" r="2.9"/><circle cx="91.6" cy="478.2" r="2.9"/><circle cx="104.2" cy="483.0" r="2.9"/><circle cx="85.5" cy="460.2" r="2.9"/><circle cx="63.2" cy="454.0" r="2.9"/><circle cx="88.2" cy="462.7" r="2.9"/><circle cx="91.6" cy="448.1" r="2.9"/><circle cx="56.5" cy="433.0" r="2.9"/><circle cx="50.1" cy="439.9" r="2.9"/><circle cx="99.4" cy="466.1" r="2.9"/><circle cx="62.1" cy="451.8" r="2.9"/><circle cx="126.7" cy="499.8" r="2.9"/><circle cx="96.0" cy="456.2" r="2.9"/><circle cx="73.9" cy="446.2" r="2.9"/><circle cx="139.6" cy="498.3" r="2.9"/><circle cx="46.1" cy="413.0" r="2.9"/><circle cx="66.3" cy="456.5" r="2.9"/><circle cx="94.2" cy="472.8" r="2.9"/><circle cx="108.1" cy="480.3" r="2.9"/><circle cx="76.0" cy="459.1" r="2.9"/><circle cx="69.7" cy="453.2" r="2.9"/><circle cx="43.9" cy="402.0" r="2.9"/><circle cx="127.6" cy="502.7" r="2.9"/><circle cx="96.1" cy="482.7" r="2.9"/><circle cx="132.8" cy="502.6" r="2.9"/><circle cx="86.1" cy="447.9" r="2.9"/><circle cx="81.5" cy="455.6" r="2.9"/><circle cx="80.4" cy="443.1" r="2.9"/><circle cx="53.5" cy="447.0" r="2.9"/><circle cx="84.8" cy="444.9" r="2.9"/><circle cx="103.1" cy="473.1" r="2.9"/><circle cx="81.9" cy="459.3" r="2.9"/><circle cx="79.7" cy="457.2" r="2.9"/><circle cx="90.6" cy="460.7" r="2.9"/><circle cx="60.0" cy="430.0" r="2.9"/><circle cx="97.6" cy="465.3" r="2.9"/><circle cx="54.3" cy="442.6" r="2.9"/><circle cx="120.9" cy="489.2" r="2.9"/><circle cx="85.7" cy="444.6" r="2.9"/><circle cx="100.5" cy="480.1" r="2.9"/><circle cx="58.0" cy="426.2" r="2.9"/><circle cx="86.4" cy="461.2" r="2.9"/><circle cx="57.9" cy="452.6" r="2.9"/><circle cx="46.6" cy="430.4" r="2.9"/><circle cx="121.5" cy="488.9" r="2.9"/><circle cx="67.6" cy="447.9" r="2.9"/><circle cx="92.5" cy="458.9" r="2.9"/><circle cx="150.1" cy="503.5" r="2.9"/><circle cx="76.3" cy="446.1" r="2.9"/><circle cx="55.7" cy="422.9" r="2.9"/><circle cx="75.1" cy="450.0" r="2.9"/><circle cx="59.2" cy="437.0" r="2.9"/><circle cx="135.9" cy="506.5" r="2.9"/><circle cx="43.2" cy="408.4" r="2.9"/><circle cx="59.1" cy="432.9" r="2.9"/><circle cx="81.4" cy="457.3" r="2.9"/><circle cx="112.8" cy="477.8" r="2.9"/><circle cx="151.1" cy="504.7" r="2.9"/><circle cx="87.3" cy="466.8" r="2.9"/><circle cx="70.0" cy="439.5" r="2.9"/><circle cx="41.4" cy="401.4" r="2.9"/><circle cx="141.6" cy="504.5" r="2.9"/><circle cx="46.5" cy="416.2" r="2.9"/><circle cx="64.7" cy="450.0" r="2.9"/><circle cx="142.5" cy="496.4" r="2.9"/><circle cx="85.5" cy="466.2" r="2.9"/><circle cx="101.8" cy="487.1" r="2.9"/><circle cx="138.5" cy="502.4" r="2.9"/><circle cx="107.3" cy="484.2" r="2.9"/><circle cx="54.9" cy="427.5" r="2.9"/><circle cx="118.8" cy="485.3" r="2.9"/><circle cx="44.5" cy="405.7" r="2.9"/><circle cx="61.7" cy="451.1" r="2.9"/><circle cx="50.3" cy="439.0" r="2.9"/><circle cx="130.0" cy="502.2" r="2.9"/><circle cx="42.5" cy="415.9" r="2.9"/><circle cx="44.8" cy="422.1" r="2.9"/><circle cx="134.5" cy="498.7" r="2.9"/><circle cx="93.1" cy="467.5" r="2.9"/><circle cx="144.9" cy="503.4" r="2.9"/><circle cx="45.3" cy="434.0" r="2.9"/><circle cx="132.8" cy="492.9" r="2.9"/><circle cx="64.0" cy="455.6" r="2.9"/><circle cx="78.8" cy="443.1" r="2.9"/><circle cx="71.4" cy="440.5" r="2.9"/><circle cx="144.0" cy="499.8" r="2.9"/><circle cx="106.9" cy="473.1" r="2.9"/><circle cx="49.6" cy="437.2" r="2.9"/><circle cx="123.6" cy="495.6" r="2.9"/><circle cx="48.2" cy="432.4" r="2.9"/><circle cx="106.2" cy="487.7" r="2.9"/><circle cx="71.4" cy="461.7" r="2.9"/><circle cx="121.0" cy="480.4" r="2.9"/><circle cx="124.1" cy="482.2" r="2.9"/><circle cx="52.7" cy="428.5" r="2.9"/><circle cx="132.8" cy="494.8" r="2.9"/><circle cx="96.1" cy="473.2" r="2.9"/><circle cx="124.2" cy="503.4" r="2.9"/><circle cx="44.5" cy="405.0" r="2.9"/><circle cx="73.5" cy="442.4" r="2.9"/><circle cx="68.0" cy="451.0" r="2.9"/><circle cx="42.6" cy="408.5" r="2.9"/><circle cx="72.5" cy="444.1" r="2.9"/><circle cx="83.0" cy="468.2" r="2.9"/><circle cx="118.0" cy="498.5" r="2.9"/><circle cx="84.3" cy="443.5" r="2.9"/><circle cx="55.2" cy="446.1" r="2.9"/><circle cx="145.8" cy="498.5" r="2.9"/><circle cx="53.3" cy="435.8" r="2.9"/><circle cx="110.7" cy="478.6" r="2.9"/><circle cx="50.0" cy="435.3" r="2.9"/><circle cx="74.6" cy="440.0" r="2.9"/><circle cx="83.0" cy="452.8" r="2.9"/><circle cx="69.4" cy="430.6" r="2.9"/><circle cx="41.6" cy="396.9" r="2.9"/><circle cx="137.3" cy="508.7" r="2.9"/><circle cx="43.9" cy="432.9" r="2.9"/><circle cx="54.7" cy="426.7" r="2.9"/><circle cx="63.2" cy="431.9" r="2.9"/><circle cx="50.1" cy="432.9" r="2.9"/><circle cx="121.5" cy="497.1" r="2.9"/><circle cx="40.9" cy="422.3" r="2.9"/>
</g>
<clipPath id="cp21"><rect x="194.5" y="380.5" width="143.5" height="133.20000000000005"/></clipPath>
<g clip-path="url(#cp21)">
<polygon points="314.0,438.3 313.0,429.9 297.8,418.8 281.6,409.5 265.5,401.1 255.7,397.4 249.3,397.4 248.2,400.2 253.6,403.9 264.4,411.3 275.2,419.7 287.0,428.0 298.9,435.5 307.6,439.2" fill="#DF536B" stroke="none"/>
<polygon points="296.8,466.1 305.4,458.7 309.7,447.6 305.4,436.4 287.0,428.0 275.2,419.7 267.6,423.4 267.6,460.6 275.2,467.1" fill="#DF536B" stroke="none"/>
<circle cx="333.2" cy="460.1" r="2.9"/><circle cx="327.6" cy="448.6" r="2.9"/><circle cx="323.9" cy="456.3" r="2.9"/><circle cx="317.2" cy="461.4" r="2.9"/><circle cx="311.9" cy="467.2" r="2.9"/><circle cx="309.7" cy="476.8" r="2.9"/><circle cx="309.7" cy="481.3" r="2.9"/><circle cx="307.4" cy="483.9" r="2.9"/><circle cx="304.4" cy="487.8" r="2.9"/><circle cx="297.7" cy="489.7" r="2.9"/><circle cx="293.2" cy="485.8" r="2.9"/><circle cx="285.7" cy="486.5" r="2.9"/><circle cx="292.4" cy="504.4" r="2.9"/><circle cx="292.4" cy="500.6" r="2.9"/><circle cx="292.4" cy="497.4" r="2.9"/><circle cx="284.2" cy="508.7" r="2.9"/><circle cx="272.4" cy="508.7" r="2.9"/><circle cx="275.3" cy="505.7" r="2.9"/><circle cx="275.2" cy="501.5" r="2.9"/><circle cx="274.1" cy="496.8" r="2.9"/><circle cx="222.1" cy="433.8" r="2.9"/><circle cx="236.6" cy="443.4" r="2.9"/><circle cx="239.7" cy="437.6" r="2.9"/><circle cx="238.9" cy="425.1" r="2.9"/><circle cx="250.9" cy="442.2" r="2.9"/><circle cx="250.9" cy="437.0" r="2.9"/><circle cx="246.3" cy="446.0" r="2.9"/><circle cx="245.6" cy="428.6" r="2.9"/><circle cx="248.6" cy="423.5" r="2.9"/><circle cx="250.1" cy="416.4" r="2.9"/><circle cx="257.6" cy="429.9" r="2.9"/><circle cx="254.5" cy="426.1" r="2.9"/><circle cx="257.6" cy="422.2" r="2.9"/><circle cx="256.1" cy="415.8" r="2.9"/><circle cx="244.8" cy="407.4" r="2.9"/><circle cx="239.7" cy="403.6" r="2.9"/><circle cx="241.2" cy="399.1" r="2.9"/><circle cx="239.7" cy="395.9" r="2.9"/><circle cx="244.2" cy="395.2" r="2.9"/><circle cx="244.2" cy="391.3" r="2.9"/><circle cx="258.3" cy="393.9" r="2.9"/><circle cx="249.8" cy="385.9" r="2.9"/><circle cx="234.5" cy="391.6" r="2.9"/><circle cx="235.2" cy="385.9" r="2.9"/><circle cx="228.4" cy="386.9" r="2.9"/><circle cx="226.9" cy="384.6" r="2.9"/><circle cx="221.7" cy="508.7" r="2.9"/><circle cx="216.6" cy="508.7" r="2.9"/><circle cx="209.0" cy="508.7" r="2.9"/><circle cx="199.4" cy="508.7" r="2.9"/><circle cx="218.0" cy="504.4" r="2.9"/><circle cx="226.3" cy="502.6" r="2.9"/><circle cx="229.2" cy="497.4" r="2.9"/><circle cx="221.7" cy="497.4" r="2.9"/><circle cx="220.5" cy="492.5" r="2.9"/><circle cx="238.1" cy="494.9" r="2.9"/><circle cx="234.5" cy="494.9" r="2.9"/><circle cx="229.9" cy="494.9" r="2.9"/><circle cx="243.4" cy="497.4" r="2.9"/><circle cx="248.6" cy="496.2" r="2.9"/><circle cx="244.8" cy="505.7" r="2.9"/><circle cx="256.1" cy="501.3" r="2.9"/><circle cx="259.1" cy="497.4" r="2.9"/><circle cx="254.5" cy="493.6" r="2.9"/><circle cx="257.6" cy="490.3" r="2.9"/><circle cx="241.2" cy="484.8" r="2.9"/><circle cx="246.3" cy="478.1" r="2.9"/><circle cx="246.3" cy="474.2" r="2.9"/><circle cx="252.4" cy="483.2" r="2.9"/><circle cx="256.1" cy="480.7" r="2.9"/><circle cx="259.8" cy="478.1" r="2.9"/><circle cx="257.6" cy="481.9" r="2.9"/><circle cx="233.7" cy="472.4" r="2.9"/><circle cx="233.7" cy="469.1" r="2.9"/><circle cx="226.9" cy="465.7" r="2.9"/><circle cx="219.5" cy="465.7" r="2.9"/><circle cx="250.9" cy="466.5" r="2.9"/><circle cx="251.6" cy="460.8" r="2.9"/><circle cx="245.6" cy="461.4" r="2.9"/><circle cx="241.9" cy="458.2" r="2.9"/><circle cx="235.2" cy="458.8" r="2.9"/><circle cx="249.4" cy="453.0" r="2.9"/><circle cx="235.9" cy="452.4" r="2.9"/><circle cx="245.6" cy="447.9" r="2.9"/><circle cx="244.1" cy="508.7" r="2.9"/><circle cx="260.9" cy="508.7" r="2.9"/><circle cx="246.8" cy="508.7" r="2.9"/><circle cx="256.6" cy="508.7" r="2.9"/><circle cx="250.0" cy="508.7" r="2.9"/><circle cx="235.0" cy="508.7" r="2.9"/><circle cx="236.6" cy="508.7" r="2.9"/><circle cx="257.8" cy="508.7" r="2.9"/><circle cx="262.7" cy="508.7" r="2.9"/><circle cx="245.7" cy="508.7" r="2.9"/><circle cx="248.2" cy="508.7" r="2.9"/><circle cx="277.8" cy="508.7" r="2.9"/><circle cx="256.3" cy="508.7" r="2.9"/><circle cx="268.2" cy="508.7" r="2.9"/><circle cx="249.1" cy="508.7" r="2.9"/><circle cx="274.1" cy="508.7" r="2.9"/><circle cx="267.3" cy="508.7" r="2.9"/><circle cx="269.7" cy="508.7" r="2.9"/><circle cx="268.2" cy="508.7" r="2.9"/><circle cx="253.4" cy="508.7" r="2.9"/><circle cx="238.0" cy="508.7" r="2.9"/><circle cx="249.5" cy="508.7" r="2.9"/><circle cx="249.2" cy="508.7" r="2.9"/><circle cx="243.3" cy="508.7" r="2.9"/><circle cx="262.5" cy="508.7" r="2.9"/><circle cx="260.5" cy="508.7" r="2.9"/><circle cx="249.0" cy="508.7" r="2.9"/><circle cx="272.0" cy="508.7" r="2.9"/><circle cx="243.7" cy="508.7" r="2.9"/><circle cx="235.0" cy="508.7" r="2.9"/><circle cx="237.1" cy="508.7" r="2.9"/><circle cx="279.3" cy="508.7" r="2.9"/><circle cx="235.3" cy="508.7" r="2.9"/><circle cx="271.1" cy="508.7" r="2.9"/><circle cx="276.0" cy="508.7" r="2.9"/><circle cx="250.7" cy="508.7" r="2.9"/><circle cx="264.8" cy="508.7" r="2.9"/><circle cx="273.4" cy="508.7" r="2.9"/><circle cx="251.2" cy="508.7" r="2.9"/><circle cx="254.9" cy="508.7" r="2.9"/><circle cx="254.9" cy="508.7" r="2.9"/><circle cx="256.2" cy="508.7" r="2.9"/><circle cx="250.8" cy="508.7" r="2.9"/><circle cx="242.4" cy="508.7" r="2.9"/><circle cx="245.4" cy="508.7" r="2.9"/><circle cx="246.1" cy="508.7" r="2.9"/><circle cx="239.8" cy="508.7" r="2.9"/><circle cx="258.4" cy="508.7" r="2.9"/><circle cx="249.6" cy="508.7" r="2.9"/><circle cx="276.9" cy="508.7" r="2.9"/><circle cx="278.5" cy="508.7" r="2.9"/><circle cx="259.3" cy="508.7" r="2.9"/><circle cx="247.4" cy="508.7" r="2.9"/><circle cx="270.6" cy="508.7" r="2.9"/><circle cx="233.0" cy="508.7" r="2.9"/><circle cx="267.7" cy="508.7" r="2.9"/><circle cx="257.3" cy="508.7" r="2.9"/><circle cx="258.4" cy="508.7" r="2.9"/><circle cx="232.4" cy="508.7" r="2.9"/><circle cx="274.8" cy="508.7" r="2.9"/><circle cx="273.9" cy="453.7" r="2.9"/><circle cx="297.7" cy="445.0" r="2.9"/><circle cx="278.4" cy="438.6" r="2.9"/><circle cx="268.7" cy="465.2" r="2.9"/><circle cx="282.3" cy="468.4" r="2.9"/><circle cx="306.5" cy="471.3" r="2.9"/><circle cx="304.6" cy="470.5" r="2.9"/><circle cx="282.6" cy="444.9" r="2.9"/><circle cx="300.9" cy="443.4" r="2.9"/><circle cx="287.4" cy="436.1" r="2.9"/><circle cx="283.4" cy="459.1" r="2.9"/><circle cx="278.8" cy="428.0" r="2.9"/><circle cx="288.7" cy="415.1" r="2.9"/><circle cx="301.0" cy="464.3" r="2.9"/><circle cx="292.0" cy="440.6" r="2.9"/><circle cx="281.0" cy="449.7" r="2.9"/><circle cx="315.0" cy="439.5" r="2.9"/><circle cx="266.0" cy="430.7" r="2.9"/><circle cx="288.3" cy="464.6" r="2.9"/><circle cx="295.2" cy="420.9" r="2.9"/><circle cx="268.8" cy="442.9" r="2.9"/><circle cx="263.6" cy="405.8" r="2.9"/><circle cx="267.8" cy="440.9" r="2.9"/><circle cx="256.6" cy="402.5" r="2.9"/><circle cx="301.1" cy="434.1" r="2.9"/><circle cx="294.5" cy="433.7" r="2.9"/><circle cx="290.3" cy="430.1" r="2.9"/><circle cx="271.9" cy="413.6" r="2.9"/><circle cx="309.6" cy="451.6" r="2.9"/><circle cx="299.1" cy="454.8" r="2.9"/><circle cx="284.5" cy="440.0" r="2.9"/><circle cx="301.7" cy="452.9" r="2.9"/><circle cx="277.7" cy="426.7" r="2.9"/><circle cx="306.2" cy="465.1" r="2.9"/><circle cx="265.2" cy="415.3" r="2.9"/><circle cx="307.2" cy="460.7" r="2.9"/><circle cx="282.2" cy="428.5" r="2.9"/><circle cx="278.8" cy="419.1" r="2.9"/><circle cx="279.7" cy="456.9" r="2.9"/><circle cx="300.6" cy="447.5" r="2.9"/><circle cx="262.6" cy="453.4" r="2.9"/><circle cx="284.4" cy="430.1" r="2.9"/><circle cx="279.4" cy="441.5" r="2.9"/><circle cx="287.7" cy="414.6" r="2.9"/><circle cx="262.8" cy="403.8" r="2.9"/><circle cx="301.2" cy="433.4" r="2.9"/><circle cx="290.8" cy="432.5" r="2.9"/><circle cx="302.7" cy="426.3" r="2.9"/><circle cx="290.3" cy="430.5" r="2.9"/><circle cx="296.1" cy="431.4" r="2.9"/><circle cx="303.7" cy="437.4" r="2.9"/><circle cx="304.3" cy="438.4" r="2.9"/><circle cx="295.9" cy="467.5" r="2.9"/><circle cx="271.4" cy="471.4" r="2.9"/><circle cx="303.6" cy="448.5" r="2.9"/><circle cx="302.0" cy="430.2" r="2.9"/><circle cx="296.3" cy="422.8" r="2.9"/><circle cx="303.4" cy="433.4" r="2.9"/><circle cx="272.7" cy="430.9" r="2.9"/><circle cx="279.4" cy="428.6" r="2.9"/><circle cx="250.0" cy="405.3" r="2.9"/><circle cx="292.6" cy="441.3" r="2.9"/><circle cx="262.1" cy="431.7" r="2.9"/><circle cx="283.4" cy="425.8" r="2.9"/><circle cx="265.9" cy="457.0" r="2.9"/><circle cx="310.4" cy="431.7" r="2.9"/><circle cx="293.5" cy="472.5" r="2.9"/><circle cx="267.0" cy="403.5" r="2.9"/><circle cx="272.5" cy="452.7" r="2.9"/><circle cx="280.0" cy="413.3" r="2.9"/><circle cx="305.8" cy="464.4" r="2.9"/><circle cx="313.4" cy="441.3" r="2.9"/><circle cx="297.2" cy="422.2" r="2.9"/><circle cx="258.2" cy="408.1" r="2.9"/><circle cx="281.0" cy="459.5" r="2.9"/><circle cx="315.8" cy="438.4" r="2.9"/><circle cx="245.5" cy="398.5" r="2.9"/><circle cx="287.4" cy="421.2" r="2.9"/><circle cx="308.0" cy="436.2" r="2.9"/><circle cx="264.6" cy="425.9" r="2.9"/><circle cx="301.1" cy="430.1" r="2.9"/><circle cx="290.6" cy="421.8" r="2.9"/><circle cx="319.2" cy="443.4" r="2.9"/><circle cx="291.1" cy="472.2" r="2.9"/><circle cx="305.7" cy="445.3" r="2.9"/><circle cx="296.7" cy="425.3" r="2.9"/><circle cx="266.9" cy="419.9" r="2.9"/><circle cx="303.1" cy="432.8" r="2.9"/><circle cx="291.1" cy="453.7" r="2.9"/><circle cx="266.8" cy="445.9" r="2.9"/><circle cx="294.7" cy="422.0" r="2.9"/><circle cx="266.8" cy="406.5" r="2.9"/><circle cx="287.0" cy="417.5" r="2.9"/><circle cx="265.2" cy="441.3" r="2.9"/><circle cx="284.7" cy="418.6" r="2.9"/><circle cx="283.0" cy="464.1" r="2.9"/><circle cx="296.1" cy="445.8" r="2.9"/><circle cx="278.9" cy="418.4" r="2.9"/><circle cx="313.1" cy="450.8" r="2.9"/><circle cx="269.5" cy="418.6" r="2.9"/><circle cx="283.0" cy="472.0" r="2.9"/><circle cx="287.1" cy="468.5" r="2.9"/><circle cx="287.6" cy="430.0" r="2.9"/><circle cx="310.4" cy="450.8" r="2.9"/><circle cx="295.7" cy="447.5" r="2.9"/><circle cx="251.4" cy="403.9" r="2.9"/><circle cx="255.6" cy="398.4" r="2.9"/><circle cx="271.9" cy="470.7" r="2.9"/><circle cx="271.1" cy="459.3" r="2.9"/><circle cx="300.5" cy="451.3" r="2.9"/><circle cx="262.6" cy="412.4" r="2.9"/><circle cx="295.3" cy="456.9" r="2.9"/><circle cx="309.0" cy="448.3" r="2.9"/><circle cx="315.0" cy="431.1" r="2.9"/><circle cx="302.0" cy="448.8" r="2.9"/><circle cx="273.7" cy="458.7" r="2.9"/><circle cx="266.5" cy="412.8" r="2.9"/><circle cx="266.6" cy="433.5" r="2.9"/><circle cx="260.2" cy="415.1" r="2.9"/><circle cx="283.6" cy="448.5" r="2.9"/><circle cx="280.8" cy="429.3" r="2.9"/><circle cx="256.4" cy="407.0" r="2.9"/><circle cx="268.0" cy="459.2" r="2.9"/><circle cx="292.7" cy="432.0" r="2.9"/><circle cx="298.9" cy="448.2" r="2.9"/><circle cx="295.1" cy="466.7" r="2.9"/><circle cx="292.0" cy="444.6" r="2.9"/><circle cx="289.0" cy="455.2" r="2.9"/><circle cx="286.1" cy="444.9" r="2.9"/><circle cx="264.8" cy="459.6" r="2.9"/><circle cx="259.1" cy="397.8" r="2.9"/><circle cx="283.1" cy="431.1" r="2.9"/><circle cx="288.8" cy="467.5" r="2.9"/><circle cx="270.5" cy="409.1" r="2.9"/><circle cx="283.3" cy="469.9" r="2.9"/><circle cx="301.3" cy="459.6" r="2.9"/><circle cx="275.4" cy="455.3" r="2.9"/><circle cx="311.5" cy="463.5" r="2.9"/><circle cx="313.6" cy="450.2" r="2.9"/><circle cx="261.5" cy="435.7" r="2.9"/><circle cx="284.8" cy="459.3" r="2.9"/><circle cx="286.1" cy="470.3" r="2.9"/><circle cx="273.9" cy="449.7" r="2.9"/><circle cx="285.1" cy="433.9" r="2.9"/><circle cx="267.6" cy="423.3" r="2.9"/><circle cx="259.4" cy="397.6" r="2.9"/><circle cx="309.7" cy="458.2" r="2.9"/><circle cx="303.6" cy="463.0" r="2.9"/><circle cx="269.8" cy="429.2" r="2.9"/><circle cx="262.1" cy="454.2" r="2.9"/><circle cx="291.9" cy="461.5" r="2.9"/><circle cx="278.1" cy="464.6" r="2.9"/><circle cx="296.3" cy="459.7" r="2.9"/><circle cx="317.2" cy="452.8" r="2.9"/><circle cx="314.2" cy="459.6" r="2.9"/><circle cx="272.4" cy="415.1" r="2.9"/><circle cx="300.1" cy="450.5" r="2.9"/><circle cx="281.0" cy="451.8" r="2.9"/><circle cx="274.5" cy="461.5" r="2.9"/><circle cx="271.3" cy="451.5" r="2.9"/><circle cx="274.1" cy="445.4" r="2.9"/><circle cx="310.4" cy="428.2" r="2.9"/><circle cx="270.0" cy="471.3" r="2.9"/><circle cx="273.5" cy="407.6" r="2.9"/><circle cx="256.4" cy="408.0" r="2.9"/><circle cx="308.8" cy="447.9" r="2.9"/><circle cx="284.9" cy="457.0" r="2.9"/><circle cx="269.9" cy="457.0" r="2.9"/><circle cx="285.2" cy="429.3" r="2.9"/><circle cx="279.8" cy="413.5" r="2.9"/><circle cx="311.7" cy="438.0" r="2.9"/><circle cx="274.3" cy="410.4" r="2.9"/><circle cx="265.1" cy="436.9" r="2.9"/><circle cx="296.4" cy="460.7" r="2.9"/><circle cx="266.9" cy="422.6" r="2.9"/><circle cx="262.6" cy="452.2" r="2.9"/><circle cx="272.2" cy="428.9" r="2.9"/><circle cx="322.1" cy="453.9" r="2.9"/><circle cx="282.8" cy="459.2" r="2.9"/><circle cx="312.1" cy="452.4" r="2.9"/><circle cx="312.5" cy="440.4" r="2.9"/><circle cx="285.8" cy="453.1" r="2.9"/><circle cx="287.3" cy="459.8" r="2.9"/><circle cx="311.5" cy="432.4" r="2.9"/><circle cx="279.6" cy="421.4" r="2.9"/><circle cx="247.6" cy="397.5" r="2.9"/><circle cx="303.6" cy="432.3" r="2.9"/><circle cx="319.7" cy="451.6" r="2.9"/><circle cx="272.0" cy="419.0" r="2.9"/><circle cx="307.0" cy="451.9" r="2.9"/><circle cx="316.7" cy="433.4" r="2.9"/><circle cx="261.8" cy="457.0" r="2.9"/><circle cx="309.1" cy="464.8" r="2.9"/><circle cx="291.8" cy="460.6" r="2.9"/><circle cx="299.5" cy="448.3" r="2.9"/><circle cx="298.9" cy="449.9" r="2.9"/><circle cx="312.6" cy="449.9" r="2.9"/><circle cx="269.2" cy="448.6" r="2.9"/><circle cx="307.1" cy="445.7" r="2.9"/><circle cx="303.7" cy="450.0" r="2.9"/><circle cx="263.3" cy="407.5" r="2.9"/><circle cx="302.3" cy="472.2" r="2.9"/><circle cx="311.1" cy="456.8" r="2.9"/><circle cx="271.1" cy="464.5" r="2.9"/><circle cx="274.5" cy="430.7" r="2.9"/><circle cx="274.8" cy="469.0" r="2.9"/><circle cx="272.7" cy="412.4" r="2.9"/><circle cx="267.2" cy="408.1" r="2.9"/><circle cx="277.1" cy="470.2" r="2.9"/><circle cx="296.2" cy="460.8" r="2.9"/><circle cx="303.8" cy="446.0" r="2.9"/><circle cx="284.9" cy="437.1" r="2.9"/><circle cx="261.6" cy="448.7" r="2.9"/><circle cx="274.3" cy="413.1" r="2.9"/><circle cx="271.2" cy="454.7" r="2.9"/><circle cx="309.1" cy="462.8" r="2.9"/><circle cx="269.0" cy="468.6" r="2.9"/><circle cx="268.6" cy="445.3" r="2.9"/><circle cx="273.5" cy="460.6" r="2.9"/><circle cx="289.9" cy="452.0" r="2.9"/><circle cx="261.7" cy="458.5" r="2.9"/><circle cx="267.9" cy="456.2" r="2.9"/><circle cx="295.7" cy="434.4" r="2.9"/><circle cx="280.1" cy="442.0" r="2.9"/><circle cx="266.8" cy="421.8" r="2.9"/><circle cx="294.7" cy="442.7" r="2.9"/><circle cx="274.5" cy="459.6" r="2.9"/><circle cx="261.4" cy="447.5" r="2.9"/><circle cx="308.6" cy="465.7" r="2.9"/><circle cx="280.6" cy="437.7" r="2.9"/><circle cx="257.2" cy="407.1" r="2.9"/><circle cx="287.3" cy="437.3" r="2.9"/><circle cx="306.3" cy="461.6" r="2.9"/><circle cx="302.9" cy="458.9" r="2.9"/><circle cx="304.7" cy="430.6" r="2.9"/><circle cx="316.8" cy="452.3" r="2.9"/><circle cx="288.8" cy="438.9" r="2.9"/><circle cx="302.2" cy="470.1" r="2.9"/><circle cx="288.5" cy="435.2" r="2.9"/><circle cx="279.1" cy="417.9" r="2.9"/><circle cx="303.4" cy="450.4" r="2.9"/><circle cx="291.5" cy="435.5" r="2.9"/><circle cx="309.7" cy="426.7" r="2.9"/><circle cx="285.3" cy="425.3" r="2.9"/><circle cx="300.8" cy="452.8" r="2.9"/><circle cx="306.0" cy="470.0" r="2.9"/><circle cx="285.7" cy="416.0" r="2.9"/><circle cx="296.8" cy="452.6" r="2.9"/><circle cx="300.6" cy="433.4" r="2.9"/><circle cx="282.4" cy="435.8" r="2.9"/><circle cx="254.3" cy="401.6" r="2.9"/><circle cx="294.8" cy="464.2" r="2.9"/><circle cx="281.2" cy="418.5" r="2.9"/><circle cx="290.7" cy="431.0" r="2.9"/><circle cx="255.8" cy="402.4" r="2.9"/><circle cx="295.7" cy="441.9" r="2.9"/><circle cx="271.4" cy="448.5" r="2.9"/><circle cx="275.0" cy="421.0" r="2.9"/><circle cx="270.8" cy="432.4" r="2.9"/><circle cx="266.0" cy="418.8" r="2.9"/><circle cx="246.4" cy="400.4" r="2.9"/><circle cx="310.5" cy="458.0" r="2.9"/><circle cx="282.1" cy="456.4" r="2.9"/><circle cx="257.8" cy="399.9" r="2.9"/><circle cx="324.7" cy="449.6" r="2.9"/><circle cx="249.5" cy="405.1" r="2.9"/><circle cx="271.7" cy="442.0" r="2.9"/><circle cx="283.7" cy="459.4" r="2.9"/><circle cx="307.9" cy="431.0" r="2.9"/><circle cx="306.4" cy="462.0" r="2.9"/><circle cx="287.2" cy="449.6" r="2.9"/><circle cx="265.1" cy="455.5" r="2.9"/><circle cx="291.9" cy="450.0" r="2.9"/><circle cx="305.7" cy="430.0" r="2.9"/><circle cx="279.6" cy="435.5" r="2.9"/><circle cx="265.0" cy="421.8" r="2.9"/><circle cx="246.3" cy="400.8" r="2.9"/><circle cx="315.3" cy="453.4" r="2.9"/><circle cx="306.8" cy="461.5" r="2.9"/><circle cx="261.4" cy="409.4" r="2.9"/><circle cx="280.8" cy="434.0" r="2.9"/><circle cx="277.4" cy="414.5" r="2.9"/><circle cx="288.2" cy="467.5" r="2.9"/><circle cx="287.3" cy="457.6" r="2.9"/><circle cx="278.2" cy="448.1" r="2.9"/><circle cx="285.0" cy="442.4" r="2.9"/><circle cx="272.7" cy="456.0" r="2.9"/><circle cx="283.4" cy="447.5" r="2.9"/><circle cx="279.6" cy="420.7" r="2.9"/><circle cx="291.9" cy="440.0" r="2.9"/><circle cx="290.8" cy="457.3" r="2.9"/><circle cx="302.4" cy="432.4" r="2.9"/><circle cx="277.4" cy="430.3" r="2.9"/><circle cx="269.1" cy="413.0" r="2.9"/><circle cx="268.1" cy="460.7" r="2.9"/><circle cx="259.2" cy="396.2" r="2.9"/><circle cx="302.6" cy="470.1" r="2.9"/><circle cx="269.6" cy="403.6" r="2.9"/><circle cx="281.4" cy="421.1" r="2.9"/><circle cx="281.1" cy="415.9" r="2.9"/><circle cx="274.3" cy="436.4" r="2.9"/><circle cx="279.8" cy="468.2" r="2.9"/><circle cx="266.9" cy="415.6" r="2.9"/><circle cx="276.9" cy="423.2" r="2.9"/><circle cx="289.8" cy="436.1" r="2.9"/><circle cx="298.2" cy="426.0" r="2.9"/><circle cx="281.1" cy="410.5" r="2.9"/><circle cx="283.6" cy="439.2" r="2.9"/><circle cx="267.7" cy="409.2" r="2.9"/><circle cx="263.9" cy="436.2" r="2.9"/><circle cx="286.1" cy="445.2" r="2.9"/><circle cx="315.2" cy="452.7" r="2.9"/><circle cx="302.1" cy="461.9" r="2.9"/><circle cx="306.2" cy="456.4" r="2.9"/><circle cx="252.7" cy="396.0" r="2.9"/><circle cx="301.2" cy="436.1" r="2.9"/><circle cx="311.6" cy="447.4" r="2.9"/><circle cx="289.4" cy="425.8" r="2.9"/><circle cx="262.6" cy="408.6" r="2.9"/><circle cx="300.1" cy="460.1" r="2.9"/><circle cx="289.7" cy="432.4" r="2.9"/><circle cx="310.3" cy="463.9" r="2.9"/><circle cx="282.5" cy="457.9" r="2.9"/><circle cx="294.4" cy="454.9" r="2.9"/><circle cx="271.0" cy="471.6" r="2.9"/><circle cx="302.2" cy="467.7" r="2.9"/><circle cx="268.8" cy="465.5" r="2.9"/><circle cx="280.4" cy="456.4" r="2.9"/><circle cx="279.5" cy="470.9" r="2.9"/><circle cx="301.6" cy="458.3" r="2.9"/><circle cx="286.1" cy="434.8" r="2.9"/><circle cx="312.1" cy="450.6" r="2.9"/><circle cx="302.4" cy="472.8" r="2.9"/><circle cx="304.7" cy="443.7" r="2.9"/><circle cx="291.8" cy="417.5" r="2.9"/><circle cx="277.5" cy="425.5" r="2.9"/><circle cx="268.9" cy="429.2" r="2.9"/><circle cx="287.3" cy="440.6" r="2.9"/><circle cx="249.8" cy="402.8" r="2.9"/><circle cx="265.5" cy="439.5" r="2.9"/><circle cx="279.8" cy="418.1" r="2.9"/><circle cx="308.4" cy="430.0" r="2.9"/><circle cx="305.0" cy="451.3" r="2.9"/><circle cx="309.2" cy="456.3" r="2.9"/><circle cx="270.8" cy="409.1" r="2.9"/><circle cx="317.1" cy="449.2" r="2.9"/><circle cx="264.7" cy="420.4" r="2.9"/><circle cx="267.3" cy="422.9" r="2.9"/><circle cx="294.5" cy="460.4" r="2.9"/><circle cx="245.8" cy="395.9" r="2.9"/><circle cx="256.7" cy="409.0" r="2.9"/><circle cx="259.2" cy="401.5" r="2.9"/><circle cx="252.2" cy="401.2" r="2.9"/><circle cx="261.2" cy="446.1" r="2.9"/><circle cx="268.8" cy="441.0" r="2.9"/><circle cx="306.2" cy="446.2" r="2.9"/><circle cx="275.7" cy="458.8" r="2.9"/><circle cx="276.3" cy="414.8" r="2.9"/><circle cx="282.7" cy="428.3" r="2.9"/><circle cx="271.6" cy="431.1" r="2.9"/><circle cx="248.4" cy="397.5" r="2.9"/><circle cx="270.5" cy="469.7" r="2.9"/><circle cx="274.7" cy="434.7" r="2.9"/><circle cx="277.2" cy="447.9" r="2.9"/><circle cx="309.0" cy="466.1" r="2.9"/><circle cx="272.6" cy="464.6" r="2.9"/><circle cx="249.1" cy="395.9" r="2.9"/><circle cx="267.4" cy="403.9" r="2.9"/><circle cx="282.2" cy="427.6" r="2.9"/><circle cx="262.6" cy="435.1" r="2.9"/><circle cx="281.5" cy="423.1" r="2.9"/><circle cx="277.0" cy="434.5" r="2.9"/><circle cx="294.8" cy="438.4" r="2.9"/><circle cx="272.8" cy="413.3" r="2.9"/><circle cx="249.9" cy="396.6" r="2.9"/><circle cx="285.1" cy="433.8" r="2.9"/><circle cx="276.6" cy="446.9" r="2.9"/><circle cx="294.4" cy="443.1" r="2.9"/><circle cx="269.1" cy="423.3" r="2.9"/><circle cx="288.9" cy="434.5" r="2.9"/><circle cx="246.4" cy="401.1" r="2.9"/><circle cx="285.1" cy="464.7" r="2.9"/><circle cx="269.2" cy="427.9" r="2.9"/><circle cx="281.7" cy="446.1" r="2.9"/><circle cx="313.4" cy="442.3" r="2.9"/><circle cx="281.5" cy="423.3" r="2.9"/><circle cx="257.3" cy="410.0" r="2.9"/><circle cx="299.5" cy="430.9" r="2.9"/><circle cx="295.4" cy="467.2" r="2.9"/><circle cx="289.2" cy="461.7" r="2.9"/><circle cx="258.7" cy="402.8" r="2.9"/><circle cx="287.6" cy="469.9" r="2.9"/><circle cx="276.5" cy="471.0" r="2.9"/><circle cx="303.1" cy="457.4" r="2.9"/><circle cx="301.0" cy="448.2" r="2.9"/><circle cx="319.2" cy="441.5" r="2.9"/><circle cx="320.7" cy="444.6" r="2.9"/><circle cx="295.5" cy="467.5" r="2.9"/><circle cx="250.6" cy="401.5" r="2.9"/><circle cx="278.3" cy="436.7" r="2.9"/><circle cx="302.4" cy="435.4" r="2.9"/><circle cx="305.3" cy="428.8" r="2.9"/><circle cx="304.9" cy="430.6" r="2.9"/><circle cx="271.8" cy="433.1" r="2.9"/><circle cx="310.5" cy="453.4" r="2.9"/><circle cx="264.3" cy="441.4" r="2.9"/><circle cx="288.2" cy="415.8" r="2.9"/><circle cx="305.0" cy="425.6" r="2.9"/><circle cx="267.6" cy="427.9" r="2.9"/><circle cx="263.5" cy="431.5" r="2.9"/><circle cx="261.5" cy="452.1" r="2.9"/><circle cx="283.6" cy="448.4" r="2.9"/><circle cx="292.8" cy="462.2" r="2.9"/><circle cx="281.4" cy="458.7" r="2.9"/><circle cx="269.5" cy="421.6" r="2.9"/><circle cx="266.8" cy="419.3" r="2.9"/><circle cx="302.9" cy="430.6" r="2.9"/><circle cx="274.8" cy="413.5" r="2.9"/><circle cx="280.9" cy="470.6" r="2.9"/><circle cx="282.4" cy="436.6" r="2.9"/><circle cx="289.8" cy="446.8" r="2.9"/><circle cx="300.4" cy="425.5" r="2.9"/><circle cx="255.5" cy="404.6" r="2.9"/><circle cx="264.3" cy="411.4" r="2.9"/><circle cx="279.3" cy="458.8" r="2.9"/><circle cx="318.5" cy="438.6" r="2.9"/><circle cx="268.6" cy="420.9" r="2.9"/><circle cx="275.6" cy="468.8" r="2.9"/><circle cx="315.1" cy="447.7" r="2.9"/><circle cx="301.1" cy="473.3" r="2.9"/><circle cx="285.2" cy="437.1" r="2.9"/><circle cx="266.6" cy="440.0" r="2.9"/><circle cx="283.8" cy="456.8" r="2.9"/><circle cx="246.2" cy="395.7" r="2.9"/><circle cx="273.9" cy="455.3" r="2.9"/><circle cx="296.4" cy="450.7" r="2.9"/><circle cx="287.8" cy="443.3" r="2.9"/><circle cx="306.6" cy="454.6" r="2.9"/><circle cx="296.9" cy="470.3" r="2.9"/><circle cx="264.9" cy="447.4" r="2.9"/><circle cx="263.8" cy="455.4" r="2.9"/><circle cx="255.7" cy="397.2" r="2.9"/><circle cx="260.7" cy="411.2" r="2.9"/><circle cx="278.3" cy="420.1" r="2.9"/><circle cx="263.0" cy="435.2" r="2.9"/><circle cx="295.1" cy="459.2" r="2.9"/><circle cx="253.2" cy="395.3" r="2.9"/><circle cx="291.3" cy="452.8" r="2.9"/><circle cx="288.1" cy="432.1" r="2.9"/><circle cx="295.9" cy="467.3" r="2.9"/><circle cx="252.8" cy="404.1" r="2.9"/><circle cx="296.1" cy="449.1" r="2.9"/><circle cx="277.3" cy="429.1" r="2.9"/><circle cx="280.8" cy="432.7" r="2.9"/><circle cx="298.4" cy="438.3" r="2.9"/><circle cx="308.6" cy="436.3" r="2.9"/><circle cx="307.8" cy="442.6" r="2.9"/><circle cx="290.0" cy="455.8" r="2.9"/><circle cx="305.3" cy="464.1" r="2.9"/><circle cx="254.9" cy="404.6" r="2.9"/><circle cx="298.5" cy="431.3" r="2.9"/><circle cx="276.5" cy="417.2" r="2.9"/><circle cx="283.5" cy="416.0" r="2.9"/><circle cx="283.3" cy="424.6" r="2.9"/><circle cx="252.1" cy="402.4" r="2.9"/><circle cx="292.2" cy="418.3" r="2.9"/><circle cx="258.6" cy="404.1" r="2.9"/><circle cx="314.7" cy="437.6" r="2.9"/><circle cx="294.2" cy="416.0" r="2.9"/><circle cx="267.4" cy="405.1" r="2.9"/><circle cx="274.4" cy="414.7" r="2.9"/><circle cx="308.0" cy="428.9" r="2.9"/><circle cx="303.1" cy="432.6" r="2.9"/><circle cx="280.8" cy="409.9" r="2.9"/><circle cx="283.3" cy="419.0" r="2.9"/><circle cx="266.9" cy="413.6" r="2.9"/><circle cx="299.5" cy="428.5" r="2.9"/><circle cx="295.9" cy="431.2" r="2.9"/><circle cx="263.0" cy="409.1" r="2.9"/><circle cx="307.7" cy="428.2" r="2.9"/><circle cx="294.3" cy="415.4" r="2.9"/><circle cx="280.9" cy="409.9" r="2.9"/><circle cx="307.6" cy="431.9" r="2.9"/><circle cx="286.0" cy="419.1" r="2.9"/><circle cx="260.6" cy="407.0" r="2.9"/><circle cx="293.1" cy="426.3" r="2.9"/><circle cx="285.0" cy="414.0" r="2.9"/><circle cx="276.2" cy="419.1" r="2.9"/><circle cx="308.9" cy="431.2" r="2.9"/><circle cx="312.4" cy="427.9" r="2.9"/><circle cx="293.5" cy="418.1" r="2.9"/><circle cx="310.6" cy="427.3" r="2.9"/><circle cx="297.6" cy="424.0" r="2.9"/><circle cx="316.1" cy="437.4" r="2.9"/><circle cx="305.1" cy="428.0" r="2.9"/><circle cx="285.5" cy="414.0" r="2.9"/><circle cx="304.0" cy="431.3" r="2.9"/><circle cx="251.4" cy="398.0" r="2.9"/><circle cx="294.7" cy="426.6" r="2.9"/><circle cx="292.6" cy="425.3" r="2.9"/><circle cx="272.9" cy="415.6" r="2.9"/><circle cx="264.8" cy="406.9" r="2.9"/><circle cx="254.4" cy="404.5" r="2.9"/><circle cx="279.9" cy="416.1" r="2.9"/><circle cx="315.9" cy="434.0" r="2.9"/><circle cx="245.8" cy="399.7" r="2.9"/><circle cx="265.4" cy="404.8" r="2.9"/><circle cx="305.7" cy="431.6" r="2.9"/><circle cx="306.7" cy="428.8" r="2.9"/><circle cx="310.8" cy="431.2" r="2.9"/><circle cx="293.2" cy="421.9" r="2.9"/><circle cx="305.1" cy="434.6" r="2.9"/><circle cx="306.0" cy="432.0" r="2.9"/><circle cx="261.0" cy="405.6" r="2.9"/><circle cx="292.1" cy="421.6" r="2.9"/><circle cx="282.3" cy="410.7" r="2.9"/><circle cx="285.2" cy="415.6" r="2.9"/><circle cx="293.8" cy="415.5" r="2.9"/><circle cx="286.9" cy="410.0" r="2.9"/><circle cx="304.1" cy="431.3" r="2.9"/><circle cx="284.8" cy="425.6" r="2.9"/><circle cx="250.1" cy="398.0" r="2.9"/><circle cx="265.3" cy="405.0" r="2.9"/><circle cx="269.3" cy="407.3" r="2.9"/><circle cx="272.5" cy="412.4" r="2.9"/><circle cx="309.4" cy="426.6" r="2.9"/><circle cx="258.3" cy="398.6" r="2.9"/><circle cx="272.2" cy="409.1" r="2.9"/><circle cx="278.1" cy="418.6" r="2.9"/><circle cx="313.7" cy="431.3" r="2.9"/><circle cx="268.9" cy="411.0" r="2.9"/><circle cx="259.1" cy="397.7" r="2.9"/><circle cx="284.0" cy="423.0" r="2.9"/><circle cx="305.2" cy="424.0" r="2.9"/><circle cx="308.7" cy="424.8" r="2.9"/><circle cx="271.9" cy="412.5" r="2.9"/><circle cx="261.5" cy="397.3" r="2.9"/><circle cx="279.8" cy="414.9" r="2.9"/><circle cx="294.4" cy="431.5" r="2.9"/><circle cx="298.5" cy="424.1" r="2.9"/><circle cx="304.7" cy="428.3" r="2.9"/><circle cx="308.1" cy="437.2" r="2.9"/><circle cx="252.9" cy="397.1" r="2.9"/><circle cx="287.0" cy="424.3" r="2.9"/><circle cx="259.7" cy="407.9" r="2.9"/><circle cx="273.9" cy="413.7" r="2.9"/><circle cx="278.8" cy="411.2" r="2.9"/><circle cx="302.8" cy="422.9" r="2.9"/><circle cx="272.1" cy="409.4" r="2.9"/><circle cx="256.6" cy="401.2" r="2.9"/><circle cx="258.4" cy="404.5" r="2.9"/><circle cx="276.7" cy="408.3" r="2.9"/><circle cx="260.7" cy="396.7" r="2.9"/><circle cx="276.5" cy="418.0" r="2.9"/><circle cx="300.9" cy="431.4" r="2.9"/><circle cx="299.0" cy="429.6" r="2.9"/><circle cx="314.5" cy="434.6" r="2.9"/><circle cx="269.6" cy="410.0" r="2.9"/><circle cx="297.3" cy="433.3" r="2.9"/><circle cx="256.6" cy="407.1" r="2.9"/><circle cx="272.0" cy="415.1" r="2.9"/><circle cx="286.8" cy="418.4" r="2.9"/><circle cx="282.2" cy="409.5" r="2.9"/><circle cx="284.0" cy="499.2" r="2.9"/><circle cx="276.4" cy="480.8" r="2.9"/><circle cx="284.2" cy="480.1" r="2.9"/><circle cx="285.7" cy="491.8" r="2.9"/><circle cx="281.0" cy="501.7" r="2.9"/><circle cx="268.6" cy="498.0" r="2.9"/><circle cx="277.6" cy="504.1" r="2.9"/><circle cx="270.0" cy="504.6" r="2.9"/><circle cx="270.6" cy="504.2" r="2.9"/><circle cx="280.8" cy="496.5" r="2.9"/><circle cx="275.3" cy="504.4" r="2.9"/><circle cx="274.4" cy="505.3" r="2.9"/><circle cx="282.5" cy="488.6" r="2.9"/><circle cx="273.6" cy="484.4" r="2.9"/><circle cx="269.4" cy="505.6" r="2.9"/><circle cx="271.7" cy="476.2" r="2.9"/><circle cx="281.1" cy="474.5" r="2.9"/><circle cx="279.3" cy="503.3" r="2.9"/><circle cx="274.2" cy="474.7" r="2.9"/><circle cx="272.7" cy="504.0" r="2.9"/><circle cx="278.7" cy="478.7" r="2.9"/><circle cx="270.2" cy="484.5" r="2.9"/><circle cx="271.9" cy="492.6" r="2.9"/><circle cx="272.0" cy="487.3" r="2.9"/><circle cx="285.1" cy="477.2" r="2.9"/><circle cx="276.1" cy="501.1" r="2.9"/><circle cx="282.0" cy="495.4" r="2.9"/><circle cx="279.0" cy="507.9" r="2.9"/><circle cx="279.7" cy="471.8" r="2.9"/><circle cx="280.5" cy="500.2" r="2.9"/><circle cx="277.4" cy="501.8" r="2.9"/><circle cx="273.9" cy="494.8" r="2.9"/><circle cx="272.7" cy="474.9" r="2.9"/><circle cx="275.8" cy="484.6" r="2.9"/><circle cx="285.1" cy="501.0" r="2.9"/><circle cx="274.1" cy="491.8" r="2.9"/><circle cx="277.9" cy="491.2" r="2.9"/><circle cx="268.7" cy="505.1" r="2.9"/><circle cx="280.1" cy="499.3" r="2.9"/><circle cx="268.7" cy="478.8" r="2.9"/><circle cx="278.9" cy="494.6" r="2.9"/><circle cx="278.1" cy="477.5" r="2.9"/><circle cx="283.7" cy="503.7" r="2.9"/><circle cx="269.8" cy="505.7" r="2.9"/><circle cx="271.1" cy="477.7" r="2.9"/><circle cx="281.0" cy="497.0" r="2.9"/><circle cx="287.1" cy="474.0" r="2.9"/><circle cx="280.7" cy="492.3" r="2.9"/><circle cx="274.1" cy="481.0" r="2.9"/><circle cx="268.3" cy="471.9" r="2.9"/><circle cx="269.3" cy="486.0" r="2.9"/><circle cx="283.9" cy="486.3" r="2.9"/><circle cx="282.6" cy="489.5" r="2.9"/><circle cx="271.7" cy="475.0" r="2.9"/><circle cx="274.8" cy="504.3" r="2.9"/><circle cx="272.3" cy="484.6" r="2.9"/><circle cx="276.2" cy="502.7" r="2.9"/><circle cx="279.4" cy="504.0" r="2.9"/><circle cx="280.8" cy="494.9" r="2.9"/><circle cx="277.6" cy="493.2" r="2.9"/><circle cx="277.3" cy="503.9" r="2.9"/><circle cx="273.7" cy="505.2" r="2.9"/><circle cx="278.2" cy="506.7" r="2.9"/><circle cx="272.1" cy="507.8" r="2.9"/><circle cx="272.8" cy="473.8" r="2.9"/><circle cx="278.6" cy="491.4" r="2.9"/><circle cx="286.5" cy="480.6" r="2.9"/><circle cx="278.3" cy="495.1" r="2.9"/><circle cx="278.7" cy="501.7" r="2.9"/><circle cx="285.3" cy="495.2" r="2.9"/><circle cx="279.2" cy="486.6" r="2.9"/><circle cx="300.8" cy="477.2" r="2.9"/><circle cx="291.5" cy="475.3" r="2.9"/><circle cx="292.1" cy="482.2" r="2.9"/><circle cx="295.3" cy="490.4" r="2.9"/><circle cx="289.1" cy="486.6" r="2.9"/><circle cx="288.5" cy="487.6" r="2.9"/><circle cx="287.2" cy="495.2" r="2.9"/><circle cx="301.0" cy="476.1" r="2.9"/><circle cx="304.6" cy="476.6" r="2.9"/><circle cx="289.0" cy="484.5" r="2.9"/><circle cx="299.9" cy="474.7" r="2.9"/><circle cx="291.5" cy="487.8" r="2.9"/><circle cx="291.7" cy="480.6" r="2.9"/><circle cx="292.4" cy="480.0" r="2.9"/><circle cx="287.7" cy="481.4" r="2.9"/><circle cx="300.1" cy="476.6" r="2.9"/><circle cx="228.0" cy="498.4" r="2.9"/><circle cx="255.4" cy="499.0" r="2.9"/><circle cx="261.5" cy="502.3" r="2.9"/><circle cx="241.7" cy="495.4" r="2.9"/><circle cx="217.1" cy="500.4" r="2.9"/><circle cx="249.2" cy="500.7" r="2.9"/><circle cx="253.2" cy="502.8" r="2.9"/><circle cx="241.1" cy="502.4" r="2.9"/><circle cx="243.3" cy="499.9" r="2.9"/><circle cx="256.6" cy="413.9" r="2.9"/><circle cx="251.6" cy="434.3" r="2.9"/><circle cx="248.9" cy="403.9" r="2.9"/><circle cx="256.3" cy="405.4" r="2.9"/><circle cx="261.1" cy="471.2" r="2.9"/><circle cx="241.1" cy="462.5" r="2.9"/><circle cx="245.6" cy="482.9" r="2.9"/><circle cx="240.7" cy="404.1" r="2.9"/><circle cx="263.5" cy="469.5" r="2.9"/><circle cx="265.9" cy="460.2" r="2.9"/><circle cx="250.1" cy="444.9" r="2.9"/><circle cx="245.7" cy="477.1" r="2.9"/><circle cx="241.9" cy="442.6" r="2.9"/><circle cx="240.3" cy="406.4" r="2.9"/><circle cx="256.7" cy="449.3" r="2.9"/><circle cx="254.9" cy="431.6" r="2.9"/><circle cx="264.4" cy="475.2" r="2.9"/><circle cx="239.1" cy="431.9" r="2.9"/><circle cx="264.9" cy="470.2" r="2.9"/><circle cx="241.9" cy="479.1" r="2.9"/><circle cx="256.1" cy="457.6" r="2.9"/><circle cx="245.7" cy="471.0" r="2.9"/><circle cx="237.8" cy="471.4" r="2.9"/><circle cx="238.6" cy="486.4" r="2.9"/><circle cx="253.7" cy="451.9" r="2.9"/><circle cx="251.4" cy="406.7" r="2.9"/>
</g>
</g>
<g fill="none" stroke="#000" stroke-width="1.4">
<rect x="36.1" y="83.0" width="143.4" height="133.1"/>
<rect x="194.5" y="83.0" width="143.5" height="133.1"/>
<rect x="353.0" y="83.0" width="143.7" height="133.1"/>
<rect x="36.1" y="231.9" width="143.4" height="132.8"/>
<rect x="194.5" y="231.9" width="143.5" height="132.8"/>
<rect x="353.0" y="231.9" width="143.7" height="132.8"/>
<rect x="36.1" y="380.5" width="143.4" height="133.2"/>
<rect x="194.5" y="380.5" width="143.5" height="133.2"/>
<rect x="353.0" y="380.5" width="143.7" height="133.2"/>
<path d="M221.3 83.0V75.1"/>
<path d="M256.6 83.0V75.1"/>
<path d="M291.9 83.0V75.1"/>
<path d="M327.2 83.0V75.1"/>
<path d="M40.9 513.7V521.6"/>
<path d="M64.6 513.7V521.6"/>
<path d="M88.3 513.7V521.6"/>
<path d="M112.1 513.7V521.6"/>
<path d="M135.8 513.7V521.6"/>
<path d="M159.5 513.7V521.6"/>
<path d="M358.2 513.7V521.6"/>
<path d="M395.4 513.7V521.6"/>
<path d="M432.7 513.7V521.6"/>
<path d="M469.9 513.7V521.6"/>
<path d="M496.7 211.5H504.6"/>
<path d="M496.7 189.4H504.6"/>
<path d="M496.7 167.4H504.6"/>
<path d="M496.7 145.3H504.6"/>
<path d="M496.7 123.3H504.6"/>
<path d="M496.7 101.2H504.6"/>
<path d="M496.7 508.7H504.6"/>
<path d="M496.7 474.1H504.6"/>
<path d="M496.7 439.5H504.6"/>
<path d="M496.7 404.9H504.6"/>
<path d="M36.1 339.9H28.2"/>
<path d="M36.1 307.2H28.2"/>
<path d="M36.1 274.5H28.2"/>
<path d="M36.1 241.8H28.2"/>
</g>
<g font-family="'Liberation Sans',Arial,Helvetica,sans-serif" font-size="12.3px" fill="#000" text-anchor="middle">
<text x="221.3" y="64.9">−6</text>
<text x="256.6" y="64.9">−5</text>
<text x="291.9" y="64.9">−4</text>
<text x="327.2" y="64.9">−3</text>
<text x="40.9" y="541.1">0</text>
<text x="64.6" y="541.1">1</text>
<text x="88.3" y="541.1">2</text>
<text x="112.1" y="541.1">3</text>
<text x="135.8" y="541.1">4</text>
<text x="159.5" y="541.1">5</text>
<text x="358.2" y="541.1">0.0</text>
<text x="395.4" y="541.1">0.5</text>
<text x="432.7" y="541.1">1.0</text>
<text x="469.9" y="541.1">1.5</text>
<text transform="translate(523.4 211.5) rotate(-90)">0</text>
<text transform="translate(523.4 189.4) rotate(-90)">1</text>
<text transform="translate(523.4 167.4) rotate(-90)">2</text>
<text transform="translate(523.4 145.3) rotate(-90)">3</text>
<text transform="translate(523.4 123.3) rotate(-90)">4</text>
<text transform="translate(523.4 101.2) rotate(-90)">5</text>
<text transform="translate(523.4 508.7) rotate(-90)">0.0</text>
<text transform="translate(523.4 474.1) rotate(-90)">0.5</text>
<text transform="translate(523.4 439.5) rotate(-90)">1.0</text>
<text transform="translate(523.4 404.9) rotate(-90)">1.5</text>
<text transform="translate(17.3 339.9) rotate(-90)">−6</text>
<text transform="translate(17.3 307.2) rotate(-90)">−5</text>
<text transform="translate(17.3 274.5) rotate(-90)">−4</text>
<text transform="translate(17.3 241.8) rotate(-90)">−3</text>
</g>
<g font-family="'Liberation Serif','DejaVu Serif',serif" font-size="27px" fill="#000" text-anchor="middle">
<text transform="translate(108.1 156.0) scale(1.18 1)">α</text>
<text transform="translate(266.7 301.7) scale(1.14 0.93)">μ</text>
<text transform="translate(424.7 453.5) scale(1.06 1)">σ</text>
</g>
</svg>
</body></html>
